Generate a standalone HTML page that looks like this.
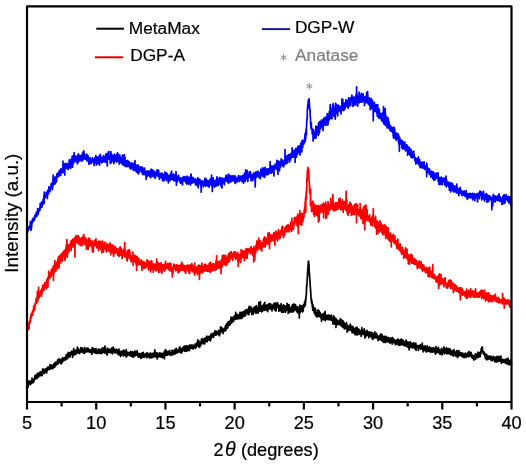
<!DOCTYPE html>
<html><head><meta charset="utf-8"><style>
html,body{margin:0;padding:0;background:#fff;font-family:"Liberation Sans",sans-serif;}
body{width:526px;height:465px;overflow:hidden;}
svg{display:block;filter:blur(0.35px);}
</style></head><body>
<svg width="526" height="465" viewBox="0 0 526 465">
<g fill="none" stroke-linejoin="round" stroke-linecap="butt">
<polyline stroke="#0000ff" stroke-width="1.7" points="27.0,232.6 27.1,233.1 27.3,231.8 27.4,228.7 27.6,232.3 27.7,231.2 27.8,229.3 28.0,230.8 28.1,230.1 28.2,229.7 28.4,228.8 28.5,229.6 28.7,227.1 28.8,227.8 28.9,227.2 29.1,229.0 29.2,227.9 29.4,227.3 29.5,226.2 29.6,226.5 29.8,226.8 29.9,226.1 30.0,228.7 30.2,228.0 30.3,221.6 30.5,222.9 30.6,225.8 30.7,225.1 30.9,226.0 31.0,230.4 31.2,228.4 31.3,222.8 31.4,223.7 31.6,227.6 31.7,224.9 31.8,224.7 32.0,222.3 32.1,220.0 32.3,222.9 32.4,222.4 32.5,220.0 32.7,220.4 32.8,221.1 33.0,218.3 33.1,220.9 33.2,221.0 33.4,220.7 33.5,219.1 33.6,220.8 33.8,221.0 33.9,219.9 34.1,217.8 34.2,220.2 34.3,217.8 34.5,219.9 34.6,216.2 34.8,219.3 34.9,217.6 35.0,215.1 35.2,216.2 35.3,216.9 35.4,216.7 35.6,214.6 35.7,214.0 35.9,215.9 36.0,214.5 36.1,215.6 36.3,216.4 36.4,212.0 36.6,215.2 36.7,216.7 36.8,213.9 37.0,212.6 37.1,215.0 37.2,214.3 37.4,215.0 37.5,212.7 37.7,208.5 37.8,212.9 37.9,212.3 38.1,214.1 38.2,214.4 38.4,209.1 38.5,209.5 38.6,212.3 38.8,211.7 38.9,209.2 39.0,210.3 39.2,210.5 39.3,210.0 39.5,210.5 39.6,209.1 39.7,208.0 39.9,207.3 40.0,210.2 40.2,203.4 40.3,204.9 40.4,206.6 40.6,204.0 40.7,204.3 40.9,205.0 41.0,207.1 41.1,205.3 41.3,206.9 41.4,207.5 41.5,205.6 41.7,201.8 41.8,202.0 42.0,207.2 42.1,203.7 42.2,202.8 42.4,204.1 42.5,203.4 42.7,204.7 42.8,202.8 42.9,200.0 43.1,201.2 43.2,202.7 43.3,199.2 43.5,201.7 43.6,202.8 43.8,197.3 43.9,195.3 44.0,200.5 44.2,203.5 44.3,192.0 44.5,196.1 44.6,198.5 44.7,195.9 44.9,196.5 45.0,196.4 45.1,197.6 45.3,195.7 45.4,196.8 45.6,195.9 45.7,194.5 45.8,195.2 46.0,193.8 46.1,195.0 46.3,192.8 46.4,192.4 46.5,196.6 46.7,194.0 46.8,193.8 46.9,194.4 47.1,192.5 47.2,192.8 47.4,198.6 47.5,193.4 47.6,190.6 47.8,194.0 47.9,191.1 48.1,190.0 48.2,190.0 48.3,190.7 48.5,194.0 48.6,189.1 48.7,191.3 48.9,186.9 49.0,190.4 49.2,191.5 49.3,189.3 49.4,188.1 49.6,189.3 49.7,189.9 49.9,189.4 50.0,191.8 50.1,188.3 50.3,186.9 50.4,187.6 50.5,187.4 50.7,187.4 50.8,187.1 51.0,187.4 51.1,183.8 51.2,188.1 51.4,185.3 51.5,184.0 51.7,187.1 51.8,188.3 51.9,186.5 52.1,185.4 52.2,183.2 52.3,189.8 52.5,185.7 52.6,181.6 52.8,187.2 52.9,183.7 53.0,180.4 53.2,175.1 53.3,181.8 53.5,184.7 53.6,183.8 53.7,176.7 53.9,181.4 54.0,178.6 54.1,180.7 54.3,181.8 54.4,182.1 54.6,179.1 54.7,184.2 54.8,184.2 55.0,177.8 55.1,180.3 55.3,178.2 55.4,179.3 55.5,177.2 55.7,182.9 55.8,177.2 55.9,178.3 56.1,179.3 56.2,176.8 56.4,177.3 56.5,182.0 56.6,176.8 56.8,174.8 56.9,174.2 57.1,176.3 57.2,176.0 57.3,176.2 57.5,173.3 57.6,177.3 57.7,175.1 57.9,175.3 58.0,174.0 58.2,174.1 58.3,172.8 58.4,176.4 58.6,173.2 58.7,173.9 58.9,175.8 59.0,175.7 59.1,174.1 59.3,170.5 59.4,175.3 59.5,175.0 59.7,171.5 59.8,175.6 60.0,172.2 60.1,171.3 60.2,172.6 60.4,172.5 60.5,174.2 60.7,169.1 60.8,175.4 60.9,170.7 61.1,168.6 61.2,172.8 61.3,170.9 61.5,172.1 61.6,170.7 61.8,171.2 61.9,171.8 62.0,169.8 62.2,172.7 62.3,170.2 62.5,169.5 62.6,171.6 62.7,172.4 62.9,171.1 63.0,161.2 63.1,172.6 63.3,167.4 63.4,168.7 63.6,170.9 63.7,167.8 63.8,170.6 64.0,170.0 64.1,171.9 64.3,167.8 64.4,168.3 64.5,170.0 64.7,163.9 64.8,175.1 64.9,167.0 65.1,166.3 65.2,169.5 65.4,167.6 65.5,163.7 65.6,168.3 65.8,168.3 65.9,165.2 66.1,165.5 66.2,167.1 66.3,164.1 66.5,167.1 66.6,166.3 66.7,164.9 66.9,163.4 67.0,166.0 67.2,164.9 67.3,168.8 67.4,166.9 67.6,168.1 67.7,166.4 67.9,166.5 68.0,164.3 68.1,167.3 68.3,169.5 68.4,165.0 68.6,164.2 68.7,165.3 68.8,164.0 69.0,163.4 69.1,165.3 69.2,159.8 69.4,167.7 69.5,164.5 69.7,164.7 69.8,166.3 69.9,163.7 70.1,167.6 70.2,163.0 70.4,162.6 70.5,163.1 70.6,163.4 70.8,168.4 70.9,163.3 71.0,159.4 71.2,165.6 71.3,162.4 71.5,160.6 71.6,159.6 71.7,160.9 71.9,161.3 72.0,159.3 72.2,156.0 72.3,160.7 72.4,159.9 72.6,167.2 72.7,163.1 72.8,160.4 73.0,161.4 73.1,157.6 73.3,161.9 73.4,160.2 73.5,161.2 73.7,163.4 73.8,154.7 74.0,160.3 74.1,152.7 74.2,160.9 74.4,156.6 74.5,158.4 74.6,159.6 74.8,161.0 74.9,159.5 75.1,157.5 75.2,157.9 75.3,160.7 75.5,159.4 75.6,155.8 75.8,161.6 75.9,160.7 76.0,161.3 76.2,158.4 76.3,161.1 76.4,156.6 76.6,159.9 76.7,157.7 76.9,160.2 77.0,161.1 77.1,157.1 77.3,164.0 77.4,158.5 77.6,161.1 77.7,159.5 77.8,155.0 78.0,158.6 78.1,159.5 78.2,162.6 78.4,153.9 78.5,156.4 78.7,160.7 78.8,155.1 78.9,155.1 79.1,158.3 79.2,159.4 79.4,155.8 79.5,158.6 79.6,157.5 79.8,160.9 79.9,157.7 80.0,160.0 80.2,155.5 80.3,157.3 80.5,157.4 80.6,160.3 80.7,158.9 80.9,155.7 81.0,159.4 81.2,159.5 81.3,157.4 81.4,160.1 81.6,157.2 81.7,161.2 81.8,157.9 82.0,157.9 82.1,155.0 82.3,158.5 82.4,153.4 82.5,154.9 82.7,155.0 82.8,160.3 83.0,152.0 83.1,156.8 83.2,158.1 83.4,157.0 83.5,159.0 83.6,153.7 83.8,150.9 83.9,157.8 84.1,153.2 84.2,155.3 84.3,153.7 84.5,158.7 84.6,158.6 84.8,155.3 84.9,159.2 85.0,157.9 85.2,157.3 85.3,157.1 85.4,156.7 85.6,158.5 85.7,157.8 85.9,156.2 86.0,159.2 86.1,155.7 86.3,158.3 86.4,158.3 86.6,154.0 86.7,156.2 86.8,160.9 87.0,157.5 87.1,156.6 87.2,155.8 87.4,159.1 87.5,157.5 87.7,155.1 87.8,155.4 87.9,156.5 88.1,156.3 88.2,160.6 88.4,161.1 88.5,160.3 88.6,159.2 88.8,164.2 88.9,159.0 89.0,161.0 89.2,163.5 89.3,160.7 89.5,158.1 89.6,159.0 89.7,158.1 89.9,157.5 90.0,159.4 90.2,160.3 90.3,163.6 90.4,159.4 90.6,162.6 90.7,163.5 90.8,160.1 91.0,163.7 91.1,161.6 91.3,159.4 91.4,161.1 91.5,160.6 91.7,160.2 91.8,160.3 92.0,161.1 92.1,161.7 92.2,158.8 92.4,160.9 92.5,157.7 92.6,161.3 92.8,162.1 92.9,160.7 93.1,161.0 93.2,161.7 93.3,159.2 93.5,160.1 93.6,161.6 93.8,162.8 93.9,161.4 94.0,165.6 94.2,159.6 94.3,162.0 94.4,162.5 94.6,159.8 94.7,158.3 94.9,157.8 95.0,160.8 95.1,162.8 95.3,160.9 95.4,160.7 95.6,159.3 95.7,161.3 95.8,155.7 96.0,160.5 96.1,160.5 96.3,157.4 96.4,165.1 96.5,157.5 96.7,157.5 96.8,157.4 96.9,162.3 97.1,158.2 97.2,161.5 97.4,161.6 97.5,160.7 97.6,157.2 97.8,159.0 97.9,163.8 98.1,157.5 98.2,158.3 98.3,159.6 98.5,161.6 98.6,160.2 98.7,161.5 98.9,157.2 99.0,161.5 99.2,160.3 99.3,155.8 99.4,162.3 99.6,165.1 99.7,157.0 99.9,158.9 100.0,161.7 100.1,155.6 100.3,154.4 100.4,156.0 100.5,157.5 100.7,157.8 100.8,160.9 101.0,160.3 101.1,157.7 101.2,161.2 101.4,162.0 101.5,162.6 101.7,162.2 101.8,160.1 101.9,161.9 102.1,157.5 102.2,161.3 102.3,159.6 102.5,162.3 102.6,161.0 102.8,157.4 102.9,159.5 103.0,161.8 103.2,156.6 103.3,157.7 103.5,161.5 103.6,155.5 103.7,160.8 103.9,161.7 104.0,160.9 104.1,159.5 104.3,158.7 104.4,159.1 104.6,157.1 104.7,160.4 104.8,160.4 105.0,160.2 105.1,157.1 105.3,158.6 105.4,158.2 105.5,162.5 105.7,158.7 105.8,154.0 105.9,159.2 106.1,162.1 106.2,159.4 106.4,159.7 106.5,158.2 106.6,153.6 106.8,154.2 106.9,155.3 107.1,157.8 107.2,158.9 107.3,166.0 107.5,156.6 107.6,159.8 107.7,157.3 107.9,156.1 108.0,159.5 108.2,155.7 108.3,151.9 108.4,155.9 108.6,158.5 108.7,151.7 108.9,151.9 109.0,158.1 109.1,155.6 109.3,157.6 109.4,158.3 109.5,158.5 109.7,157.5 109.8,159.8 110.0,155.9 110.1,157.8 110.2,161.5 110.4,163.7 110.5,160.2 110.7,159.6 110.8,162.5 110.9,151.5 111.1,157.5 111.2,155.0 111.3,156.9 111.5,162.5 111.6,154.7 111.8,157.8 111.9,154.7 112.0,156.3 112.2,159.2 112.3,161.1 112.5,158.7 112.6,158.4 112.7,157.9 112.9,160.9 113.0,158.1 113.1,156.5 113.3,155.7 113.4,155.5 113.6,158.6 113.7,156.8 113.8,163.6 114.0,161.9 114.1,157.4 114.3,158.9 114.4,162.1 114.5,154.0 114.7,157.5 114.8,161.0 114.9,156.8 115.1,157.8 115.2,158.2 115.4,160.6 115.5,159.3 115.6,159.8 115.8,160.3 115.9,155.6 116.1,161.4 116.2,157.9 116.3,155.8 116.5,155.0 116.6,155.4 116.7,162.0 116.9,161.0 117.0,159.4 117.2,157.7 117.3,156.7 117.4,152.9 117.6,158.3 117.7,157.8 117.9,155.9 118.0,157.7 118.1,161.1 118.3,154.1 118.4,158.8 118.5,154.7 118.7,160.1 118.8,158.2 119.0,155.2 119.1,160.9 119.2,164.1 119.4,160.2 119.5,162.7 119.7,159.9 119.8,155.2 119.9,160.8 120.1,158.9 120.2,156.9 120.3,161.7 120.5,160.9 120.6,159.2 120.8,162.4 120.9,158.2 121.0,161.4 121.2,158.3 121.3,161.3 121.5,158.0 121.6,163.6 121.7,160.6 121.9,163.8 122.0,158.8 122.1,160.0 122.3,162.9 122.4,155.1 122.6,159.0 122.7,163.9 122.8,162.6 123.0,163.9 123.1,161.5 123.3,163.0 123.4,165.5 123.5,158.7 123.7,158.2 123.8,160.9 124.0,160.9 124.1,160.7 124.2,154.6 124.4,158.1 124.5,161.2 124.6,162.7 124.8,160.8 124.9,160.2 125.1,157.3 125.2,166.6 125.3,160.4 125.5,166.2 125.6,165.8 125.8,163.5 125.9,162.0 126.0,163.4 126.2,160.8 126.3,163.5 126.4,162.8 126.6,164.2 126.7,165.1 126.9,166.7 127.0,162.0 127.1,165.3 127.3,161.5 127.4,161.4 127.6,160.4 127.7,161.8 127.8,165.5 128.0,165.6 128.1,166.3 128.2,163.8 128.4,164.7 128.5,163.1 128.7,161.7 128.8,165.3 128.9,165.4 129.1,162.9 129.2,166.6 129.4,162.0 129.5,165.2 129.6,164.6 129.8,164.7 129.9,163.8 130.0,168.1 130.2,167.5 130.3,168.8 130.5,166.6 130.6,163.6 130.7,165.4 130.9,163.7 131.0,167.2 131.2,168.7 131.3,166.8 131.4,164.4 131.6,165.0 131.7,166.1 131.8,162.8 132.0,166.1 132.1,166.4 132.3,164.3 132.4,165.8 132.5,166.9 132.7,165.0 132.8,165.5 133.0,168.6 133.1,167.2 133.2,170.3 133.4,165.0 133.5,163.6 133.6,169.1 133.8,169.3 133.9,165.5 134.1,164.2 134.2,167.0 134.3,163.7 134.5,169.8 134.6,162.3 134.8,166.4 134.9,162.8 135.0,160.7 135.2,170.8 135.3,167.1 135.4,167.0 135.6,165.8 135.7,165.7 135.9,164.8 136.0,170.3 136.1,168.0 136.3,171.5 136.4,165.5 136.6,167.7 136.7,168.8 136.8,171.8 137.0,172.4 137.1,167.5 137.2,166.9 137.4,166.1 137.5,172.5 137.7,169.8 137.8,168.6 137.9,169.7 138.1,164.9 138.2,166.6 138.4,173.9 138.5,171.2 138.6,170.4 138.8,167.8 138.9,170.7 139.0,173.0 139.2,167.1 139.3,169.3 139.5,168.0 139.6,169.5 139.7,168.6 139.9,168.3 140.0,166.8 140.2,168.4 140.3,167.1 140.4,168.0 140.6,168.3 140.7,170.1 140.8,167.7 141.0,168.7 141.1,171.6 141.3,168.9 141.4,169.5 141.5,171.5 141.7,170.5 141.8,167.0 142.0,170.8 142.1,170.7 142.2,171.2 142.4,173.1 142.5,174.5 142.6,167.4 142.8,171.2 142.9,169.0 143.1,170.4 143.2,171.3 143.3,168.7 143.5,173.8 143.6,171.3 143.8,173.2 143.9,172.8 144.0,174.6 144.2,174.5 144.3,169.2 144.4,172.4 144.6,168.0 144.7,171.5 144.9,173.6 145.0,173.7 145.1,174.6 145.3,171.2 145.4,172.6 145.6,172.0 145.7,174.4 145.8,175.0 146.0,171.4 146.1,179.5 146.2,172.1 146.4,171.6 146.5,173.7 146.7,174.3 146.8,173.9 146.9,174.3 147.1,176.4 147.2,173.3 147.4,176.3 147.5,176.0 147.6,170.9 147.8,171.3 147.9,171.5 148.0,173.7 148.2,173.2 148.3,172.2 148.5,171.4 148.6,173.7 148.7,175.4 148.9,172.8 149.0,172.1 149.2,173.0 149.3,172.4 149.4,172.2 149.6,176.0 149.7,174.8 149.8,174.2 150.0,170.9 150.1,177.0 150.3,173.5 150.4,171.9 150.5,172.0 150.7,172.0 150.8,177.6 151.0,173.8 151.1,174.7 151.2,169.1 151.4,174.8 151.5,171.4 151.7,171.3 151.8,174.8 151.9,171.9 152.1,175.2 152.2,175.7 152.3,170.0 152.5,173.0 152.6,170.2 152.8,173.1 152.9,175.6 153.0,170.2 153.2,176.8 153.3,172.7 153.5,171.1 153.6,173.3 153.7,175.5 153.9,171.2 154.0,174.0 154.1,171.4 154.3,176.6 154.4,174.6 154.6,173.7 154.7,176.9 154.8,172.3 155.0,174.3 155.1,178.5 155.3,174.5 155.4,177.4 155.5,174.9 155.7,172.8 155.8,176.8 155.9,174.3 156.1,173.0 156.2,172.2 156.4,172.6 156.5,171.1 156.6,174.0 156.8,174.4 156.9,174.9 157.1,169.8 157.2,175.1 157.3,173.6 157.5,170.7 157.6,174.0 157.7,175.6 157.9,175.4 158.0,173.1 158.2,176.6 158.3,176.4 158.4,174.3 158.6,170.2 158.7,173.0 158.9,175.4 159.0,174.2 159.1,176.6 159.3,177.0 159.4,175.5 159.5,179.3 159.7,173.9 159.8,177.4 160.0,174.4 160.1,174.0 160.2,176.7 160.4,174.5 160.5,177.7 160.7,173.6 160.8,175.9 160.9,174.1 161.1,175.2 161.2,174.9 161.3,173.2 161.5,176.4 161.6,172.9 161.8,173.5 161.9,177.5 162.0,178.0 162.2,177.4 162.3,176.9 162.5,180.6 162.6,174.1 162.7,178.9 162.9,174.4 163.0,177.8 163.1,177.0 163.3,178.5 163.4,178.6 163.6,176.5 163.7,176.3 163.8,174.7 164.0,180.9 164.1,178.3 164.3,177.6 164.4,175.9 164.5,176.3 164.7,175.8 164.8,176.3 164.9,172.2 165.1,177.0 165.2,176.5 165.4,177.6 165.5,177.4 165.6,178.8 165.8,177.1 165.9,179.0 166.1,172.6 166.2,175.5 166.3,180.4 166.5,175.2 166.6,176.8 166.7,178.7 166.9,175.6 167.0,179.0 167.2,175.0 167.3,173.8 167.4,175.3 167.6,174.6 167.7,177.9 167.9,177.5 168.0,178.6 168.1,176.0 168.3,183.0 168.4,178.0 168.5,177.8 168.7,179.1 168.8,177.5 169.0,177.0 169.1,175.7 169.2,179.3 169.4,179.0 169.5,179.4 169.7,176.6 169.8,175.8 169.9,181.0 170.1,176.7 170.2,174.5 170.3,178.5 170.5,179.8 170.6,174.5 170.8,176.1 170.9,176.1 171.0,176.1 171.2,172.2 171.3,176.6 171.5,171.2 171.6,177.5 171.7,177.8 171.9,178.4 172.0,175.2 172.1,179.4 172.3,175.7 172.4,175.0 172.6,175.6 172.7,175.8 172.8,178.1 173.0,179.7 173.1,174.1 173.3,177.2 173.4,180.3 173.5,178.7 173.7,179.2 173.8,175.3 173.9,179.8 174.1,174.7 174.2,177.8 174.4,180.1 174.5,181.0 174.6,178.5 174.8,179.3 174.9,176.3 175.1,176.4 175.2,179.8 175.3,177.8 175.5,177.5 175.6,175.2 175.7,178.3 175.9,179.3 176.0,171.7 176.2,177.0 176.3,181.1 176.4,185.2 176.6,178.2 176.7,176.3 176.9,177.5 177.0,178.4 177.1,181.7 177.3,177.7 177.4,181.8 177.5,176.7 177.7,177.9 177.8,180.2 178.0,178.1 178.1,176.9 178.2,178.4 178.4,179.6 178.5,175.3 178.7,178.6 178.8,178.8 178.9,178.1 179.1,180.2 179.2,177.7 179.4,178.2 179.5,179.4 179.6,180.6 179.8,178.7 179.9,182.2 180.0,177.6 180.2,181.8 180.3,177.9 180.5,179.2 180.6,180.4 180.7,183.4 180.9,181.3 181.0,178.9 181.2,182.2 181.3,179.4 181.4,178.0 181.6,180.3 181.7,179.9 181.8,181.6 182.0,178.6 182.1,180.1 182.3,181.0 182.4,179.9 182.5,184.9 182.7,177.6 182.8,180.7 183.0,179.0 183.1,179.4 183.2,177.8 183.4,178.3 183.5,176.6 183.6,178.7 183.8,179.7 183.9,178.7 184.1,180.3 184.2,179.4 184.3,181.2 184.5,178.7 184.6,176.5 184.8,180.2 184.9,179.1 185.0,177.7 185.2,180.9 185.3,180.1 185.4,180.6 185.6,179.1 185.7,180.2 185.9,180.4 186.0,183.1 186.1,178.3 186.3,179.6 186.4,180.3 186.6,176.3 186.7,176.4 186.8,183.9 187.0,176.3 187.1,180.9 187.2,178.4 187.4,178.8 187.5,176.4 187.7,178.4 187.8,181.3 187.9,177.3 188.1,181.2 188.2,180.6 188.4,184.1 188.5,179.6 188.6,182.8 188.8,182.0 188.9,179.8 189.0,177.3 189.2,183.3 189.3,177.8 189.5,179.1 189.6,181.9 189.7,182.4 189.9,178.9 190.0,180.1 190.2,179.8 190.3,182.4 190.4,185.1 190.6,176.4 190.7,181.6 190.8,174.3 191.0,179.7 191.1,174.2 191.3,183.4 191.4,179.7 191.5,178.3 191.7,178.8 191.8,178.8 192.0,180.1 192.1,179.8 192.2,181.1 192.4,183.0 192.5,182.3 192.6,177.9 192.8,177.4 192.9,179.3 193.1,182.6 193.2,180.1 193.3,179.5 193.5,181.2 193.6,178.2 193.8,178.8 193.9,181.8 194.0,180.4 194.2,180.2 194.3,181.8 194.4,180.2 194.6,179.8 194.7,180.6 194.9,182.4 195.0,181.3 195.1,179.2 195.3,180.5 195.4,182.6 195.6,184.9 195.7,179.2 195.8,181.7 196.0,180.7 196.1,181.1 196.2,184.7 196.4,184.0 196.5,182.2 196.7,180.2 196.8,180.1 196.9,180.6 197.1,182.0 197.2,185.7 197.4,184.3 197.5,179.0 197.6,181.8 197.8,178.9 197.9,177.7 198.0,183.0 198.2,187.8 198.3,179.8 198.5,185.0 198.6,180.0 198.7,179.8 198.9,183.4 199.0,182.6 199.2,181.8 199.3,182.2 199.4,182.9 199.6,182.1 199.7,182.3 199.8,179.0 200.0,180.3 200.1,183.7 200.3,181.3 200.4,183.9 200.5,185.0 200.7,182.3 200.8,183.7 201.0,186.6 201.1,184.3 201.2,192.2 201.4,185.8 201.5,184.0 201.6,182.5 201.8,184.8 201.9,180.6 202.1,183.4 202.2,183.6 202.3,182.2 202.5,184.1 202.6,181.5 202.8,184.4 202.9,182.1 203.0,182.2 203.2,182.2 203.3,182.0 203.4,186.8 203.6,186.0 203.7,181.6 203.9,185.0 204.0,183.9 204.1,182.0 204.3,185.8 204.4,180.6 204.6,179.9 204.7,183.3 204.8,179.7 205.0,178.2 205.1,184.2 205.2,183.7 205.4,183.7 205.5,181.7 205.7,182.9 205.8,180.8 205.9,186.1 206.1,184.4 206.2,184.3 206.4,179.0 206.5,184.2 206.6,185.7 206.8,185.0 206.9,184.2 207.1,182.6 207.2,182.3 207.3,184.4 207.5,184.2 207.6,183.5 207.7,182.3 207.9,186.0 208.0,180.6 208.2,182.8 208.3,182.0 208.4,185.2 208.6,186.0 208.7,185.7 208.9,184.8 209.0,180.7 209.1,187.3 209.3,184.4 209.4,182.8 209.5,182.5 209.7,182.5 209.8,184.1 210.0,183.6 210.1,182.0 210.2,178.9 210.4,182.7 210.5,183.7 210.7,183.6 210.8,182.4 210.9,183.8 211.1,185.0 211.2,181.8 211.3,185.3 211.5,179.2 211.6,175.2 211.8,181.1 211.9,178.3 212.0,181.0 212.2,185.4 212.3,191.4 212.5,183.4 212.6,186.2 212.7,183.6 212.9,181.9 213.0,183.1 213.1,177.9 213.3,184.4 213.4,183.2 213.6,184.9 213.7,182.7 213.8,185.2 214.0,180.7 214.1,182.7 214.3,183.6 214.4,187.1 214.5,180.5 214.7,186.2 214.8,184.0 214.9,182.2 215.1,185.1 215.2,182.7 215.4,184.6 215.5,186.3 215.6,183.4 215.8,180.4 215.9,180.6 216.1,182.3 216.2,181.9 216.3,179.8 216.5,180.6 216.6,183.3 216.7,185.9 216.9,176.8 217.0,181.8 217.2,181.8 217.3,183.8 217.4,184.2 217.6,182.8 217.7,180.9 217.9,180.0 218.0,178.7 218.1,184.6 218.3,181.9 218.4,181.2 218.5,185.3 218.7,179.4 218.8,182.6 219.0,184.1 219.1,183.8 219.2,178.4 219.4,183.7 219.5,179.5 219.7,177.3 219.8,178.4 219.9,179.2 220.1,181.4 220.2,179.4 220.3,178.6 220.5,181.0 220.6,184.9 220.8,180.2 220.9,182.5 221.0,181.9 221.2,186.7 221.3,178.2 221.5,184.0 221.6,179.6 221.7,180.8 221.9,181.8 222.0,188.0 222.1,180.3 222.3,178.0 222.4,183.8 222.6,179.7 222.7,180.9 222.8,180.9 223.0,181.0 223.1,180.3 223.3,181.1 223.4,181.4 223.5,182.4 223.7,179.7 223.8,179.1 223.9,178.5 224.1,181.1 224.2,180.0 224.4,184.6 224.5,181.5 224.6,183.6 224.8,180.7 224.9,181.8 225.1,178.1 225.2,178.5 225.3,179.7 225.5,177.5 225.6,180.6 225.7,177.0 225.9,179.8 226.0,175.1 226.2,178.0 226.3,179.0 226.4,179.0 226.6,175.8 226.7,179.4 226.9,181.1 227.0,180.2 227.1,177.8 227.3,177.9 227.4,177.0 227.5,180.8 227.7,182.5 227.8,178.7 228.0,178.9 228.1,179.8 228.2,180.7 228.4,174.1 228.5,179.5 228.7,183.3 228.8,180.5 228.9,179.9 229.1,179.7 229.2,181.2 229.3,177.1 229.5,177.0 229.6,179.5 229.8,177.7 229.9,179.4 230.0,175.3 230.2,180.2 230.3,180.3 230.5,178.8 230.6,179.2 230.7,182.1 230.9,177.1 231.0,177.4 231.1,177.4 231.3,178.5 231.4,177.5 231.6,179.5 231.7,178.1 231.8,176.0 232.0,175.8 232.1,181.0 232.3,178.7 232.4,178.4 232.5,179.0 232.7,178.6 232.8,180.2 232.9,180.0 233.1,177.8 233.2,177.0 233.4,176.2 233.5,175.8 233.6,181.0 233.8,176.5 233.9,175.6 234.1,176.6 234.2,176.7 234.3,178.6 234.5,176.2 234.6,178.9 234.8,179.0 234.9,180.7 235.0,182.2 235.2,183.4 235.3,180.7 235.4,176.1 235.6,177.9 235.7,179.0 235.9,182.4 236.0,179.9 236.1,182.5 236.3,178.3 236.4,180.0 236.6,180.4 236.7,178.3 236.8,180.3 237.0,180.6 237.1,178.4 237.2,180.6 237.4,181.7 237.5,178.7 237.7,178.4 237.8,177.8 237.9,177.2 238.1,178.8 238.2,177.7 238.4,177.9 238.5,177.5 238.6,175.5 238.8,176.3 238.9,178.6 239.0,176.0 239.2,176.8 239.3,181.6 239.5,180.6 239.6,176.5 239.7,178.7 239.9,176.4 240.0,180.4 240.2,176.3 240.3,178.0 240.4,180.3 240.6,176.1 240.7,180.4 240.8,176.3 241.0,178.6 241.1,177.6 241.3,177.9 241.4,178.1 241.5,177.9 241.7,176.3 241.8,180.2 242.0,180.2 242.1,181.8 242.2,181.8 242.4,175.8 242.5,180.9 242.6,180.8 242.8,177.0 242.9,180.1 243.1,180.7 243.2,176.7 243.3,175.1 243.5,177.3 243.6,183.2 243.8,178.1 243.9,175.7 244.0,177.1 244.2,175.5 244.3,177.0 244.4,178.1 244.6,173.0 244.7,178.7 244.9,180.8 245.0,177.6 245.1,177.2 245.3,179.8 245.4,181.5 245.6,175.2 245.7,169.9 245.8,177.3 246.0,178.4 246.1,177.3 246.2,178.2 246.4,178.3 246.5,177.8 246.7,175.3 246.8,176.1 246.9,179.0 247.1,170.3 247.2,176.1 247.4,175.9 247.5,172.7 247.6,174.4 247.8,174.0 247.9,181.5 248.0,177.9 248.2,174.9 248.3,176.6 248.5,178.0 248.6,175.9 248.7,177.7 248.9,175.3 249.0,175.8 249.2,176.5 249.3,175.8 249.4,171.7 249.6,176.7 249.7,177.1 249.8,177.2 250.0,174.0 250.1,176.9 250.3,176.6 250.4,172.6 250.5,171.8 250.7,177.2 250.8,174.6 251.0,178.6 251.1,180.9 251.2,175.7 251.4,175.4 251.5,177.1 251.6,178.2 251.8,174.6 251.9,179.6 252.1,179.6 252.2,178.9 252.3,176.4 252.5,178.9 252.6,178.8 252.8,174.6 252.9,180.6 253.0,175.7 253.2,176.8 253.3,174.7 253.4,176.2 253.6,177.8 253.7,174.1 253.9,172.5 254.0,175.0 254.1,173.1 254.3,174.0 254.4,175.3 254.6,175.7 254.7,178.4 254.8,173.5 255.0,176.3 255.1,178.1 255.2,186.9 255.4,180.4 255.5,175.9 255.7,178.5 255.8,174.3 255.9,172.1 256.1,172.4 256.2,171.9 256.4,172.9 256.5,174.1 256.6,176.9 256.8,175.9 256.9,175.9 257.0,174.3 257.2,173.7 257.3,175.3 257.5,175.6 257.6,176.0 257.7,176.1 257.9,174.6 258.0,171.0 258.2,172.3 258.3,172.8 258.4,172.3 258.6,173.9 258.7,175.7 258.8,177.5 259.0,175.1 259.1,173.4 259.3,173.8 259.4,172.5 259.5,177.7 259.7,176.5 259.8,175.2 260.0,176.0 260.1,175.9 260.2,178.8 260.4,173.4 260.5,175.0 260.6,175.8 260.8,176.9 260.9,169.0 261.1,172.6 261.2,173.3 261.3,171.4 261.5,174.9 261.6,173.7 261.8,172.2 261.9,169.6 262.0,169.9 262.2,170.4 262.3,173.0 262.5,169.6 262.6,167.8 262.7,168.8 262.9,170.5 263.0,175.1 263.1,176.8 263.3,170.7 263.4,173.5 263.6,174.4 263.7,174.4 263.8,171.5 264.0,169.1 264.1,170.8 264.3,168.0 264.4,172.1 264.5,173.0 264.7,177.5 264.8,171.6 264.9,172.1 265.1,167.4 265.2,174.0 265.4,173.0 265.5,170.1 265.6,170.9 265.8,173.6 265.9,170.0 266.1,171.4 266.2,174.7 266.3,172.0 266.5,169.0 266.6,171.2 266.7,173.2 266.9,171.3 267.0,174.4 267.2,174.7 267.3,171.1 267.4,171.1 267.6,171.6 267.7,168.8 267.9,172.2 268.0,171.1 268.1,172.7 268.3,169.8 268.4,169.1 268.5,174.5 268.7,169.2 268.8,169.8 269.0,169.5 269.1,170.2 269.2,169.1 269.4,170.8 269.5,169.5 269.7,170.1 269.8,171.9 269.9,172.7 270.1,161.5 270.2,169.4 270.3,169.0 270.5,170.9 270.6,170.8 270.8,167.2 270.9,171.7 271.0,170.1 271.2,173.5 271.3,171.0 271.5,167.0 271.6,166.2 271.7,171.3 271.9,166.7 272.0,169.7 272.1,167.7 272.3,172.5 272.4,168.1 272.6,170.8 272.7,170.4 272.8,167.2 273.0,167.1 273.1,170.6 273.3,167.7 273.4,165.6 273.5,169.8 273.7,172.8 273.8,167.3 273.9,175.9 274.1,167.2 274.2,169.9 274.4,166.8 274.5,169.9 274.6,168.3 274.8,166.5 274.9,167.1 275.1,165.4 275.2,164.2 275.3,164.3 275.5,166.7 275.6,164.7 275.7,167.7 275.9,168.0 276.0,168.0 276.2,165.9 276.3,166.9 276.4,166.3 276.6,169.4 276.7,164.8 276.9,160.3 277.0,165.4 277.1,165.9 277.3,164.5 277.4,164.4 277.5,167.8 277.7,164.3 277.8,167.4 278.0,174.4 278.1,168.0 278.2,161.0 278.4,166.9 278.5,166.2 278.7,166.1 278.8,161.5 278.9,166.5 279.1,162.9 279.2,167.7 279.3,167.4 279.5,170.8 279.6,164.2 279.8,161.5 279.9,167.1 280.0,166.6 280.2,163.7 280.3,167.7 280.5,166.0 280.6,162.0 280.7,164.0 280.9,163.7 281.0,164.2 281.1,158.8 281.3,162.7 281.4,163.7 281.6,165.3 281.7,163.7 281.8,163.2 282.0,163.0 282.1,163.9 282.3,160.1 282.4,164.3 282.5,161.9 282.7,164.3 282.8,160.8 282.9,166.2 283.1,164.8 283.2,161.5 283.4,164.2 283.5,162.1 283.6,167.0 283.8,161.8 283.9,161.3 284.1,163.2 284.2,162.5 284.3,164.8 284.5,162.9 284.6,163.1 284.7,159.0 284.9,163.1 285.0,149.7 285.2,162.4 285.3,160.7 285.4,161.3 285.6,158.4 285.7,161.3 285.9,164.0 286.0,160.7 286.1,159.7 286.3,158.0 286.4,160.8 286.5,156.1 286.7,159.0 286.8,156.2 287.0,163.1 287.1,163.1 287.2,160.5 287.4,162.7 287.5,159.7 287.7,159.4 287.8,156.7 287.9,155.3 288.1,157.9 288.2,156.3 288.3,156.5 288.5,159.4 288.6,157.7 288.8,154.5 288.9,155.8 289.0,155.8 289.2,156.9 289.3,154.7 289.5,162.2 289.6,161.6 289.7,155.0 289.9,159.0 290.0,158.9 290.2,154.6 290.3,157.2 290.4,160.0 290.6,158.4 290.7,159.9 290.8,153.5 291.0,154.4 291.1,156.1 291.3,157.0 291.4,155.4 291.5,154.4 291.7,153.6 291.8,153.2 292.0,155.2 292.1,147.8 292.2,157.5 292.4,152.3 292.5,150.0 292.6,154.5 292.8,150.1 292.9,154.6 293.1,152.4 293.2,155.2 293.3,155.6 293.5,156.9 293.6,152.9 293.8,153.3 293.9,153.8 294.0,150.8 294.2,155.1 294.3,154.2 294.4,150.9 294.6,157.1 294.7,157.5 294.9,150.5 295.0,157.2 295.1,162.4 295.3,154.5 295.4,149.9 295.6,148.5 295.7,151.2 295.8,150.3 296.0,151.2 296.1,150.7 296.2,152.1 296.4,149.5 296.5,150.3 296.7,157.1 296.8,149.6 296.9,151.5 297.1,150.3 297.2,149.8 297.4,147.4 297.5,150.5 297.6,149.2 297.8,150.9 297.9,153.8 298.0,149.1 298.2,150.2 298.3,146.0 298.5,148.4 298.6,151.7 298.7,148.2 298.9,146.9 299.0,148.7 299.2,147.6 299.3,147.7 299.4,147.2 299.6,152.9 299.7,145.9 299.8,146.9 300.0,146.4 300.1,155.1 300.3,147.0 300.4,150.8 300.5,148.0 300.7,147.0 300.8,143.1 301.0,149.0 301.1,147.5 301.2,146.9 301.4,145.3 301.5,144.1 301.6,142.0 301.8,152.0 301.9,145.3 302.1,143.6 302.2,140.3 302.3,144.4 302.5,144.1 302.6,147.9 302.8,145.7 302.9,142.2 303.0,140.9 303.2,142.8 303.3,141.1 303.4,143.2 303.6,144.0 303.7,144.1 303.9,143.9 304.0,141.8 304.1,143.3 304.3,139.4 304.4,140.7 304.6,142.2 304.7,140.4 304.8,136.0 305.0,136.0 305.1,134.1 305.2,141.8 305.4,132.8 305.5,139.7 305.7,138.8 305.8,135.7 305.9,134.5 306.1,129.2 306.2,130.9 306.4,135.0 306.5,125.9 306.6,125.3 306.8,121.5 306.9,120.4 307.0,118.6 307.2,119.0 307.3,111.1 307.5,107.3 307.6,108.8 307.7,104.9 307.9,108.6 308.0,105.2 308.2,100.5 308.3,102.4 308.4,103.3 308.6,100.7 308.7,99.5 308.8,103.0 309.0,101.3 309.1,98.8 309.3,108.3 309.4,102.7 309.5,106.4 309.7,108.0 309.8,109.7 310.0,111.3 310.1,110.1 310.2,116.9 310.4,117.2 310.5,118.8 310.6,123.3 310.8,124.9 310.9,127.0 311.1,128.9 311.2,126.8 311.3,122.6 311.5,128.1 311.6,128.6 311.8,129.4 311.9,128.5 312.0,128.5 312.2,133.5 312.3,134.0 312.4,129.3 312.6,134.1 312.7,132.5 312.9,131.8 313.0,135.1 313.1,141.1 313.3,132.7 313.4,134.5 313.6,129.6 313.7,133.6 313.8,134.4 314.0,131.8 314.1,135.8 314.2,136.3 314.4,134.2 314.5,135.3 314.7,137.4 314.8,138.4 314.9,133.7 315.1,135.8 315.2,137.3 315.4,134.7 315.5,132.5 315.6,131.8 315.8,132.3 315.9,126.2 316.0,138.0 316.2,130.8 316.3,132.6 316.5,131.6 316.6,132.7 316.7,129.7 316.9,126.7 317.0,134.2 317.2,129.4 317.3,129.6 317.4,129.5 317.6,132.5 317.7,131.1 317.9,126.5 318.0,130.9 318.1,128.6 318.3,135.5 318.4,126.1 318.5,123.0 318.7,126.7 318.8,124.1 319.0,133.9 319.1,131.5 319.2,130.5 319.4,125.5 319.5,132.4 319.7,121.6 319.8,123.1 319.9,124.0 320.1,123.5 320.2,126.3 320.3,126.1 320.5,123.8 320.6,128.0 320.8,128.6 320.9,126.2 321.0,124.7 321.2,122.8 321.3,120.2 321.5,122.2 321.6,123.6 321.7,126.7 321.9,120.0 322.0,120.6 322.1,124.9 322.3,121.4 322.4,125.1 322.6,122.7 322.7,121.5 322.8,120.0 323.0,123.6 323.1,130.5 323.3,121.8 323.4,121.8 323.5,123.9 323.7,123.5 323.8,118.1 323.9,122.0 324.1,123.8 324.2,125.2 324.4,124.0 324.5,122.3 324.6,118.7 324.8,119.2 324.9,123.8 325.1,119.1 325.2,123.5 325.3,124.1 325.5,117.2 325.6,121.1 325.7,119.5 325.9,125.6 326.0,121.9 326.2,118.1 326.3,120.4 326.4,117.0 326.6,122.0 326.7,120.0 326.9,117.9 327.0,120.4 327.1,114.7 327.3,113.7 327.4,117.8 327.5,116.4 327.7,116.9 327.8,124.9 328.0,124.4 328.1,118.6 328.2,114.7 328.4,114.9 328.5,119.2 328.7,121.1 328.8,117.0 328.9,117.7 329.1,118.0 329.2,119.7 329.3,111.6 329.5,117.0 329.6,117.6 329.8,118.7 329.9,116.8 330.0,111.8 330.2,104.5 330.3,109.7 330.5,114.6 330.6,114.6 330.7,115.4 330.9,111.3 331.0,111.2 331.1,118.4 331.3,114.5 331.4,118.6 331.6,115.6 331.7,109.4 331.8,115.8 332.0,118.7 332.1,112.5 332.3,107.8 332.4,114.9 332.5,112.4 332.7,113.8 332.8,104.8 332.9,113.5 333.1,103.7 333.2,109.1 333.4,114.4 333.5,106.9 333.6,106.2 333.8,110.1 333.9,116.2 334.1,115.8 334.2,109.1 334.3,114.1 334.5,113.3 334.6,112.7 334.7,112.4 334.9,109.2 335.0,113.6 335.2,114.4 335.3,119.2 335.4,113.8 335.6,103.2 335.7,106.7 335.9,110.7 336.0,106.4 336.1,104.2 336.3,109.3 336.4,108.6 336.5,109.0 336.7,110.9 336.8,111.8 337.0,113.4 337.1,111.1 337.2,105.5 337.4,105.6 337.5,106.3 337.7,116.1 337.8,107.1 337.9,107.3 338.1,105.2 338.2,111.1 338.3,110.8 338.5,111.5 338.6,108.5 338.8,109.7 338.9,105.5 339.0,105.6 339.2,107.0 339.3,110.7 339.5,109.2 339.6,106.3 339.7,110.0 339.9,110.7 340.0,109.9 340.1,107.7 340.3,109.6 340.4,107.9 340.6,107.5 340.7,108.1 340.8,110.6 341.0,114.0 341.1,113.1 341.3,109.9 341.4,106.2 341.5,105.9 341.7,105.9 341.8,110.2 341.9,99.0 342.1,107.8 342.2,100.8 342.4,106.2 342.5,110.0 342.6,104.8 342.8,99.4 342.9,109.6 343.1,109.9 343.2,108.7 343.3,108.5 343.5,103.0 343.6,109.2 343.7,110.7 343.9,107.4 344.0,105.8 344.2,108.5 344.3,108.4 344.4,103.0 344.6,109.4 344.7,107.7 344.9,105.6 345.0,108.8 345.1,107.8 345.3,107.4 345.4,104.1 345.6,107.6 345.7,101.6 345.8,104.3 346.0,99.7 346.1,100.0 346.2,106.4 346.4,104.6 346.5,105.0 346.7,106.0 346.8,104.8 346.9,101.7 347.1,104.0 347.2,103.7 347.4,101.7 347.5,102.5 347.6,101.9 347.8,100.9 347.9,101.5 348.0,103.1 348.2,108.4 348.3,99.8 348.5,104.0 348.6,97.9 348.7,106.8 348.9,101.3 349.0,102.4 349.2,106.1 349.3,105.8 349.4,98.7 349.6,104.5 349.7,102.2 349.8,104.7 350.0,103.4 350.1,105.1 350.3,103.9 350.4,102.3 350.5,105.4 350.7,97.9 350.8,101.2 351.0,99.6 351.1,102.0 351.2,100.9 351.4,101.1 351.5,99.7 351.6,99.8 351.8,96.0 351.9,95.2 352.1,101.7 352.2,98.8 352.3,98.1 352.5,98.5 352.6,106.1 352.8,101.5 352.9,102.2 353.0,100.5 353.2,100.2 353.3,98.9 353.4,106.0 353.6,97.1 353.7,103.1 353.9,101.7 354.0,101.5 354.1,97.1 354.3,98.2 354.4,105.0 354.6,100.0 354.7,104.3 354.8,103.9 355.0,103.8 355.1,103.6 355.2,97.8 355.4,99.7 355.5,102.8 355.7,97.1 355.8,105.0 355.9,94.8 356.1,100.2 356.2,97.6 356.4,101.2 356.5,97.6 356.6,86.8 356.8,96.1 356.9,102.5 357.0,94.0 357.2,100.6 357.3,99.7 357.5,100.7 357.6,96.4 357.7,106.2 357.9,102.0 358.0,99.8 358.2,100.2 358.3,98.3 358.4,101.1 358.6,96.6 358.7,101.0 358.8,101.1 359.0,95.8 359.1,92.2 359.3,99.3 359.4,99.2 359.5,102.8 359.7,99.3 359.8,97.7 360.0,95.1 360.1,98.6 360.2,97.0 360.4,96.1 360.5,98.7 360.6,102.1 360.8,99.0 360.9,95.6 361.1,99.2 361.2,94.7 361.3,93.3 361.5,99.2 361.6,96.3 361.8,101.8 361.9,99.6 362.0,96.2 362.2,99.2 362.3,102.1 362.4,97.6 362.6,94.7 362.7,96.0 362.9,95.3 363.0,94.2 363.1,93.8 363.3,99.0 363.4,100.8 363.6,97.3 363.7,100.8 363.8,100.7 364.0,96.7 364.1,97.7 364.2,97.6 364.4,100.5 364.5,105.7 364.7,98.1 364.8,103.7 364.9,99.2 365.1,100.8 365.2,97.2 365.4,99.7 365.5,98.1 365.6,97.3 365.8,98.6 365.9,98.4 366.0,101.3 366.2,102.3 366.3,95.3 366.5,102.2 366.6,92.5 366.7,100.0 366.9,101.3 367.0,97.4 367.2,98.6 367.3,97.6 367.4,103.0 367.6,91.6 367.7,98.1 367.8,95.3 368.0,101.1 368.1,104.0 368.3,103.9 368.4,102.4 368.5,101.7 368.7,98.9 368.8,104.6 369.0,103.1 369.1,98.6 369.2,97.8 369.4,99.3 369.5,103.6 369.6,104.2 369.8,105.5 369.9,98.9 370.1,100.1 370.2,109.7 370.3,102.4 370.5,101.3 370.6,98.6 370.8,101.5 370.9,103.0 371.0,102.1 371.2,102.2 371.3,98.7 371.4,108.7 371.6,105.0 371.7,100.2 371.9,107.6 372.0,105.0 372.1,107.3 372.3,104.8 372.4,103.2 372.6,102.9 372.7,100.6 372.8,107.6 373.0,106.5 373.1,107.3 373.3,120.7 373.4,106.8 373.5,109.3 373.7,109.7 373.8,107.8 373.9,108.0 374.1,105.6 374.2,103.7 374.4,102.7 374.5,111.0 374.6,107.1 374.8,105.4 374.9,111.4 375.1,109.5 375.2,106.7 375.3,109.1 375.5,106.0 375.6,107.4 375.7,111.4 375.9,106.4 376.0,105.4 376.2,104.7 376.3,106.0 376.4,106.2 376.6,105.6 376.7,112.7 376.9,107.5 377.0,104.8 377.1,109.7 377.3,116.5 377.4,112.0 377.5,113.6 377.7,104.7 377.8,109.7 378.0,115.0 378.1,111.2 378.2,116.2 378.4,114.0 378.5,113.9 378.7,118.0 378.8,112.0 378.9,112.0 379.1,114.1 379.2,114.8 379.3,109.2 379.5,117.8 379.6,114.7 379.8,114.3 379.9,116.6 380.0,114.0 380.2,118.5 380.3,115.5 380.5,117.8 380.6,113.4 380.7,115.7 380.9,117.8 381.0,113.6 381.1,114.4 381.3,116.0 381.4,120.1 381.6,119.1 381.7,119.7 381.8,117.6 382.0,119.7 382.1,121.5 382.3,117.9 382.4,118.6 382.5,119.4 382.7,112.4 382.8,117.5 382.9,119.2 383.1,121.0 383.2,118.2 383.4,122.3 383.5,106.5 383.6,118.8 383.8,123.9 383.9,115.6 384.1,119.2 384.2,119.5 384.3,120.0 384.5,119.0 384.6,122.3 384.7,117.5 384.9,122.6 385.0,124.8 385.2,108.7 385.3,122.2 385.4,120.9 385.6,114.1 385.7,125.5 385.9,121.4 386.0,123.1 386.1,120.7 386.3,122.1 386.4,118.4 386.5,121.9 386.7,117.1 386.8,122.1 387.0,120.8 387.1,127.9 387.2,125.8 387.4,121.9 387.5,125.8 387.7,124.0 387.8,120.6 387.9,117.6 388.1,127.5 388.2,125.4 388.3,119.1 388.5,126.6 388.6,127.9 388.8,124.0 388.9,128.5 389.0,121.9 389.2,126.3 389.3,127.2 389.5,129.0 389.6,127.5 389.7,127.4 389.9,128.5 390.0,125.2 390.1,130.7 390.3,126.0 390.4,129.2 390.6,126.7 390.7,126.0 390.8,128.5 391.0,128.7 391.1,131.1 391.3,130.9 391.4,127.2 391.5,130.4 391.7,130.1 391.8,128.1 391.9,127.5 392.1,130.9 392.2,129.6 392.4,127.6 392.5,131.1 392.6,132.5 392.8,132.2 392.9,128.7 393.1,130.3 393.2,136.0 393.3,130.2 393.5,131.0 393.6,138.2 393.7,133.5 393.9,131.1 394.0,127.1 394.2,133.3 394.3,128.9 394.4,132.7 394.6,130.6 394.7,128.9 394.9,137.8 395.0,133.8 395.1,136.4 395.3,136.2 395.4,132.6 395.5,135.3 395.7,134.3 395.8,139.8 396.0,136.2 396.1,134.6 396.2,140.1 396.4,137.2 396.5,137.4 396.7,134.2 396.8,134.0 396.9,133.1 397.1,137.8 397.2,134.6 397.3,137.1 397.5,136.6 397.6,138.1 397.8,138.7 397.9,138.1 398.0,138.6 398.2,135.4 398.3,134.2 398.5,142.2 398.6,140.2 398.7,135.3 398.9,144.3 399.0,137.5 399.1,140.9 399.3,140.9 399.4,151.3 399.6,142.0 399.7,137.4 399.8,140.9 400.0,140.3 400.1,140.8 400.3,139.8 400.4,139.4 400.5,139.4 400.7,143.7 400.8,139.9 401.0,142.9 401.1,143.4 401.2,142.5 401.4,144.2 401.5,144.3 401.6,141.4 401.8,143.2 401.9,147.5 402.1,140.7 402.2,143.1 402.3,142.2 402.5,149.0 402.6,141.3 402.8,145.1 402.9,147.4 403.0,143.2 403.2,144.8 403.3,143.6 403.4,142.1 403.6,148.6 403.7,147.5 403.9,147.1 404.0,146.6 404.1,147.8 404.3,149.0 404.4,143.2 404.6,148.3 404.7,145.1 404.8,142.1 405.0,145.0 405.1,148.5 405.2,147.6 405.4,144.5 405.5,151.0 405.7,148.0 405.8,146.9 405.9,145.6 406.1,148.2 406.2,146.9 406.4,150.7 406.5,148.8 406.6,149.4 406.8,147.7 406.9,144.9 407.0,149.5 407.2,146.3 407.3,148.5 407.5,149.2 407.6,155.2 407.7,146.8 407.9,146.4 408.0,153.5 408.2,149.0 408.3,152.3 408.4,153.7 408.6,149.0 408.7,149.3 408.8,153.0 409.0,151.5 409.1,151.6 409.3,147.4 409.4,148.2 409.5,152.9 409.7,154.9 409.8,150.3 410.0,150.8 410.1,153.7 410.2,154.5 410.4,151.9 410.5,152.3 410.6,149.1 410.8,157.0 410.9,152.7 411.1,157.1 411.2,149.7 411.3,154.9 411.5,152.6 411.6,151.9 411.8,157.1 411.9,157.8 412.0,153.1 412.2,155.7 412.3,151.8 412.4,153.1 412.6,154.1 412.7,153.8 412.9,156.2 413.0,152.3 413.1,157.1 413.3,157.5 413.4,155.1 413.6,153.5 413.7,151.0 413.8,155.2 414.0,154.8 414.1,157.0 414.2,154.7 414.4,157.6 414.5,157.5 414.7,158.2 414.8,159.2 414.9,159.4 415.1,161.4 415.2,157.9 415.4,161.6 415.5,160.7 415.6,159.9 415.8,158.5 415.9,164.1 416.0,162.0 416.2,160.4 416.3,161.8 416.5,161.3 416.6,160.4 416.7,158.6 416.9,162.1 417.0,161.6 417.2,161.2 417.3,163.1 417.4,158.9 417.6,159.5 417.7,161.8 417.8,163.4 418.0,163.0 418.1,163.1 418.3,156.9 418.4,162.8 418.5,162.6 418.7,163.6 418.8,160.4 419.0,163.0 419.1,164.1 419.2,165.5 419.4,162.6 419.5,159.4 419.6,162.9 419.8,164.2 419.9,164.4 420.1,167.7 420.2,163.1 420.3,161.7 420.5,162.8 420.6,165.7 420.8,162.7 420.9,162.4 421.0,162.9 421.2,167.3 421.3,165.7 421.4,164.7 421.6,167.6 421.7,167.2 421.9,163.7 422.0,167.4 422.1,166.5 422.3,162.2 422.4,163.7 422.6,167.0 422.7,167.8 422.8,165.7 423.0,164.6 423.1,167.1 423.2,162.5 423.4,167.6 423.5,162.1 423.7,166.3 423.8,165.1 423.9,168.4 424.1,161.9 424.2,164.7 424.4,167.4 424.5,165.1 424.6,169.3 424.8,167.2 424.9,165.4 425.0,169.0 425.2,168.3 425.3,168.8 425.5,166.2 425.6,166.1 425.7,168.8 425.9,167.7 426.0,166.0 426.2,166.1 426.3,169.2 426.4,171.7 426.6,166.5 426.7,176.6 426.8,163.0 427.0,166.0 427.1,170.4 427.3,172.3 427.4,169.5 427.5,170.8 427.7,170.6 427.8,172.3 428.0,168.2 428.1,171.7 428.2,169.2 428.4,169.5 428.5,170.4 428.7,170.2 428.8,169.1 428.9,170.3 429.1,169.2 429.2,174.0 429.3,172.7 429.5,169.1 429.6,174.4 429.8,173.7 429.9,172.3 430.0,171.8 430.2,172.3 430.3,173.4 430.5,175.1 430.6,171.9 430.7,171.3 430.9,177.3 431.0,175.3 431.1,173.4 431.3,171.2 431.4,174.0 431.6,175.3 431.7,175.3 431.8,175.6 432.0,174.1 432.1,176.1 432.3,173.1 432.4,173.8 432.5,173.8 432.7,173.8 432.8,178.8 432.9,171.6 433.1,175.5 433.2,173.4 433.4,172.9 433.5,175.8 433.6,172.9 433.8,175.3 433.9,180.3 434.1,175.7 434.2,176.9 434.3,174.2 434.5,176.6 434.6,173.1 434.7,175.5 434.9,175.8 435.0,180.1 435.2,175.5 435.3,175.0 435.4,174.6 435.6,176.2 435.7,176.8 435.9,178.2 436.0,174.5 436.1,176.6 436.3,174.6 436.4,176.4 436.5,176.7 436.7,173.1 436.8,174.9 437.0,178.1 437.1,172.9 437.2,177.2 437.4,176.4 437.5,175.8 437.7,178.1 437.8,178.4 437.9,179.0 438.1,173.1 438.2,181.6 438.3,177.6 438.5,180.5 438.6,178.1 438.8,177.2 438.9,178.1 439.0,184.6 439.2,181.8 439.3,177.9 439.5,179.4 439.6,181.1 439.7,180.2 439.9,179.5 440.0,179.1 440.1,177.7 440.3,181.4 440.4,182.4 440.6,184.3 440.7,179.2 440.8,181.2 441.0,179.9 441.1,184.0 441.3,179.8 441.4,179.0 441.5,177.0 441.7,181.3 441.8,180.2 441.9,182.2 442.1,178.7 442.2,184.7 442.4,178.3 442.5,180.1 442.6,180.2 442.8,181.8 442.9,179.8 443.1,178.5 443.2,178.4 443.3,181.8 443.5,180.5 443.6,180.6 443.7,178.6 443.9,180.3 444.0,180.7 444.2,182.2 444.3,178.1 444.4,179.8 444.6,184.8 444.7,180.8 444.9,181.4 445.0,180.8 445.1,178.8 445.3,179.5 445.4,182.3 445.5,180.3 445.7,185.8 445.8,179.6 446.0,176.2 446.1,182.5 446.2,180.4 446.4,186.9 446.5,181.6 446.7,183.6 446.8,180.1 446.9,184.1 447.1,184.0 447.2,185.3 447.3,183.5 447.5,184.6 447.6,184.1 447.8,185.5 447.9,183.4 448.0,185.1 448.2,182.7 448.3,185.5 448.5,184.0 448.6,183.6 448.7,183.3 448.9,187.3 449.0,182.1 449.1,182.4 449.3,186.2 449.4,190.5 449.6,184.0 449.7,184.2 449.8,189.2 450.0,183.7 450.1,183.9 450.3,184.5 450.4,185.8 450.5,186.8 450.7,183.2 450.8,183.9 450.9,191.9 451.1,183.2 451.2,187.6 451.4,188.1 451.5,187.3 451.6,186.8 451.8,183.1 451.9,189.5 452.1,186.8 452.2,187.0 452.3,189.9 452.5,183.6 452.6,187.2 452.7,188.5 452.9,188.5 453.0,188.3 453.2,191.0 453.3,188.2 453.4,190.0 453.6,189.5 453.7,185.5 453.9,189.3 454.0,192.2 454.1,188.2 454.3,188.6 454.4,186.4 454.5,188.0 454.7,186.5 454.8,187.8 455.0,190.3 455.1,187.6 455.2,188.1 455.4,191.4 455.5,189.9 455.7,190.1 455.8,191.2 455.9,188.4 456.1,188.5 456.2,185.6 456.4,193.1 456.5,188.9 456.6,189.2 456.8,184.1 456.9,190.6 457.0,190.6 457.2,190.3 457.3,187.1 457.5,188.5 457.6,189.8 457.7,188.6 457.9,190.7 458.0,193.2 458.2,188.8 458.3,189.7 458.4,189.0 458.6,192.1 458.7,192.2 458.8,195.6 459.0,190.6 459.1,188.8 459.3,191.1 459.4,190.0 459.5,191.0 459.7,192.8 459.8,190.2 460.0,191.9 460.1,187.4 460.2,192.9 460.4,191.4 460.5,190.6 460.6,190.1 460.8,193.3 460.9,189.8 461.1,193.1 461.2,190.5 461.3,191.9 461.5,192.3 461.6,195.0 461.8,192.2 461.9,191.1 462.0,192.1 462.2,191.7 462.3,191.5 462.4,195.7 462.6,195.5 462.7,191.9 462.9,193.4 463.0,191.5 463.1,195.1 463.3,194.5 463.4,193.3 463.6,192.0 463.7,194.8 463.8,194.7 464.0,193.1 464.1,194.4 464.2,190.9 464.4,192.0 464.5,191.3 464.7,193.1 464.8,196.0 464.9,193.8 465.1,195.3 465.2,193.7 465.4,193.2 465.5,195.9 465.6,195.3 465.8,197.0 465.9,196.2 466.0,193.5 466.2,190.7 466.3,195.4 466.5,193.3 466.6,193.2 466.7,193.3 466.9,194.5 467.0,194.1 467.2,194.6 467.3,199.5 467.4,194.0 467.6,195.8 467.7,193.8 467.8,194.2 468.0,196.0 468.1,196.5 468.3,193.9 468.4,198.0 468.5,194.2 468.7,197.5 468.8,195.5 469.0,197.4 469.1,196.7 469.2,195.0 469.4,196.1 469.5,194.5 469.6,193.4 469.8,194.6 469.9,197.4 470.1,194.1 470.2,194.1 470.3,197.9 470.5,195.5 470.6,195.6 470.8,193.7 470.9,195.7 471.0,196.4 471.2,195.1 471.3,196.7 471.4,195.9 471.6,197.1 471.7,196.5 471.9,195.3 472.0,197.2 472.1,198.5 472.3,196.2 472.4,193.4 472.6,195.5 472.7,195.0 472.8,199.9 473.0,196.8 473.1,193.9 473.2,195.7 473.4,198.4 473.5,194.2 473.7,195.4 473.8,196.2 473.9,194.8 474.1,195.0 474.2,196.2 474.4,193.6 474.5,195.1 474.6,195.1 474.8,195.7 474.9,200.8 475.0,196.2 475.2,194.8 475.3,195.3 475.5,196.6 475.6,197.4 475.7,197.9 475.9,194.4 476.0,196.6 476.2,197.8 476.3,196.2 476.4,197.6 476.6,196.3 476.7,197.3 476.8,193.9 477.0,197.3 477.1,195.6 477.3,195.4 477.4,196.1 477.5,201.9 477.7,198.5 477.8,194.3 478.0,198.2 478.1,195.7 478.2,194.3 478.4,193.1 478.5,196.1 478.6,196.0 478.8,196.2 478.9,196.1 479.1,197.6 479.2,194.1 479.3,194.2 479.5,198.8 479.6,196.3 479.8,194.3 479.9,191.1 480.0,193.1 480.2,193.6 480.3,194.1 480.4,194.3 480.6,193.3 480.7,195.5 480.9,191.5 481.0,192.9 481.1,192.1 481.3,194.8 481.4,193.4 481.6,194.4 481.7,193.6 481.8,200.0 482.0,194.9 482.1,192.5 482.2,194.1 482.4,193.5 482.5,196.0 482.7,196.5 482.8,195.4 482.9,194.9 483.1,194.3 483.2,198.3 483.4,197.6 483.5,191.2 483.6,196.6 483.8,195.0 483.9,198.7 484.1,199.6 484.2,194.9 484.3,195.0 484.5,201.1 484.6,195.9 484.7,196.5 484.9,198.9 485.0,195.7 485.2,196.7 485.3,197.4 485.4,199.2 485.6,194.1 485.7,195.2 485.9,196.4 486.0,198.4 486.1,195.6 486.3,197.4 486.4,193.7 486.5,196.3 486.7,199.2 486.8,196.9 487.0,202.4 487.1,198.2 487.2,199.5 487.4,198.9 487.5,195.0 487.7,194.9 487.8,198.4 487.9,195.7 488.1,196.5 488.2,196.7 488.3,195.9 488.5,199.3 488.6,201.6 488.8,197.5 488.9,197.6 489.0,195.8 489.2,198.8 489.3,195.9 489.5,199.7 489.6,195.9 489.7,196.0 489.9,199.2 490.0,196.3 490.1,196.3 490.3,199.1 490.4,197.9 490.6,197.9 490.7,199.2 490.8,199.4 491.0,200.1 491.1,199.3 491.3,199.2 491.4,198.3 491.5,201.1 491.7,197.4 491.8,209.7 491.9,202.3 492.1,202.2 492.2,197.8 492.4,201.8 492.5,200.4 492.6,205.9 492.8,204.0 492.9,198.7 493.1,199.3 493.2,196.1 493.3,194.3 493.5,198.6 493.6,199.1 493.7,199.5 493.9,199.0 494.0,195.5 494.2,199.5 494.3,200.9 494.4,201.6 494.6,197.5 494.7,197.6 494.9,197.7 495.0,197.9 495.1,196.2 495.3,197.9 495.4,201.9 495.5,197.5 495.7,196.1 495.8,198.8 496.0,198.5 496.1,200.2 496.2,197.7 496.4,199.8 496.5,197.5 496.7,197.2 496.8,199.5 496.9,199.2 497.1,198.9 497.2,199.7 497.3,197.3 497.5,198.8 497.6,199.1 497.8,200.7 497.9,195.6 498.0,198.0 498.2,199.2 498.3,197.4 498.5,198.7 498.6,199.7 498.7,199.1 498.9,195.5 499.0,196.5 499.1,193.9 499.3,200.1 499.4,199.6 499.6,201.4 499.7,199.1 499.8,197.0 500.0,200.6 500.1,196.7 500.3,199.2 500.4,199.0 500.5,200.6 500.7,200.8 500.8,198.8 500.9,198.1 501.1,199.3 501.2,199.7 501.4,201.3 501.5,200.2 501.6,202.1 501.8,204.4 501.9,198.5 502.1,199.1 502.2,200.7 502.3,200.3 502.5,199.1 502.6,196.8 502.7,204.1 502.9,200.0 503.0,197.8 503.2,195.8 503.3,202.2 503.4,200.0 503.6,199.4 503.7,197.4 503.9,198.8 504.0,198.3 504.1,194.5 504.3,203.5 504.4,199.7 504.5,198.2 504.7,197.1 504.8,197.7 505.0,203.0 505.1,199.4 505.2,196.5 505.4,200.2 505.5,199.6 505.7,199.5 505.8,198.3 505.9,198.4 506.1,194.6 506.2,198.5 506.3,196.6 506.5,197.2 506.6,199.2 506.8,196.4 506.9,199.0 507.0,198.5 507.2,200.2 507.3,199.1 507.5,198.6 507.6,198.7 507.7,200.3 507.9,201.4 508.0,197.8 508.1,197.3 508.3,198.4 508.4,196.3 508.6,199.0 508.7,201.8 508.8,202.2 509.0,203.0 509.1,200.7 509.3,201.1 509.4,199.6 509.5,199.4 509.7,200.8 509.8,201.6 509.9,200.9 510.1,196.8 510.2,200.9 510.4,200.1 510.5,199.0 510.6,204.6 510.8,201.7 510.9,200.3 511.1,199.0 511.2,205.9 511.3,205.4 511.5,201.2"/>
<polyline stroke="#ff0000" stroke-width="1.7" points="27.0,330.0 27.1,328.2 27.3,327.8 27.4,324.3 27.6,330.5 27.7,329.0 27.8,326.3 28.0,327.5 28.1,329.7 28.2,324.7 28.4,326.9 28.5,324.6 28.7,324.4 28.8,323.2 28.9,324.5 29.1,328.9 29.2,324.3 29.4,322.3 29.5,322.8 29.6,320.9 29.8,323.3 29.9,321.6 30.0,321.3 30.2,320.9 30.3,318.2 30.5,320.5 30.6,321.8 30.7,315.2 30.9,314.4 31.0,314.5 31.2,317.7 31.3,316.1 31.4,317.0 31.6,316.3 31.7,315.1 31.8,314.7 32.0,313.1 32.1,315.5 32.3,311.7 32.4,312.4 32.5,312.7 32.7,315.1 32.8,310.7 33.0,310.1 33.1,310.5 33.2,312.4 33.4,309.8 33.5,312.0 33.6,306.4 33.8,310.8 33.9,310.3 34.1,305.5 34.2,307.5 34.3,309.2 34.5,307.0 34.6,308.2 34.8,310.0 34.9,306.1 35.0,304.5 35.2,303.2 35.3,305.4 35.4,303.9 35.6,303.3 35.7,303.0 35.9,303.9 36.0,300.8 36.1,299.8 36.3,298.0 36.4,303.2 36.6,302.8 36.7,300.5 36.8,300.4 37.0,298.9 37.1,300.8 37.2,299.9 37.4,291.4 37.5,297.8 37.7,301.9 37.8,299.4 37.9,299.0 38.1,297.2 38.2,296.3 38.4,298.8 38.5,297.0 38.6,287.4 38.8,296.5 38.9,294.9 39.0,296.4 39.2,297.6 39.3,293.8 39.5,297.3 39.6,293.1 39.7,294.5 39.9,292.7 40.0,293.7 40.2,294.4 40.3,293.6 40.4,292.8 40.6,292.6 40.7,292.1 40.9,290.4 41.0,292.6 41.1,293.4 41.3,294.1 41.4,293.3 41.5,296.3 41.7,292.5 41.8,290.5 42.0,294.0 42.1,288.2 42.2,291.6 42.4,287.6 42.5,289.7 42.7,285.0 42.8,289.6 42.9,287.7 43.1,285.9 43.2,290.6 43.3,288.7 43.5,287.3 43.6,285.6 43.8,286.9 43.9,286.5 44.0,290.1 44.2,288.3 44.3,284.9 44.5,284.8 44.6,284.5 44.7,282.9 44.9,284.0 45.0,284.6 45.1,285.7 45.3,286.8 45.4,282.5 45.6,285.0 45.7,282.8 45.8,287.1 46.0,283.0 46.1,283.9 46.3,288.9 46.4,285.4 46.5,283.1 46.7,279.8 46.8,283.2 46.9,279.3 47.1,282.9 47.2,279.5 47.4,284.3 47.5,280.3 47.6,282.6 47.8,277.5 47.9,287.2 48.1,278.3 48.2,278.7 48.3,279.4 48.5,278.1 48.6,278.9 48.7,271.2 48.9,278.7 49.0,277.3 49.2,275.0 49.3,276.2 49.4,277.1 49.6,273.1 49.7,278.3 49.9,276.1 50.0,275.7 50.1,277.4 50.3,276.6 50.4,275.5 50.5,272.9 50.7,275.5 50.8,274.2 51.0,272.9 51.1,276.6 51.2,274.9 51.4,269.2 51.5,273.2 51.7,270.1 51.8,275.0 51.9,273.9 52.1,269.9 52.2,270.3 52.3,271.9 52.5,271.0 52.6,274.6 52.8,272.6 52.9,270.4 53.0,274.2 53.2,266.0 53.3,271.5 53.5,280.5 53.6,269.3 53.7,268.0 53.9,270.4 54.0,273.4 54.1,269.3 54.3,266.6 54.4,272.0 54.6,264.8 54.7,269.8 54.8,260.6 55.0,270.1 55.1,265.9 55.3,270.4 55.4,268.0 55.5,263.5 55.7,263.1 55.8,266.2 55.9,271.2 56.1,266.4 56.2,266.3 56.4,265.1 56.5,267.1 56.6,265.8 56.8,264.9 56.9,262.1 57.1,266.7 57.2,267.5 57.3,261.4 57.5,268.8 57.6,265.3 57.7,262.3 57.9,258.9 58.0,264.6 58.2,264.4 58.3,261.4 58.4,256.8 58.6,264.4 58.7,260.5 58.9,260.6 59.0,267.9 59.1,266.1 59.3,263.1 59.4,259.9 59.5,262.6 59.7,255.5 59.8,260.5 60.0,258.2 60.1,256.5 60.2,257.5 60.4,259.7 60.5,258.3 60.7,262.9 60.8,260.0 60.9,256.4 61.1,259.7 61.2,253.9 61.3,256.5 61.5,258.7 61.6,256.2 61.8,258.0 61.9,253.8 62.0,259.2 62.2,255.0 62.3,253.9 62.5,261.1 62.6,258.8 62.7,252.7 62.9,254.7 63.0,256.2 63.1,252.8 63.3,257.0 63.4,251.8 63.6,254.6 63.7,253.0 63.8,253.9 64.0,251.4 64.1,250.7 64.3,251.8 64.4,250.4 64.5,252.8 64.7,253.6 64.8,256.7 64.9,260.4 65.1,251.7 65.2,253.5 65.4,258.5 65.5,255.0 65.6,253.3 65.8,248.5 65.9,253.3 66.1,253.8 66.2,245.4 66.3,249.7 66.5,250.0 66.6,246.3 66.7,248.0 66.9,239.5 67.0,252.0 67.2,251.5 67.3,257.1 67.4,250.0 67.6,253.5 67.7,250.2 67.9,250.5 68.0,247.0 68.1,244.9 68.3,247.2 68.4,250.8 68.6,252.6 68.7,250.0 68.8,249.4 69.0,245.8 69.1,251.2 69.2,250.4 69.4,245.8 69.5,246.6 69.7,244.3 69.8,247.1 69.9,247.3 70.1,245.6 70.2,246.9 70.4,246.9 70.5,244.6 70.6,242.3 70.8,242.1 70.9,241.3 71.0,246.4 71.2,250.7 71.3,240.7 71.5,244.8 71.6,245.2 71.7,241.4 71.9,244.7 72.0,241.0 72.2,247.1 72.3,242.4 72.4,244.1 72.6,245.5 72.7,242.7 72.8,239.1 73.0,242.0 73.1,245.2 73.3,242.9 73.4,243.8 73.5,240.5 73.7,243.2 73.8,244.9 74.0,242.5 74.1,247.5 74.2,241.9 74.4,239.2 74.5,237.8 74.6,244.6 74.8,241.4 74.9,256.9 75.1,241.9 75.2,244.7 75.3,243.9 75.5,239.3 75.6,240.9 75.8,242.6 75.9,235.5 76.0,242.8 76.2,242.1 76.3,241.5 76.4,238.9 76.6,240.0 76.7,236.3 76.9,239.5 77.0,238.1 77.1,240.3 77.3,239.0 77.4,240.5 77.6,242.7 77.7,236.5 77.8,243.0 78.0,235.5 78.1,235.5 78.2,240.2 78.4,240.7 78.5,241.5 78.7,236.4 78.8,241.0 78.9,241.4 79.1,244.4 79.2,240.7 79.4,242.5 79.5,238.3 79.6,240.7 79.8,240.0 79.9,242.9 80.0,238.4 80.2,238.6 80.3,242.8 80.5,245.6 80.6,241.9 80.7,241.6 80.9,239.9 81.0,243.4 81.2,242.1 81.3,245.1 81.4,241.3 81.6,238.3 81.7,239.7 81.8,238.4 82.0,237.3 82.1,243.8 82.3,242.7 82.4,237.7 82.5,245.5 82.7,241.8 82.8,239.1 83.0,242.4 83.1,241.3 83.2,239.6 83.4,236.3 83.5,235.2 83.6,242.1 83.8,234.6 83.9,242.5 84.1,242.8 84.2,240.4 84.3,242.2 84.5,240.7 84.6,239.5 84.8,240.7 84.9,244.6 85.0,237.5 85.2,241.5 85.3,241.5 85.4,243.5 85.6,240.1 85.7,238.0 85.9,239.3 86.0,241.8 86.1,242.7 86.3,239.6 86.4,249.2 86.6,240.3 86.7,242.0 86.8,240.0 87.0,241.0 87.1,245.2 87.2,241.2 87.4,245.9 87.5,245.4 87.7,240.3 87.8,245.4 87.9,241.0 88.1,249.4 88.2,241.6 88.4,240.0 88.5,238.0 88.6,239.7 88.8,241.5 88.9,240.5 89.0,239.9 89.2,241.3 89.3,242.3 89.5,246.4 89.6,238.5 89.7,241.8 89.9,241.0 90.0,239.9 90.2,240.7 90.3,241.5 90.4,245.7 90.6,242.9 90.7,241.8 90.8,244.9 91.0,244.0 91.1,242.7 91.3,244.4 91.4,241.7 91.5,245.6 91.7,245.3 91.8,242.7 92.0,240.9 92.1,248.1 92.2,244.4 92.4,252.0 92.5,242.8 92.6,247.1 92.8,243.7 92.9,245.2 93.1,247.0 93.2,242.7 93.3,252.1 93.5,244.5 93.6,244.2 93.8,245.4 93.9,246.3 94.0,245.9 94.2,244.0 94.3,242.6 94.4,240.7 94.6,240.5 94.7,241.9 94.9,245.1 95.0,242.7 95.1,240.2 95.3,245.4 95.4,242.4 95.6,242.4 95.7,243.9 95.8,245.8 96.0,238.8 96.1,242.0 96.3,245.3 96.4,243.4 96.5,241.9 96.7,243.3 96.8,248.0 96.9,243.4 97.1,246.3 97.2,247.9 97.4,243.0 97.5,245.3 97.6,243.0 97.8,243.0 97.9,241.8 98.1,246.9 98.2,243.6 98.3,243.1 98.5,242.0 98.6,250.7 98.7,246.3 98.9,244.5 99.0,243.3 99.2,241.2 99.3,245.8 99.4,246.2 99.6,241.6 99.7,248.2 99.9,246.8 100.0,242.4 100.1,243.5 100.3,243.7 100.4,245.6 100.5,245.1 100.7,241.3 100.8,249.4 101.0,246.2 101.1,248.4 101.2,248.2 101.4,244.7 101.5,246.1 101.7,247.1 101.8,252.8 101.9,245.3 102.1,244.1 102.2,245.8 102.3,243.8 102.5,244.5 102.6,241.2 102.8,244.1 102.9,243.8 103.0,245.6 103.2,247.4 103.3,248.2 103.5,252.1 103.6,247.9 103.7,244.1 103.9,247.9 104.0,246.0 104.1,248.6 104.3,245.7 104.4,245.7 104.6,245.9 104.7,245.3 104.8,242.1 105.0,244.9 105.1,246.2 105.3,249.2 105.4,245.8 105.5,248.2 105.7,248.4 105.8,248.1 105.9,250.6 106.1,248.5 106.2,250.1 106.4,251.1 106.5,251.9 106.6,247.0 106.8,247.8 106.9,243.4 107.1,247.2 107.2,246.0 107.3,247.6 107.5,246.8 107.6,247.4 107.7,247.6 107.9,249.8 108.0,249.2 108.2,247.3 108.3,245.5 108.4,250.9 108.6,250.8 108.7,246.5 108.9,249.9 109.0,244.9 109.1,244.0 109.3,247.2 109.4,251.2 109.5,245.2 109.7,245.9 109.8,251.5 110.0,242.8 110.1,249.0 110.2,248.4 110.4,246.8 110.5,248.4 110.7,254.8 110.8,245.8 110.9,247.7 111.1,247.9 111.2,247.1 111.3,245.6 111.5,252.7 111.6,249.6 111.8,244.9 111.9,247.8 112.0,250.5 112.2,250.3 112.3,245.7 112.5,249.4 112.6,250.2 112.7,250.4 112.9,250.6 113.0,245.0 113.1,253.8 113.3,249.7 113.4,253.6 113.6,256.4 113.7,254.4 113.8,246.8 114.0,251.5 114.1,249.0 114.3,248.6 114.4,247.2 114.5,253.4 114.7,248.1 114.8,246.3 114.9,248.6 115.1,247.0 115.2,250.2 115.4,249.1 115.5,247.4 115.6,251.4 115.8,248.4 115.9,251.4 116.1,252.8 116.2,249.2 116.3,248.4 116.5,250.5 116.6,252.0 116.7,249.9 116.9,249.7 117.0,249.4 117.2,250.4 117.3,251.4 117.4,248.6 117.6,255.2 117.7,250.7 117.9,248.9 118.0,251.2 118.1,252.1 118.3,250.4 118.4,249.5 118.5,249.7 118.7,255.7 118.8,253.7 119.0,249.3 119.1,250.0 119.2,256.4 119.4,255.2 119.5,251.6 119.7,254.0 119.8,247.5 119.9,251.1 120.1,252.8 120.2,246.8 120.3,249.7 120.5,253.5 120.6,253.7 120.8,249.8 120.9,252.2 121.0,255.5 121.2,250.4 121.3,248.4 121.5,251.8 121.6,251.3 121.7,255.7 121.9,253.4 122.0,250.9 122.1,258.5 122.3,251.5 122.4,253.9 122.6,254.5 122.7,254.9 122.8,253.7 123.0,254.7 123.1,253.0 123.3,249.9 123.4,252.4 123.5,252.5 123.7,252.5 123.8,253.1 124.0,251.1 124.1,255.9 124.2,256.4 124.4,247.8 124.5,252.8 124.6,251.0 124.8,242.5 124.9,254.0 125.1,249.9 125.2,252.7 125.3,252.1 125.5,256.4 125.6,257.2 125.8,255.0 125.9,255.8 126.0,253.9 126.2,254.6 126.3,253.0 126.4,255.1 126.6,253.8 126.7,256.2 126.9,259.9 127.0,255.8 127.1,257.9 127.3,261.1 127.4,250.7 127.6,255.8 127.7,254.1 127.8,254.7 128.0,252.8 128.1,256.3 128.2,255.2 128.4,257.0 128.5,255.1 128.7,253.9 128.8,249.9 128.9,257.8 129.1,254.7 129.2,253.6 129.4,256.5 129.5,253.7 129.6,250.1 129.8,257.5 129.9,251.5 130.0,254.9 130.2,255.9 130.3,259.4 130.5,259.6 130.6,257.2 130.7,255.9 130.9,256.8 131.0,260.2 131.2,262.0 131.3,259.0 131.4,256.4 131.6,260.4 131.7,257.2 131.8,258.1 132.0,257.7 132.1,259.8 132.3,259.0 132.4,260.2 132.5,260.8 132.7,259.2 132.8,252.1 133.0,253.5 133.1,265.5 133.2,257.5 133.4,262.4 133.5,257.4 133.6,260.0 133.8,259.5 133.9,259.4 134.1,256.8 134.2,258.7 134.3,260.2 134.5,256.3 134.6,261.2 134.8,255.4 134.9,261.2 135.0,261.3 135.2,261.5 135.3,262.0 135.4,261.8 135.6,256.0 135.7,259.1 135.9,260.5 136.0,264.3 136.1,259.6 136.3,260.7 136.4,261.6 136.6,270.4 136.7,258.4 136.8,258.9 137.0,262.7 137.1,256.3 137.2,261.8 137.4,260.2 137.5,257.9 137.7,260.3 137.8,258.9 137.9,261.3 138.1,262.0 138.2,265.0 138.4,261.8 138.5,261.8 138.6,260.2 138.8,262.0 138.9,264.2 139.0,258.3 139.2,263.7 139.3,261.1 139.5,262.4 139.6,262.7 139.7,264.1 139.9,262.7 140.0,261.5 140.2,263.2 140.3,262.1 140.4,261.5 140.6,262.6 140.7,264.6 140.8,262.7 141.0,263.2 141.1,260.0 141.3,263.1 141.4,259.8 141.5,265.4 141.7,262.1 141.8,266.9 142.0,270.5 142.1,263.4 142.2,266.9 142.4,264.8 142.5,262.7 142.6,262.1 142.8,265.3 142.9,267.3 143.1,265.1 143.2,261.3 143.3,262.6 143.5,264.3 143.6,268.0 143.8,265.6 143.9,265.8 144.0,268.1 144.2,265.0 144.3,265.4 144.4,265.4 144.6,262.2 144.7,267.1 144.9,266.9 145.0,268.0 145.1,262.9 145.3,263.5 145.4,267.1 145.6,266.0 145.7,268.0 145.8,263.3 146.0,265.4 146.1,263.6 146.2,265.5 146.4,263.4 146.5,265.5 146.7,266.7 146.8,265.6 146.9,259.9 147.1,266.0 147.2,264.8 147.4,261.6 147.5,261.9 147.6,263.8 147.8,265.3 147.9,262.8 148.0,260.7 148.2,264.5 148.3,264.4 148.5,269.7 148.6,266.5 148.7,270.1 148.9,268.7 149.0,265.9 149.2,268.9 149.3,266.0 149.4,267.6 149.6,263.8 149.7,265.2 149.8,262.6 150.0,261.5 150.1,264.1 150.3,263.5 150.4,266.3 150.5,267.6 150.7,271.9 150.8,264.9 151.0,265.1 151.1,260.8 151.2,265.2 151.4,264.6 151.5,264.7 151.7,262.4 151.8,261.2 151.9,265.5 152.1,266.6 152.2,269.3 152.3,268.6 152.5,269.4 152.6,267.2 152.8,268.9 152.9,265.7 153.0,267.8 153.2,268.5 153.3,272.2 153.5,267.0 153.6,263.9 153.7,269.7 153.9,265.0 154.0,266.2 154.1,265.9 154.3,264.3 154.4,269.6 154.6,267.9 154.7,265.3 154.8,266.8 155.0,265.7 155.1,267.9 155.3,265.8 155.4,264.8 155.5,265.0 155.7,265.4 155.8,266.7 155.9,263.8 156.1,271.1 156.2,266.7 156.4,270.7 156.5,267.3 156.6,259.1 156.8,266.1 156.9,264.9 157.1,266.7 157.2,269.4 157.3,267.8 157.5,261.7 157.6,267.4 157.7,267.2 157.9,267.9 158.0,270.1 158.2,265.0 158.3,269.6 158.4,263.7 158.6,267.5 158.7,268.5 158.9,272.4 159.0,265.9 159.1,263.6 159.3,268.8 159.4,265.6 159.5,270.0 159.7,265.3 159.8,264.8 160.0,272.1 160.1,266.9 160.2,268.8 160.4,263.4 160.5,268.3 160.7,265.0 160.8,267.8 160.9,264.1 161.1,262.9 161.2,265.7 161.3,266.8 161.5,270.0 161.6,267.5 161.8,268.1 161.9,268.1 162.0,273.3 162.2,265.0 162.3,269.5 162.5,267.0 162.6,267.9 162.7,266.1 162.9,269.9 163.0,264.8 163.1,264.7 163.3,267.2 163.4,264.9 163.6,268.9 163.7,269.4 163.8,265.6 164.0,268.7 164.1,265.6 164.3,267.1 164.4,267.5 164.5,271.1 164.7,266.9 164.8,264.8 164.9,264.7 165.1,269.2 165.2,263.1 165.4,265.5 165.5,265.5 165.6,261.4 165.8,265.5 165.9,269.1 166.1,267.4 166.2,264.9 166.3,266.8 166.5,267.8 166.6,267.9 166.7,265.2 166.9,266.4 167.0,267.1 167.2,266.8 167.3,267.3 167.4,266.8 167.6,265.9 167.7,263.6 167.9,266.4 168.0,264.3 168.1,265.1 168.3,266.4 168.4,268.5 168.5,269.7 168.7,265.5 168.8,268.3 169.0,269.2 169.1,267.5 169.2,264.5 169.4,263.3 169.5,269.9 169.7,270.1 169.8,268.7 169.9,265.7 170.1,270.9 170.2,270.2 170.3,267.4 170.5,266.8 170.6,263.1 170.8,269.0 170.9,264.2 171.0,269.4 171.2,269.7 171.3,268.0 171.5,271.1 171.6,267.1 171.7,269.2 171.9,269.7 172.0,268.4 172.1,267.5 172.3,277.1 172.4,269.6 172.6,268.1 172.7,268.1 172.8,268.9 173.0,273.4 173.1,268.5 173.3,267.5 173.4,265.7 173.5,265.5 173.7,264.0 173.8,268.1 173.9,268.0 174.1,265.8 174.2,264.6 174.4,267.2 174.5,266.9 174.6,265.3 174.8,268.4 174.9,267.9 175.1,267.6 175.2,269.4 175.3,266.6 175.5,270.8 175.6,265.7 175.7,268.9 175.9,269.5 176.0,267.4 176.2,268.7 176.3,265.2 176.4,264.9 176.6,267.7 176.7,266.6 176.9,270.4 177.0,268.6 177.1,270.0 177.3,269.3 177.4,269.0 177.5,269.0 177.7,268.1 177.8,268.0 178.0,273.0 178.1,265.1 178.2,268.6 178.4,271.7 178.5,270.2 178.7,271.9 178.8,270.2 178.9,266.1 179.1,268.0 179.2,265.8 179.4,270.7 179.5,271.6 179.6,267.5 179.8,269.5 179.9,267.4 180.0,265.4 180.2,267.5 180.3,265.0 180.5,266.8 180.6,268.1 180.7,269.3 180.9,270.4 181.0,267.0 181.2,268.4 181.3,268.7 181.4,269.3 181.6,262.2 181.7,266.4 181.8,270.0 182.0,266.1 182.1,269.1 182.3,270.0 182.4,263.9 182.5,267.4 182.7,268.5 182.8,268.3 183.0,265.3 183.1,269.4 183.2,267.5 183.4,270.4 183.5,269.6 183.6,265.0 183.8,269.1 183.9,266.0 184.1,267.3 184.2,265.6 184.3,268.7 184.5,271.2 184.6,269.7 184.8,269.8 184.9,268.1 185.0,268.0 185.2,270.6 185.3,265.9 185.4,273.2 185.6,268.7 185.7,273.2 185.9,271.0 186.0,267.5 186.1,269.7 186.3,268.5 186.4,268.7 186.6,269.3 186.7,266.6 186.8,266.3 187.0,267.0 187.1,265.2 187.2,267.6 187.4,268.4 187.5,268.9 187.7,269.0 187.8,268.3 187.9,270.6 188.1,265.2 188.2,268.9 188.4,269.1 188.5,271.9 188.6,271.4 188.8,271.4 188.9,270.0 189.0,272.0 189.2,267.6 189.3,269.8 189.5,265.5 189.6,273.5 189.7,273.3 189.9,268.3 190.0,268.1 190.2,264.8 190.3,265.5 190.4,268.9 190.6,268.2 190.7,265.3 190.8,267.4 191.0,267.0 191.1,269.1 191.3,269.8 191.4,270.7 191.5,268.4 191.7,268.2 191.8,263.6 192.0,268.3 192.1,268.1 192.2,270.2 192.4,265.0 192.5,270.7 192.6,267.8 192.8,269.7 192.9,272.0 193.1,266.4 193.2,267.2 193.3,271.9 193.5,267.5 193.6,268.2 193.8,271.3 193.9,269.6 194.0,271.9 194.2,270.8 194.3,270.1 194.4,272.3 194.6,275.2 194.7,263.2 194.9,273.8 195.0,273.0 195.1,270.4 195.3,270.9 195.4,268.2 195.6,268.8 195.7,270.3 195.8,270.1 196.0,272.7 196.1,267.2 196.2,269.3 196.4,268.5 196.5,269.7 196.7,272.4 196.8,267.3 196.9,271.6 197.1,268.6 197.2,269.4 197.4,272.1 197.5,269.2 197.6,274.6 197.8,269.9 197.9,269.0 198.0,268.6 198.2,265.4 198.3,267.4 198.5,271.9 198.6,269.1 198.7,265.4 198.9,270.9 199.0,270.5 199.2,266.3 199.3,266.8 199.4,279.3 199.6,265.4 199.7,267.5 199.8,269.2 200.0,269.1 200.1,269.1 200.3,269.4 200.4,267.4 200.5,268.0 200.7,273.4 200.8,266.0 201.0,268.0 201.1,268.6 201.2,266.9 201.4,271.2 201.5,270.7 201.6,270.3 201.8,263.1 201.9,271.2 202.1,271.2 202.2,266.8 202.3,271.7 202.5,269.6 202.6,271.1 202.8,272.9 202.9,269.5 203.0,267.2 203.2,268.9 203.3,266.5 203.4,267.2 203.6,267.1 203.7,267.2 203.9,271.2 204.0,270.1 204.1,266.2 204.3,270.3 204.4,264.3 204.6,266.8 204.7,267.8 204.8,270.4 205.0,269.1 205.1,268.3 205.2,270.8 205.4,269.3 205.5,270.3 205.7,265.9 205.8,264.3 205.9,267.2 206.1,270.4 206.2,269.3 206.4,270.8 206.5,270.8 206.6,270.0 206.8,270.7 206.9,267.3 207.1,271.2 207.2,266.9 207.3,268.4 207.5,265.5 207.6,270.1 207.7,265.6 207.9,271.5 208.0,265.6 208.2,268.4 208.3,267.4 208.4,265.8 208.6,270.1 208.7,266.6 208.9,270.6 209.0,265.2 209.1,265.7 209.3,263.0 209.4,271.2 209.5,269.7 209.7,268.1 209.8,267.2 210.0,265.8 210.1,272.5 210.2,269.3 210.4,263.9 210.5,267.1 210.7,262.2 210.8,271.1 210.9,271.9 211.1,270.8 211.2,267.7 211.3,266.4 211.5,264.6 211.6,268.8 211.8,265.7 211.9,266.3 212.0,265.8 212.2,266.8 212.3,269.4 212.5,270.7 212.6,267.4 212.7,267.1 212.9,264.2 213.0,263.6 213.1,264.3 213.3,268.0 213.4,266.6 213.6,269.6 213.7,266.9 213.8,265.4 214.0,263.9 214.1,265.4 214.3,265.0 214.4,270.4 214.5,266.8 214.7,265.5 214.8,270.5 214.9,265.5 215.1,268.0 215.2,266.1 215.4,267.4 215.5,265.9 215.6,267.9 215.8,269.4 215.9,263.3 216.1,260.7 216.2,268.3 216.3,265.5 216.5,267.5 216.6,255.8 216.7,268.8 216.9,269.3 217.0,262.8 217.2,266.8 217.3,263.8 217.4,261.5 217.6,264.3 217.7,266.0 217.9,261.8 218.0,262.1 218.1,267.7 218.3,265.3 218.4,266.0 218.5,262.4 218.7,261.5 218.8,265.0 219.0,265.2 219.1,265.1 219.2,268.1 219.4,265.1 219.5,261.2 219.7,262.4 219.8,264.1 219.9,266.8 220.1,262.6 220.2,263.2 220.3,263.7 220.5,262.2 220.6,262.0 220.8,262.8 220.9,263.1 221.0,273.7 221.2,262.4 221.3,263.7 221.5,259.7 221.6,264.9 221.7,264.5 221.9,263.4 222.0,259.3 222.1,266.8 222.3,255.5 222.4,260.0 222.6,259.8 222.7,263.2 222.8,258.5 223.0,262.3 223.1,261.4 223.3,257.5 223.4,263.2 223.5,264.5 223.7,261.6 223.8,259.6 223.9,255.2 224.1,263.6 224.2,259.5 224.4,255.9 224.5,260.0 224.6,262.8 224.8,259.2 224.9,257.3 225.1,265.2 225.2,261.3 225.3,261.0 225.5,262.4 225.6,255.3 225.7,260.4 225.9,260.5 226.0,265.6 226.2,259.2 226.3,259.3 226.4,257.4 226.6,258.6 226.7,260.2 226.9,261.2 227.0,259.5 227.1,264.2 227.3,260.8 227.4,260.8 227.5,262.7 227.7,260.7 227.8,257.0 228.0,255.6 228.1,260.3 228.2,257.2 228.4,262.2 228.5,257.1 228.7,253.6 228.8,258.7 228.9,261.0 229.1,257.8 229.2,258.4 229.3,258.3 229.5,261.6 229.6,258.0 229.8,257.1 229.9,255.3 230.0,252.7 230.2,259.5 230.3,258.8 230.5,253.8 230.6,257.2 230.7,257.1 230.9,255.3 231.0,255.1 231.1,251.7 231.3,253.5 231.4,255.2 231.6,256.2 231.7,256.5 231.8,256.2 232.0,257.4 232.1,258.2 232.3,255.9 232.4,257.0 232.5,255.7 232.7,260.4 232.8,253.4 232.9,256.2 233.1,258.1 233.2,255.6 233.4,255.1 233.5,254.5 233.6,256.5 233.8,253.1 233.9,255.2 234.1,254.6 234.2,251.8 234.3,256.2 234.5,254.2 234.6,255.6 234.8,257.5 234.9,256.6 235.0,252.9 235.2,256.5 235.3,251.9 235.4,254.0 235.6,259.5 235.7,255.8 235.9,259.1 236.0,255.4 236.1,256.2 236.3,253.4 236.4,258.0 236.6,256.1 236.7,257.9 236.8,257.1 237.0,257.4 237.1,257.4 237.2,256.6 237.4,256.8 237.5,255.6 237.7,252.3 237.8,258.1 237.9,261.8 238.1,260.0 238.2,266.5 238.4,258.2 238.5,254.9 238.6,254.5 238.8,258.7 238.9,258.0 239.0,256.7 239.2,261.4 239.3,254.7 239.5,258.1 239.6,256.0 239.7,256.9 239.9,259.5 240.0,256.7 240.2,260.0 240.3,259.7 240.4,255.2 240.6,262.5 240.7,254.0 240.8,256.5 241.0,258.2 241.1,249.5 241.3,258.8 241.4,258.6 241.5,255.7 241.7,256.6 241.8,256.7 242.0,255.4 242.1,257.9 242.2,254.0 242.4,254.7 242.5,255.3 242.6,256.2 242.8,256.8 242.9,250.6 243.1,257.2 243.2,254.2 243.3,254.3 243.5,251.9 243.6,254.8 243.8,255.5 243.9,255.1 244.0,257.8 244.2,251.8 244.3,254.8 244.4,260.7 244.6,252.8 244.7,251.1 244.9,254.0 245.0,252.3 245.1,258.0 245.3,254.7 245.4,255.8 245.6,250.2 245.7,252.4 245.8,255.8 246.0,250.6 246.1,257.9 246.2,248.6 246.4,256.1 246.5,252.6 246.7,254.7 246.8,250.2 246.9,250.9 247.1,258.5 247.2,253.3 247.4,252.7 247.5,254.9 247.6,254.8 247.8,248.5 247.9,250.3 248.0,252.5 248.2,252.1 248.3,253.0 248.5,251.2 248.6,251.4 248.7,252.4 248.9,249.9 249.0,249.0 249.2,249.4 249.3,250.7 249.4,250.1 249.6,249.4 249.7,249.9 249.8,251.0 250.0,252.1 250.1,252.1 250.3,248.3 250.4,253.3 250.5,247.2 250.7,252.7 250.8,249.4 251.0,252.4 251.1,254.0 251.2,246.9 251.4,252.8 251.5,252.0 251.6,250.4 251.8,252.2 251.9,249.4 252.1,251.2 252.2,248.5 252.3,252.6 252.5,252.3 252.6,252.4 252.8,248.9 252.9,255.1 253.0,255.3 253.2,250.4 253.3,249.5 253.4,249.7 253.6,252.3 253.7,262.1 253.9,249.4 254.0,246.4 254.1,252.3 254.3,251.1 254.4,251.6 254.6,252.6 254.7,255.2 254.8,260.0 255.0,250.2 255.1,252.1 255.2,253.9 255.4,253.7 255.5,248.1 255.7,253.3 255.8,251.7 255.9,249.0 256.1,244.9 256.2,246.7 256.4,248.9 256.5,249.9 256.6,247.1 256.8,249.2 256.9,240.9 257.0,247.0 257.2,248.9 257.3,246.9 257.5,247.8 257.6,250.1 257.7,250.2 257.9,246.0 258.0,246.9 258.2,244.4 258.3,244.6 258.4,248.3 258.6,245.8 258.7,238.2 258.8,248.1 259.0,244.8 259.1,245.8 259.3,244.9 259.4,247.0 259.5,245.7 259.7,241.0 259.8,247.5 260.0,244.5 260.1,242.9 260.2,240.7 260.4,249.3 260.5,246.6 260.6,247.0 260.8,248.0 260.9,246.3 261.1,242.7 261.2,247.8 261.3,248.9 261.5,247.6 261.6,250.0 261.8,250.9 261.9,244.1 262.0,244.8 262.2,247.4 262.3,245.5 262.5,245.6 262.6,247.0 262.7,245.9 262.9,242.9 263.0,243.8 263.1,241.6 263.3,243.2 263.4,240.9 263.6,238.7 263.7,242.4 263.8,241.8 264.0,245.0 264.1,246.9 264.3,243.3 264.4,244.1 264.5,236.8 264.7,240.4 264.8,242.4 264.9,241.9 265.1,243.6 265.2,243.0 265.4,246.7 265.5,241.8 265.6,238.2 265.8,242.4 265.9,240.3 266.1,242.6 266.2,244.4 266.3,240.0 266.5,241.3 266.6,242.6 266.7,239.1 266.9,241.6 267.0,242.7 267.2,242.9 267.3,243.4 267.4,241.7 267.6,241.3 267.7,236.8 267.9,233.4 268.0,238.1 268.1,243.9 268.3,240.5 268.4,234.3 268.5,239.0 268.7,241.0 268.8,235.4 269.0,241.3 269.1,236.9 269.2,232.6 269.4,240.6 269.5,248.7 269.7,236.9 269.8,240.5 269.9,236.1 270.1,242.2 270.2,239.3 270.3,241.5 270.5,239.4 270.6,235.9 270.8,236.9 270.9,234.7 271.0,235.5 271.2,238.8 271.3,240.9 271.5,240.5 271.6,239.2 271.7,237.0 271.9,239.7 272.0,235.9 272.1,239.2 272.3,240.3 272.4,237.4 272.6,236.5 272.7,236.7 272.8,239.7 273.0,237.5 273.1,234.2 273.3,236.3 273.4,234.1 273.5,240.7 273.7,237.0 273.8,232.6 273.9,237.1 274.1,238.5 274.2,238.1 274.4,236.1 274.5,237.1 274.6,237.3 274.8,238.9 274.9,245.2 275.1,235.3 275.2,235.0 275.3,239.7 275.5,236.4 275.6,231.4 275.7,232.6 275.9,231.0 276.0,231.1 276.2,239.0 276.3,233.6 276.4,236.8 276.6,233.3 276.7,235.5 276.9,232.8 277.0,238.2 277.1,234.8 277.3,235.1 277.4,235.6 277.5,241.0 277.7,236.4 277.8,237.6 278.0,232.2 278.1,233.7 278.2,235.6 278.4,229.7 278.5,238.5 278.7,235.5 278.8,234.6 278.9,234.5 279.1,234.2 279.2,234.2 279.3,238.8 279.5,236.9 279.6,238.0 279.8,234.1 279.9,232.3 280.0,238.2 280.2,231.3 280.3,233.3 280.5,237.2 280.6,233.9 280.7,230.6 280.9,233.4 281.0,233.3 281.1,232.8 281.3,230.7 281.4,234.3 281.6,231.3 281.7,232.5 281.8,227.2 282.0,232.8 282.1,227.8 282.3,235.0 282.4,234.0 282.5,226.1 282.7,233.1 282.8,233.6 282.9,232.6 283.1,234.6 283.2,233.2 283.4,232.0 283.5,231.4 283.6,237.6 283.8,233.7 283.9,232.9 284.1,235.0 284.2,231.6 284.3,231.6 284.5,234.6 284.6,235.4 284.7,234.0 284.9,227.7 285.0,231.9 285.2,231.4 285.3,232.2 285.4,228.3 285.6,227.2 285.7,229.8 285.9,227.3 286.0,226.5 286.1,229.2 286.3,231.9 286.4,229.3 286.5,231.3 286.7,225.7 286.8,230.2 287.0,228.5 287.1,226.4 287.2,227.5 287.4,226.2 287.5,227.8 287.7,226.5 287.8,231.6 287.9,227.4 288.1,224.6 288.2,227.3 288.3,228.4 288.5,228.6 288.6,230.5 288.8,225.5 288.9,227.3 289.0,232.0 289.2,227.1 289.3,228.2 289.5,228.0 289.6,228.3 289.7,227.2 289.9,226.4 290.0,229.7 290.2,225.5 290.3,227.2 290.4,228.9 290.6,225.7 290.7,222.3 290.8,227.6 291.0,229.3 291.1,227.1 291.3,221.7 291.4,228.0 291.5,231.5 291.7,221.8 291.8,218.4 292.0,225.3 292.1,226.1 292.2,229.6 292.4,227.7 292.5,225.5 292.6,226.4 292.8,225.5 292.9,224.6 293.1,223.8 293.2,223.5 293.3,225.9 293.5,229.4 293.6,222.8 293.8,226.9 293.9,221.5 294.0,222.3 294.2,223.1 294.3,217.6 294.4,221.6 294.6,224.6 294.7,224.5 294.9,219.0 295.0,219.7 295.1,219.1 295.3,221.6 295.4,220.6 295.6,217.4 295.7,222.1 295.8,221.5 296.0,221.6 296.1,220.3 296.2,221.9 296.4,217.3 296.5,222.7 296.7,222.9 296.8,221.8 296.9,219.0 297.1,225.9 297.2,225.1 297.4,216.1 297.5,222.5 297.6,222.0 297.8,214.1 297.9,222.8 298.0,223.3 298.2,223.3 298.3,233.6 298.5,219.3 298.6,219.9 298.7,221.5 298.9,224.2 299.0,219.7 299.2,220.3 299.3,223.4 299.4,215.5 299.6,222.7 299.7,220.7 299.8,210.7 300.0,223.2 300.1,218.0 300.3,222.6 300.4,224.3 300.5,216.3 300.7,216.3 300.8,219.8 301.0,214.6 301.1,221.0 301.2,219.5 301.4,221.3 301.5,213.7 301.6,219.1 301.8,225.3 301.9,213.4 302.1,220.4 302.2,214.0 302.3,218.2 302.5,213.8 302.6,219.6 302.8,221.9 302.9,217.0 303.0,216.4 303.2,220.0 303.3,214.1 303.4,215.1 303.6,216.5 303.7,214.8 303.9,217.3 304.0,215.4 304.1,210.5 304.3,211.3 304.4,213.5 304.6,207.4 304.7,211.2 304.8,212.5 305.0,213.1 305.1,202.1 305.2,203.8 305.4,205.5 305.5,199.7 305.7,196.9 305.8,212.0 305.9,196.7 306.1,194.7 306.2,191.9 306.4,192.8 306.5,199.0 306.6,187.8 306.8,192.5 306.9,177.6 307.0,178.2 307.2,181.4 307.3,170.8 307.5,172.8 307.6,172.2 307.7,169.3 307.9,167.4 308.0,170.6 308.2,169.8 308.3,170.7 308.4,171.1 308.6,168.8 308.7,169.5 308.8,173.5 309.0,176.8 309.1,180.5 309.3,183.1 309.4,183.4 309.5,187.8 309.7,192.8 309.8,186.9 310.0,193.1 310.1,193.8 310.2,191.5 310.4,194.7 310.5,205.5 310.6,189.4 310.8,203.3 310.9,201.3 311.1,202.1 311.2,202.6 311.3,202.5 311.5,211.4 311.6,203.8 311.8,204.8 311.9,207.9 312.0,207.5 312.2,206.3 312.3,206.6 312.4,205.4 312.6,211.3 312.7,205.0 312.9,201.2 313.0,210.9 313.1,210.7 313.3,209.8 313.4,207.8 313.6,214.3 313.7,206.1 313.8,203.4 314.0,210.9 314.1,212.4 314.2,212.1 314.4,216.4 314.5,212.4 314.7,209.4 314.8,209.8 314.9,212.9 315.1,210.1 315.2,209.9 315.4,205.0 315.5,208.9 315.6,206.1 315.8,210.4 315.9,210.5 316.0,211.5 316.2,214.7 316.3,208.9 316.5,213.4 316.6,206.2 316.7,209.9 316.9,212.7 317.0,215.7 317.2,207.0 317.3,208.9 317.4,210.4 317.6,209.7 317.7,207.6 317.9,205.6 318.0,206.0 318.1,211.4 318.3,206.4 318.4,222.0 318.5,214.1 318.7,205.4 318.8,208.9 319.0,213.9 319.1,213.9 319.2,220.7 319.4,206.3 319.5,209.4 319.7,213.9 319.8,210.1 319.9,208.2 320.1,210.8 320.2,211.9 320.3,209.5 320.5,209.6 320.6,212.0 320.8,206.7 320.9,205.9 321.0,207.4 321.2,204.9 321.3,209.8 321.5,206.2 321.6,210.5 321.7,204.7 321.9,211.9 322.0,209.6 322.1,208.3 322.3,206.6 322.4,208.4 322.6,206.3 322.7,205.6 322.8,212.3 323.0,210.8 323.1,212.3 323.3,204.9 323.4,203.0 323.5,204.4 323.7,217.8 323.8,211.8 323.9,203.8 324.1,212.3 324.2,207.8 324.4,205.8 324.5,209.0 324.6,210.7 324.8,207.8 324.9,208.1 325.1,206.2 325.2,204.3 325.3,207.0 325.5,203.6 325.6,210.1 325.7,202.1 325.9,218.5 326.0,203.7 326.2,212.5 326.3,207.0 326.4,218.1 326.6,209.3 326.7,211.3 326.9,208.4 327.0,207.7 327.1,214.6 327.3,210.7 327.4,206.3 327.5,208.5 327.7,214.0 327.8,210.0 328.0,201.5 328.1,214.3 328.2,206.6 328.4,209.5 328.5,206.5 328.7,208.3 328.8,209.7 328.9,204.7 329.1,208.6 329.2,208.3 329.3,210.8 329.5,205.9 329.6,206.0 329.8,209.2 329.9,205.1 330.0,208.4 330.2,209.6 330.3,205.2 330.5,207.1 330.6,203.9 330.7,198.3 330.9,202.7 331.0,200.7 331.1,207.0 331.3,203.7 331.4,206.5 331.6,205.9 331.7,208.4 331.8,203.8 332.0,203.5 332.1,206.3 332.3,209.5 332.4,204.4 332.5,205.4 332.7,204.0 332.8,203.1 332.9,194.4 333.1,204.4 333.2,204.0 333.4,204.1 333.5,210.7 333.6,204.3 333.8,206.4 333.9,204.8 334.1,208.8 334.2,204.5 334.3,210.7 334.5,204.7 334.6,207.8 334.7,208.5 334.9,204.1 335.0,207.5 335.2,205.0 335.3,202.5 335.4,202.9 335.6,206.0 335.7,210.4 335.9,204.1 336.0,207.1 336.1,204.0 336.3,207.0 336.4,202.6 336.5,203.8 336.7,206.1 336.8,204.3 337.0,206.3 337.1,209.5 337.2,206.2 337.4,204.5 337.5,202.9 337.7,204.9 337.8,209.5 337.9,205.9 338.1,205.7 338.2,207.4 338.3,207.9 338.5,202.8 338.6,204.5 338.8,199.0 338.9,200.9 339.0,203.0 339.2,204.6 339.3,207.7 339.5,206.6 339.6,204.2 339.7,207.9 339.9,199.2 340.0,201.9 340.1,198.2 340.3,202.7 340.4,204.8 340.6,203.3 340.7,203.7 340.8,209.7 341.0,201.5 341.1,202.8 341.3,205.0 341.4,207.1 341.5,207.6 341.7,204.2 341.8,205.4 341.9,205.9 342.1,209.3 342.2,204.2 342.4,199.9 342.5,207.3 342.6,203.3 342.8,206.5 342.9,210.8 343.1,207.1 343.2,212.3 343.3,202.1 343.5,207.6 343.6,207.9 343.7,209.0 343.9,204.2 344.0,206.5 344.2,206.2 344.3,206.5 344.4,202.4 344.6,201.5 344.7,208.1 344.9,207.1 345.0,206.0 345.1,208.0 345.3,209.2 345.4,203.4 345.6,208.4 345.7,210.2 345.8,209.2 346.0,208.3 346.1,191.2 346.2,203.1 346.4,205.5 346.5,209.7 346.7,211.0 346.8,199.4 346.9,206.6 347.1,207.8 347.2,210.7 347.4,213.8 347.5,209.9 347.6,206.8 347.8,210.4 347.9,209.6 348.0,215.4 348.2,210.3 348.3,208.6 348.5,208.5 348.6,204.9 348.7,205.6 348.9,207.3 349.0,205.7 349.2,208.5 349.3,208.3 349.4,210.8 349.6,212.3 349.7,208.3 349.8,207.2 350.0,202.2 350.1,208.6 350.3,209.5 350.4,205.2 350.5,206.3 350.7,205.5 350.8,210.4 351.0,209.0 351.1,210.9 351.2,203.9 351.4,215.4 351.5,205.8 351.6,205.8 351.8,209.4 351.9,207.2 352.1,214.5 352.2,208.0 352.3,206.8 352.5,211.8 352.6,212.5 352.8,206.7 352.9,208.1 353.0,206.1 353.2,209.1 353.3,214.7 353.4,212.9 353.6,212.3 353.7,212.9 353.9,209.3 354.0,212.1 354.1,209.2 354.3,207.4 354.4,214.4 354.6,204.6 354.7,209.7 354.8,208.0 355.0,204.7 355.1,208.5 355.2,210.0 355.4,210.7 355.5,207.3 355.7,211.9 355.8,210.9 355.9,212.0 356.1,203.6 356.2,207.8 356.4,207.6 356.5,222.7 356.6,207.9 356.8,208.6 356.9,207.4 357.0,207.8 357.2,208.8 357.3,214.4 357.5,208.9 357.6,204.9 357.7,212.7 357.9,210.2 358.0,213.5 358.2,214.0 358.3,211.9 358.4,211.5 358.6,211.2 358.7,212.5 358.8,210.2 359.0,212.1 359.1,215.8 359.3,209.6 359.4,209.4 359.5,209.9 359.7,213.5 359.8,213.7 360.0,216.1 360.1,203.7 360.2,212.4 360.4,213.3 360.5,208.1 360.6,213.6 360.8,212.8 360.9,218.6 361.1,217.6 361.2,210.9 361.3,212.0 361.5,216.6 361.6,209.8 361.8,211.6 361.9,218.6 362.0,216.4 362.2,214.7 362.3,218.0 362.4,213.8 362.6,214.9 362.7,214.2 362.9,211.5 363.0,223.4 363.1,212.8 363.3,214.8 363.4,207.2 363.6,215.3 363.7,209.7 363.8,211.5 364.0,214.9 364.1,213.4 364.2,217.2 364.4,218.0 364.5,216.8 364.7,229.8 364.8,226.9 364.9,205.6 365.1,210.5 365.2,213.4 365.4,217.6 365.5,221.4 365.6,212.3 365.8,214.3 365.9,216.9 366.0,205.1 366.2,219.4 366.3,213.1 366.5,217.7 366.6,218.1 366.7,216.6 366.9,217.4 367.0,218.3 367.2,210.2 367.3,218.3 367.4,220.4 367.6,218.4 367.7,220.4 367.8,219.2 368.0,217.0 368.1,218.4 368.3,216.4 368.4,220.7 368.5,218.6 368.7,216.0 368.8,219.9 369.0,219.9 369.1,216.4 369.2,219.5 369.4,218.9 369.5,218.9 369.6,214.8 369.8,222.3 369.9,221.1 370.1,219.8 370.2,220.9 370.3,221.0 370.5,219.0 370.6,218.8 370.8,225.1 370.9,218.8 371.0,219.6 371.2,218.1 371.3,220.6 371.4,224.2 371.6,222.4 371.7,221.9 371.9,220.8 372.0,220.2 372.1,216.6 372.3,225.9 372.4,219.2 372.6,217.1 372.7,222.3 372.8,221.7 373.0,219.8 373.1,217.1 373.3,208.7 373.4,220.9 373.5,220.8 373.7,219.4 373.8,218.6 373.9,219.9 374.1,219.2 374.2,223.7 374.4,223.1 374.5,226.7 374.6,218.4 374.8,223.5 374.9,218.2 375.1,224.3 375.2,220.9 375.3,222.2 375.5,221.7 375.6,216.3 375.7,227.9 375.9,222.9 376.0,223.2 376.2,222.1 376.3,225.1 376.4,220.9 376.6,234.1 376.7,223.7 376.9,229.5 377.0,225.3 377.1,221.2 377.3,221.3 377.4,224.6 377.5,223.9 377.7,225.2 377.8,223.2 378.0,233.4 378.1,232.5 378.2,222.0 378.4,227.9 378.5,230.2 378.7,225.7 378.8,226.0 378.9,229.3 379.1,227.6 379.2,223.0 379.3,230.1 379.5,225.3 379.6,231.8 379.8,225.4 379.9,220.7 380.0,227.3 380.2,230.5 380.3,228.5 380.5,228.3 380.6,225.4 380.7,230.4 380.9,223.0 381.0,230.4 381.1,225.2 381.3,226.9 381.4,224.4 381.6,225.8 381.7,232.4 381.8,225.6 382.0,229.4 382.1,226.8 382.3,231.5 382.4,225.4 382.5,229.0 382.7,231.1 382.8,234.9 382.9,225.5 383.1,227.0 383.2,228.3 383.4,233.6 383.5,227.2 383.6,232.3 383.8,228.2 383.9,226.7 384.1,225.3 384.2,230.1 384.3,232.7 384.5,230.0 384.6,224.5 384.7,229.4 384.9,233.8 385.0,233.7 385.2,232.1 385.3,235.8 385.4,228.6 385.6,228.4 385.7,238.4 385.9,234.3 386.0,232.2 386.1,231.6 386.3,226.3 386.4,235.5 386.5,227.6 386.7,227.7 386.8,232.5 387.0,236.9 387.1,231.3 387.2,233.5 387.4,229.3 387.5,233.3 387.7,228.3 387.8,238.7 387.9,230.5 388.1,234.9 388.2,227.8 388.3,238.6 388.5,235.4 388.6,240.0 388.8,233.4 388.9,238.3 389.0,234.9 389.2,237.6 389.3,239.4 389.5,234.0 389.6,238.4 389.7,241.3 389.9,240.8 390.0,232.9 390.1,237.1 390.3,233.7 390.4,239.6 390.6,233.9 390.7,238.8 390.8,234.5 391.0,235.4 391.1,235.6 391.3,246.8 391.4,235.0 391.5,236.3 391.7,235.0 391.8,238.4 391.9,237.9 392.1,238.6 392.2,235.8 392.4,239.1 392.5,238.4 392.6,240.0 392.8,238.9 392.9,240.2 393.1,241.4 393.2,238.1 393.3,240.7 393.5,234.4 393.6,241.7 393.7,242.0 393.9,237.9 394.0,241.8 394.2,239.3 394.3,243.6 394.4,241.7 394.6,237.1 394.7,239.8 394.9,236.0 395.0,239.8 395.1,242.2 395.3,243.1 395.4,240.4 395.5,240.4 395.7,241.8 395.8,240.4 396.0,242.9 396.1,245.2 396.2,242.8 396.4,245.0 396.5,241.2 396.7,241.9 396.8,244.4 396.9,248.6 397.1,246.3 397.2,247.7 397.3,243.9 397.5,244.5 397.6,240.3 397.8,245.9 397.9,239.2 398.0,247.4 398.2,245.6 398.3,248.0 398.5,245.9 398.6,243.8 398.7,243.8 398.9,246.6 399.0,250.0 399.1,245.7 399.3,245.4 399.4,245.4 399.6,245.0 399.7,246.2 399.8,246.6 400.0,246.1 400.1,247.6 400.3,244.1 400.4,251.6 400.5,248.7 400.7,251.8 400.8,248.4 401.0,247.3 401.1,248.6 401.2,249.4 401.4,247.5 401.5,248.4 401.6,254.4 401.8,251.9 401.9,248.4 402.1,251.1 402.2,248.1 402.3,253.4 402.5,247.6 402.6,252.7 402.8,251.1 402.9,251.8 403.0,249.9 403.2,250.9 403.3,249.9 403.4,250.2 403.6,253.7 403.7,258.5 403.9,252.2 404.0,255.6 404.1,252.9 404.3,251.4 404.4,256.2 404.6,254.9 404.7,256.2 404.8,253.5 405.0,253.5 405.1,251.1 405.2,252.9 405.4,257.2 405.5,247.8 405.7,254.2 405.8,257.1 405.9,255.7 406.1,255.9 406.2,253.4 406.4,256.9 406.5,257.5 406.6,254.7 406.8,258.4 406.9,253.9 407.0,249.1 407.2,255.6 407.3,255.5 407.5,254.5 407.6,255.4 407.7,255.3 407.9,260.1 408.0,259.6 408.2,257.1 408.3,263.4 408.4,257.6 408.6,258.8 408.7,254.5 408.8,260.3 409.0,255.3 409.1,259.3 409.3,259.9 409.4,264.4 409.5,255.5 409.7,255.5 409.8,259.2 410.0,260.3 410.1,260.4 410.2,257.2 410.4,256.8 410.5,260.8 410.6,255.5 410.8,259.0 410.9,256.6 411.1,254.2 411.2,255.1 411.3,258.7 411.5,263.2 411.6,259.0 411.8,257.3 411.9,256.9 412.0,258.8 412.2,258.2 412.3,255.4 412.4,258.5 412.6,263.2 412.7,257.7 412.9,261.0 413.0,260.0 413.1,261.9 413.3,258.7 413.4,258.4 413.6,262.8 413.7,260.1 413.8,261.8 414.0,261.2 414.1,264.2 414.2,262.4 414.4,262.3 414.5,260.0 414.7,258.8 414.8,260.5 414.9,264.1 415.1,263.8 415.2,263.5 415.4,261.2 415.5,259.7 415.6,264.3 415.8,262.6 415.9,263.4 416.0,260.5 416.2,261.1 416.3,264.7 416.5,264.7 416.6,261.0 416.7,264.4 416.9,261.2 417.0,266.3 417.2,265.1 417.3,268.7 417.4,267.0 417.6,262.3 417.7,264.2 417.8,262.6 418.0,264.7 418.1,266.1 418.3,264.5 418.4,264.8 418.5,262.2 418.7,266.1 418.8,264.9 419.0,266.5 419.1,267.5 419.2,265.6 419.4,267.0 419.5,260.9 419.6,267.9 419.8,266.3 419.9,265.3 420.1,265.5 420.2,263.2 420.3,265.2 420.5,265.6 420.6,266.6 420.8,266.5 420.9,265.2 421.0,265.9 421.2,261.9 421.3,266.8 421.4,268.3 421.6,269.1 421.7,269.5 421.9,266.8 422.0,267.3 422.1,266.8 422.3,267.0 422.4,268.5 422.6,271.1 422.7,264.7 422.8,267.6 423.0,269.2 423.1,266.9 423.2,269.6 423.4,265.7 423.5,267.8 423.7,265.1 423.8,269.5 423.9,267.4 424.1,270.3 424.2,268.5 424.4,267.2 424.5,268.4 424.6,269.7 424.8,269.7 424.9,268.9 425.0,269.1 425.2,270.0 425.3,272.1 425.5,269.8 425.6,271.9 425.7,268.2 425.9,272.8 426.0,271.5 426.2,270.2 426.3,270.5 426.4,267.3 426.6,270.9 426.7,270.0 426.8,267.7 427.0,270.1 427.1,272.2 427.3,271.5 427.4,271.6 427.5,269.9 427.7,273.2 427.8,271.4 428.0,273.3 428.1,276.4 428.2,268.2 428.4,273.5 428.5,272.4 428.7,271.0 428.8,275.3 428.9,272.3 429.1,276.6 429.2,274.6 429.3,274.3 429.5,273.4 429.6,275.1 429.8,267.0 429.9,276.8 430.0,275.0 430.2,276.1 430.3,275.0 430.5,274.8 430.6,271.1 430.7,274.4 430.9,275.1 431.0,272.2 431.1,271.5 431.3,273.8 431.4,275.2 431.6,271.7 431.7,276.1 431.8,277.5 432.0,275.1 432.1,276.1 432.3,276.6 432.4,274.3 432.5,277.3 432.7,277.1 432.8,264.7 432.9,277.3 433.1,278.0 433.2,274.5 433.4,278.4 433.5,276.2 433.6,274.2 433.8,275.0 433.9,275.1 434.1,277.8 434.2,275.7 434.3,276.4 434.5,274.8 434.6,277.4 434.7,274.9 434.9,276.0 435.0,278.7 435.2,278.9 435.3,276.9 435.4,279.6 435.6,279.4 435.7,278.3 435.9,280.6 436.0,281.4 436.1,279.0 436.3,277.1 436.4,279.1 436.5,282.2 436.7,281.7 436.8,281.8 437.0,281.4 437.1,278.4 437.2,279.9 437.4,281.5 437.5,279.7 437.7,280.6 437.8,276.9 437.9,276.2 438.1,282.2 438.2,279.9 438.3,279.8 438.5,281.8 438.6,288.5 438.8,284.9 438.9,274.9 439.0,281.0 439.2,282.4 439.3,277.1 439.5,273.8 439.6,280.8 439.7,284.8 439.9,283.4 440.0,279.0 440.1,282.8 440.3,284.3 440.4,282.3 440.6,282.9 440.7,282.0 440.8,282.2 441.0,274.7 441.1,282.4 441.3,278.3 441.4,280.3 441.5,283.3 441.7,282.6 441.8,278.4 441.9,283.2 442.1,283.7 442.2,282.5 442.4,283.5 442.5,283.2 442.6,279.0 442.8,281.9 442.9,282.0 443.1,280.4 443.2,278.9 443.3,280.9 443.5,282.4 443.6,281.1 443.7,284.8 443.9,286.8 444.0,281.7 444.2,282.7 444.3,283.1 444.4,283.8 444.6,282.9 444.7,279.0 444.9,284.1 445.0,283.0 445.1,277.6 445.3,282.9 445.4,282.8 445.5,284.4 445.7,283.2 445.8,283.3 446.0,284.5 446.1,284.9 446.2,287.6 446.4,286.5 446.5,285.0 446.7,287.0 446.8,287.9 446.9,284.8 447.1,287.5 447.2,283.0 447.3,286.1 447.5,288.2 447.6,287.2 447.8,285.3 447.9,284.4 448.0,284.3 448.2,284.9 448.3,283.5 448.5,280.5 448.6,283.3 448.7,283.3 448.9,285.5 449.0,281.7 449.1,285.3 449.3,286.3 449.4,283.0 449.6,282.9 449.7,284.1 449.8,283.9 450.0,285.4 450.1,279.8 450.3,283.7 450.4,286.4 450.5,283.9 450.7,287.3 450.8,288.5 450.9,283.4 451.1,280.6 451.2,285.8 451.4,284.7 451.5,284.4 451.6,284.6 451.8,283.8 451.9,285.4 452.1,286.3 452.2,288.5 452.3,285.5 452.5,287.4 452.6,287.4 452.7,282.5 452.9,288.2 453.0,284.7 453.2,284.9 453.3,288.6 453.4,292.8 453.6,285.3 453.7,285.7 453.9,285.6 454.0,286.3 454.1,286.6 454.3,285.8 454.4,284.4 454.5,290.7 454.7,286.7 454.8,285.9 455.0,288.9 455.1,286.5 455.2,289.5 455.4,289.0 455.5,289.3 455.7,287.0 455.8,288.9 455.9,285.2 456.1,285.7 456.2,288.8 456.4,288.3 456.5,291.2 456.6,288.4 456.8,288.2 456.9,289.5 457.0,289.3 457.2,290.0 457.3,287.4 457.5,288.2 457.6,290.9 457.7,291.1 457.9,290.7 458.0,291.6 458.2,287.8 458.3,290.0 458.4,291.0 458.6,292.4 458.7,291.2 458.8,290.3 459.0,290.7 459.1,290.6 459.3,288.7 459.4,291.3 459.5,292.6 459.7,292.2 459.8,288.1 460.0,291.5 460.1,288.6 460.2,293.1 460.4,300.0 460.5,292.1 460.6,289.6 460.8,287.5 460.9,289.2 461.1,290.4 461.2,288.3 461.3,289.2 461.5,294.3 461.6,289.2 461.8,292.6 461.9,288.4 462.0,292.0 462.2,293.1 462.3,292.6 462.4,294.1 462.6,295.2 462.7,289.7 462.9,292.8 463.0,293.2 463.1,292.8 463.3,294.9 463.4,292.6 463.6,294.4 463.7,294.2 463.8,292.9 464.0,293.6 464.1,291.5 464.2,293.3 464.4,293.1 464.5,292.1 464.7,291.9 464.8,294.3 464.9,292.3 465.1,296.7 465.2,295.2 465.4,294.5 465.5,292.2 465.6,294.8 465.8,293.4 465.9,293.1 466.0,291.2 466.2,294.0 466.3,298.2 466.5,292.7 466.6,289.0 466.7,293.3 466.9,291.3 467.0,293.4 467.2,296.8 467.3,293.1 467.4,298.2 467.6,291.9 467.7,295.9 467.8,296.1 468.0,296.1 468.1,295.0 468.3,291.3 468.4,291.0 468.5,295.9 468.7,294.3 468.8,290.3 469.0,296.3 469.1,292.5 469.2,293.5 469.4,296.4 469.5,296.4 469.6,294.7 469.8,293.2 469.9,297.0 470.1,295.9 470.2,293.9 470.3,292.5 470.5,294.9 470.6,288.6 470.8,297.5 470.9,295.1 471.0,293.5 471.2,294.7 471.3,291.2 471.4,292.2 471.6,292.7 471.7,291.2 471.9,292.9 472.0,294.8 472.1,292.0 472.3,294.0 472.4,291.6 472.6,294.4 472.7,290.9 472.8,295.2 473.0,295.1 473.1,295.4 473.2,297.2 473.4,294.3 473.5,294.3 473.7,295.0 473.8,293.3 473.9,291.0 474.1,292.2 474.2,292.2 474.4,294.5 474.5,293.2 474.6,293.5 474.8,295.1 474.9,294.2 475.0,297.5 475.2,294.0 475.3,292.6 475.5,296.4 475.6,288.9 475.7,294.0 475.9,295.6 476.0,294.1 476.2,294.8 476.3,292.6 476.4,293.6 476.6,295.3 476.7,293.3 476.8,293.8 477.0,294.4 477.1,297.1 477.3,296.9 477.4,294.7 477.5,294.7 477.7,293.7 477.8,297.4 478.0,295.9 478.1,296.8 478.2,293.2 478.4,296.9 478.5,295.3 478.6,296.3 478.8,296.6 478.9,294.8 479.1,294.2 479.2,295.9 479.3,292.6 479.5,297.2 479.6,294.9 479.8,291.9 479.9,295.8 480.0,295.0 480.2,295.8 480.3,294.3 480.4,293.5 480.6,292.4 480.7,290.6 480.9,293.6 481.0,293.1 481.1,291.0 481.3,292.7 481.4,290.1 481.6,293.2 481.7,298.7 481.8,292.4 482.0,290.9 482.1,293.9 482.2,292.7 482.4,291.7 482.5,293.3 482.7,293.0 482.8,294.7 482.9,290.6 483.1,291.4 483.2,297.1 483.4,293.1 483.5,295.0 483.6,293.6 483.8,294.7 483.9,298.8 484.1,291.0 484.2,295.6 484.3,294.6 484.5,295.3 484.6,290.0 484.7,293.9 484.9,297.9 485.0,296.7 485.2,294.0 485.3,296.3 485.4,294.0 485.6,301.0 485.7,297.0 485.9,293.6 486.0,298.3 486.1,297.9 486.3,297.5 486.4,297.2 486.5,296.0 486.7,296.8 486.8,292.9 487.0,299.0 487.1,299.9 487.2,297.2 487.4,297.1 487.5,293.7 487.7,295.5 487.8,293.9 487.9,294.1 488.1,297.5 488.2,298.8 488.3,296.3 488.5,301.8 488.6,298.2 488.8,292.9 488.9,296.4 489.0,299.5 489.2,297.6 489.3,299.2 489.5,294.7 489.6,300.0 489.7,295.8 489.9,298.5 490.0,301.4 490.1,297.9 490.3,297.7 490.4,299.5 490.6,296.5 490.7,296.5 490.8,299.6 491.0,295.4 491.1,295.8 491.3,301.0 491.4,296.0 491.5,299.1 491.7,300.0 491.8,298.2 491.9,296.2 492.1,299.6 492.2,296.7 492.4,301.6 492.5,301.6 492.6,296.5 492.8,299.2 492.9,298.7 493.1,299.1 493.2,297.6 493.3,296.5 493.5,299.1 493.6,295.5 493.7,298.9 493.9,298.2 494.0,297.3 494.2,300.0 494.3,298.9 494.4,298.3 494.6,295.6 494.7,298.5 494.9,300.7 495.0,298.7 495.1,294.4 495.3,294.1 495.4,297.2 495.5,296.9 495.7,298.8 495.8,297.1 496.0,297.8 496.1,301.6 496.2,297.3 496.4,300.9 496.5,299.5 496.7,301.9 496.8,301.3 496.9,299.9 497.1,301.7 497.2,300.2 497.3,298.2 497.5,301.3 497.6,301.5 497.8,300.0 497.9,300.6 498.0,299.7 498.2,300.7 498.3,299.9 498.5,297.5 498.6,299.6 498.7,303.0 498.9,301.7 499.0,302.8 499.1,300.4 499.3,300.0 499.4,299.0 499.6,300.9 499.7,302.2 499.8,302.2 500.0,302.4 500.1,300.4 500.3,301.7 500.4,299.9 500.5,302.7 500.7,302.3 500.8,300.2 500.9,301.3 501.1,302.4 501.2,302.2 501.4,299.8 501.5,300.3 501.6,301.8 501.8,301.7 501.9,299.4 502.1,303.1 502.2,303.8 502.3,302.7 502.5,302.7 502.6,293.5 502.7,303.1 502.9,299.2 503.0,299.2 503.2,301.1 503.3,301.4 503.4,299.3 503.6,303.8 503.7,298.7 503.9,298.0 504.0,300.6 504.1,303.8 504.3,308.1 504.4,302.1 504.5,301.7 504.7,302.3 504.8,302.0 505.0,301.9 505.1,301.4 505.2,299.3 505.4,303.6 505.5,301.5 505.7,302.8 505.8,302.9 505.9,303.9 506.1,301.3 506.2,304.0 506.3,303.8 506.5,302.0 506.6,301.9 506.8,300.8 506.9,300.4 507.0,301.2 507.2,300.1 507.3,303.8 507.5,300.6 507.6,299.9 507.7,302.3 507.9,303.1 508.0,301.4 508.1,300.2 508.3,302.6 508.4,303.7 508.6,300.0 508.7,304.5 508.8,300.1 509.0,304.1 509.1,302.5 509.3,302.8 509.4,304.6 509.5,305.8 509.7,307.1 509.8,305.8 509.9,304.4 510.1,301.3 510.2,303.1 510.4,304.0 510.5,302.7 510.6,305.6 510.8,303.1 510.9,306.4 511.1,303.3 511.2,301.5 511.3,302.9 511.5,302.4"/>
<polyline stroke="#000000" stroke-width="1.7" points="27.0,387.4 27.1,381.4 27.3,385.0 27.4,383.6 27.6,383.5 27.7,383.6 27.8,381.2 28.0,383.2 28.1,382.3 28.2,387.3 28.4,383.3 28.5,382.3 28.7,382.4 28.8,381.6 28.9,381.0 29.1,381.9 29.2,383.2 29.4,382.1 29.5,383.5 29.6,382.0 29.8,382.2 29.9,384.1 30.0,382.8 30.2,381.2 30.3,381.7 30.5,382.8 30.6,384.6 30.7,382.0 30.9,382.1 31.0,383.5 31.2,381.1 31.3,381.3 31.4,383.0 31.6,382.7 31.7,382.0 31.8,382.8 32.0,378.2 32.1,383.0 32.3,380.6 32.4,379.5 32.5,381.8 32.7,382.3 32.8,380.6 33.0,379.8 33.1,381.1 33.2,380.7 33.4,382.7 33.5,381.7 33.6,380.6 33.8,381.4 33.9,379.5 34.1,378.5 34.2,380.2 34.3,380.1 34.5,378.9 34.6,377.9 34.8,379.0 34.9,375.5 35.0,379.2 35.2,378.7 35.3,376.0 35.4,377.8 35.6,376.3 35.7,378.5 35.9,375.1 36.0,376.4 36.1,378.3 36.3,378.6 36.4,374.3 36.6,376.3 36.7,377.2 36.8,375.9 37.0,378.4 37.1,374.9 37.2,376.6 37.4,374.5 37.5,377.5 37.7,375.7 37.8,374.9 37.9,373.2 38.1,377.4 38.2,376.0 38.4,375.8 38.5,376.3 38.6,375.4 38.8,374.1 38.9,373.8 39.0,373.7 39.2,376.3 39.3,372.8 39.5,373.8 39.6,374.1 39.7,374.6 39.9,375.1 40.0,372.7 40.2,371.9 40.3,374.0 40.4,375.6 40.6,375.1 40.7,374.1 40.9,373.3 41.0,373.8 41.1,372.9 41.3,374.2 41.4,372.0 41.5,373.1 41.7,372.5 41.8,373.1 42.0,372.6 42.1,375.6 42.2,374.1 42.4,374.0 42.5,369.4 42.7,371.3 42.8,371.0 42.9,372.3 43.1,368.9 43.2,373.0 43.3,372.8 43.5,369.9 43.6,370.1 43.8,370.4 43.9,371.6 44.0,372.2 44.2,373.6 44.3,370.6 44.5,371.8 44.6,371.0 44.7,372.9 44.9,371.6 45.0,372.4 45.1,369.0 45.3,370.2 45.4,369.2 45.6,372.1 45.7,371.1 45.8,370.0 46.0,369.7 46.1,370.8 46.3,369.4 46.4,369.1 46.5,370.6 46.7,373.0 46.8,369.4 46.9,368.9 47.1,368.0 47.2,367.7 47.4,370.0 47.5,370.4 47.6,369.2 47.8,369.6 47.9,369.0 48.1,368.7 48.2,366.8 48.3,368.0 48.5,368.7 48.6,367.6 48.7,367.9 48.9,367.3 49.0,367.9 49.2,369.3 49.3,367.6 49.4,367.8 49.6,368.9 49.7,368.3 49.9,369.5 50.0,364.5 50.1,368.2 50.3,366.2 50.4,366.7 50.5,367.4 50.7,367.6 50.8,367.6 51.0,366.5 51.1,368.2 51.2,365.6 51.4,365.8 51.5,366.7 51.7,365.0 51.8,368.7 51.9,367.3 52.1,369.0 52.2,366.2 52.3,365.8 52.5,366.4 52.6,367.2 52.8,365.6 52.9,366.7 53.0,366.1 53.2,368.1 53.3,365.1 53.5,367.2 53.6,365.0 53.7,364.5 53.9,364.6 54.0,363.7 54.1,365.2 54.3,366.4 54.4,365.1 54.6,365.8 54.7,367.1 54.8,365.2 55.0,365.1 55.1,364.3 55.3,362.4 55.4,365.6 55.5,362.2 55.7,365.4 55.8,364.3 55.9,365.7 56.1,364.0 56.2,363.0 56.4,364.5 56.5,363.0 56.6,363.4 56.8,363.5 56.9,363.1 57.1,362.8 57.2,362.0 57.3,362.7 57.5,360.1 57.6,362.6 57.7,360.9 57.9,364.0 58.0,364.1 58.2,359.7 58.3,362.2 58.4,361.6 58.6,360.4 58.7,362.2 58.9,360.8 59.0,358.9 59.1,360.8 59.3,360.8 59.4,361.3 59.5,359.1 59.7,361.9 59.8,362.1 60.0,359.5 60.1,360.3 60.2,360.9 60.4,360.3 60.5,363.4 60.7,361.2 60.8,359.6 60.9,359.6 61.1,360.5 61.2,363.8 61.3,360.2 61.5,360.4 61.6,360.7 61.8,359.6 61.9,362.8 62.0,359.0 62.2,360.6 62.3,359.8 62.5,360.3 62.6,357.7 62.7,361.8 62.9,359.0 63.0,359.3 63.1,358.0 63.3,358.3 63.4,359.8 63.6,360.2 63.7,359.9 63.8,360.4 64.0,359.4 64.1,358.1 64.3,359.1 64.4,358.8 64.5,357.7 64.7,359.0 64.8,359.6 64.9,358.2 65.1,357.4 65.2,358.6 65.4,360.2 65.5,357.2 65.6,357.3 65.8,357.3 65.9,359.3 66.1,355.0 66.2,358.0 66.3,359.2 66.5,355.9 66.6,358.9 66.7,357.6 66.9,355.9 67.0,356.7 67.2,354.0 67.3,355.3 67.4,358.5 67.6,354.7 67.7,358.6 67.9,355.6 68.0,357.1 68.1,355.8 68.3,352.3 68.4,354.7 68.6,356.1 68.7,354.2 68.8,353.8 69.0,356.1 69.1,354.5 69.2,352.9 69.4,354.3 69.5,356.3 69.7,354.3 69.8,356.1 69.9,357.1 70.1,354.7 70.2,352.7 70.4,352.4 70.5,354.2 70.6,355.2 70.8,354.1 70.9,354.3 71.0,352.7 71.2,353.8 71.3,352.9 71.5,353.1 71.6,351.8 71.7,351.1 71.9,352.7 72.0,351.6 72.2,351.7 72.3,354.3 72.4,353.2 72.6,357.5 72.7,354.7 72.8,352.4 73.0,354.6 73.1,354.0 73.3,352.3 73.4,355.0 73.5,351.9 73.7,348.6 73.8,354.3 74.0,352.0 74.1,355.0 74.2,351.8 74.4,350.9 74.5,354.8 74.6,350.8 74.8,352.3 74.9,354.1 75.1,352.0 75.2,351.7 75.3,351.9 75.5,352.6 75.6,350.3 75.8,352.1 75.9,351.9 76.0,354.5 76.2,350.6 76.3,349.9 76.4,352.3 76.6,350.6 76.7,351.5 76.9,351.3 77.0,352.8 77.1,350.0 77.3,350.7 77.4,347.0 77.6,349.2 77.7,353.0 77.8,350.1 78.0,350.1 78.1,349.2 78.2,351.9 78.4,351.0 78.5,348.6 78.7,351.4 78.8,351.1 78.9,352.0 79.1,349.8 79.2,353.6 79.4,351.4 79.5,350.8 79.6,350.2 79.8,350.5 79.9,351.9 80.0,350.1 80.2,352.1 80.3,351.3 80.5,352.7 80.6,351.9 80.7,350.5 80.9,347.5 81.0,350.6 81.2,351.2 81.3,350.1 81.4,350.7 81.6,349.2 81.7,349.4 81.8,348.4 82.0,351.7 82.1,350.0 82.3,349.3 82.4,348.0 82.5,349.6 82.7,352.2 82.8,350.7 83.0,349.0 83.1,352.5 83.2,353.0 83.4,352.2 83.5,351.8 83.6,352.2 83.8,351.4 83.9,352.0 84.1,349.6 84.2,353.0 84.3,350.9 84.5,353.5 84.6,347.5 84.8,351.7 84.9,352.1 85.0,349.9 85.2,350.9 85.3,351.1 85.4,351.0 85.6,349.3 85.7,350.2 85.9,351.9 86.0,352.0 86.1,350.4 86.3,350.5 86.4,350.7 86.6,351.9 86.7,348.7 86.8,348.0 87.0,350.2 87.1,348.5 87.2,349.5 87.4,350.6 87.5,351.0 87.7,348.9 87.8,351.5 87.9,348.0 88.1,351.5 88.2,348.3 88.4,348.6 88.5,351.6 88.6,350.1 88.8,349.5 88.9,350.0 89.0,351.4 89.2,350.7 89.3,350.7 89.5,352.2 89.6,349.7 89.7,349.9 89.9,349.8 90.0,352.0 90.2,351.8 90.3,352.4 90.4,350.5 90.6,350.5 90.7,352.1 90.8,350.2 91.0,352.3 91.1,352.2 91.3,349.7 91.4,350.5 91.5,350.6 91.7,353.4 91.8,354.5 92.0,350.6 92.1,351.0 92.2,347.6 92.4,351.2 92.5,350.8 92.6,348.7 92.8,351.6 92.9,348.2 93.1,350.2 93.2,350.8 93.3,349.0 93.5,352.4 93.6,352.4 93.8,348.9 93.9,348.9 94.0,351.9 94.2,350.7 94.3,348.8 94.4,350.3 94.6,350.7 94.7,350.8 94.9,352.1 95.0,351.1 95.1,353.2 95.3,352.4 95.4,351.4 95.6,351.9 95.7,352.6 95.8,351.5 96.0,348.6 96.1,351.9 96.3,350.8 96.4,353.0 96.5,350.7 96.7,351.7 96.8,351.5 96.9,353.5 97.1,351.3 97.2,350.5 97.4,351.4 97.5,350.3 97.6,350.9 97.8,350.4 97.9,351.0 98.1,353.4 98.2,349.8 98.3,350.5 98.5,350.4 98.6,351.8 98.7,348.8 98.9,349.2 99.0,350.4 99.2,351.5 99.3,350.7 99.4,350.2 99.6,349.7 99.7,351.8 99.9,353.5 100.0,352.0 100.1,351.5 100.3,352.0 100.4,349.9 100.5,351.0 100.7,350.7 100.8,351.6 101.0,351.2 101.1,349.3 101.2,352.7 101.4,353.7 101.5,350.5 101.7,351.4 101.8,351.3 101.9,351.7 102.1,348.1 102.2,352.9 102.3,349.6 102.5,352.1 102.6,349.9 102.8,349.3 102.9,349.8 103.0,351.5 103.2,349.0 103.3,349.8 103.5,349.6 103.6,347.9 103.7,352.3 103.9,351.2 104.0,350.3 104.1,352.2 104.3,349.3 104.4,350.5 104.6,353.3 104.7,352.5 104.8,347.8 105.0,346.0 105.1,349.4 105.3,352.4 105.4,350.3 105.5,350.7 105.7,351.8 105.8,349.6 105.9,351.6 106.1,352.6 106.2,351.8 106.4,351.5 106.5,350.1 106.6,352.1 106.8,350.6 106.9,353.2 107.1,355.2 107.2,350.2 107.3,348.0 107.5,350.3 107.6,351.4 107.7,352.4 107.9,352.5 108.0,349.7 108.2,349.5 108.3,352.6 108.4,349.3 108.6,352.4 108.7,350.2 108.9,351.6 109.0,351.6 109.1,351.6 109.3,351.8 109.4,349.2 109.5,351.1 109.7,350.8 109.8,351.4 110.0,352.7 110.1,350.4 110.2,349.8 110.4,350.0 110.5,350.5 110.7,352.2 110.8,349.7 110.9,352.6 111.1,351.2 111.2,350.3 111.3,348.8 111.5,350.9 111.6,351.6 111.8,347.8 111.9,352.3 112.0,353.1 112.2,350.9 112.3,351.2 112.5,354.0 112.6,352.2 112.7,349.2 112.9,350.6 113.0,350.4 113.1,350.5 113.3,347.1 113.4,351.5 113.6,349.4 113.7,350.5 113.8,350.1 114.0,351.5 114.1,349.8 114.3,349.0 114.4,351.1 114.5,352.7 114.7,350.1 114.8,352.4 114.9,350.9 115.1,349.8 115.2,352.9 115.4,349.7 115.5,352.5 115.6,350.3 115.8,351.9 115.9,349.4 116.1,350.1 116.2,352.8 116.3,351.8 116.5,351.3 116.6,350.5 116.7,352.0 116.9,349.3 117.0,349.7 117.2,351.3 117.3,350.3 117.4,350.5 117.6,351.5 117.7,351.5 117.9,351.6 118.0,354.5 118.1,353.3 118.3,353.6 118.4,352.1 118.5,351.7 118.7,350.3 118.8,351.9 119.0,349.2 119.1,351.5 119.2,353.4 119.4,354.8 119.5,354.2 119.7,351.2 119.8,353.2 119.9,351.4 120.1,353.7 120.2,352.6 120.3,354.1 120.5,356.4 120.6,353.8 120.8,356.0 120.9,352.9 121.0,352.3 121.2,354.9 121.3,355.3 121.5,352.3 121.6,353.1 121.7,351.0 121.9,352.8 122.0,354.5 122.1,353.3 122.3,352.4 122.4,351.2 122.6,353.8 122.7,354.7 122.8,354.1 123.0,353.5 123.1,351.4 123.3,356.0 123.4,353.3 123.5,352.8 123.7,354.3 123.8,350.1 124.0,353.5 124.1,353.4 124.2,354.1 124.4,355.5 124.5,354.4 124.6,351.0 124.8,353.2 124.9,354.0 125.1,354.2 125.2,352.4 125.3,351.6 125.5,354.9 125.6,354.6 125.8,353.7 125.9,351.3 126.0,356.4 126.2,349.5 126.3,353.4 126.4,357.1 126.6,353.8 126.7,354.4 126.9,352.2 127.0,356.0 127.1,352.2 127.3,354.2 127.4,354.0 127.6,352.5 127.7,355.3 127.8,352.1 128.0,353.3 128.1,354.0 128.2,353.3 128.4,354.4 128.5,355.2 128.7,353.6 128.8,353.1 128.9,353.1 129.1,353.3 129.2,355.0 129.4,353.4 129.5,354.2 129.6,353.5 129.8,352.4 129.9,355.0 130.0,352.3 130.2,353.9 130.3,356.0 130.5,352.5 130.6,353.7 130.7,351.3 130.9,352.9 131.0,351.7 131.2,353.4 131.3,353.1 131.4,354.2 131.6,356.3 131.7,354.5 131.8,355.0 132.0,353.9 132.1,353.5 132.3,352.7 132.4,351.8 132.5,354.4 132.7,356.9 132.8,355.3 133.0,353.9 133.1,357.0 133.2,353.8 133.4,353.3 133.5,352.3 133.6,352.8 133.8,353.9 133.9,357.0 134.1,353.7 134.2,352.5 134.3,353.2 134.5,353.4 134.6,351.2 134.8,353.7 134.9,354.4 135.0,353.9 135.2,354.1 135.3,351.8 135.4,351.3 135.6,355.7 135.7,355.3 135.9,351.5 136.0,354.3 136.1,354.1 136.3,354.9 136.4,354.4 136.6,353.6 136.7,354.7 136.8,354.5 137.0,354.6 137.1,352.0 137.2,350.7 137.4,353.7 137.5,352.5 137.7,355.4 137.8,356.2 137.9,355.5 138.1,354.4 138.2,355.2 138.4,356.9 138.5,354.3 138.6,356.5 138.8,356.2 138.9,355.5 139.0,357.2 139.2,354.0 139.3,356.1 139.5,353.6 139.6,354.0 139.7,353.6 139.9,356.1 140.0,354.2 140.2,355.7 140.3,354.0 140.4,357.1 140.6,358.0 140.7,355.6 140.8,357.7 141.0,356.3 141.1,358.5 141.3,355.7 141.4,353.4 141.5,357.5 141.7,355.2 141.8,353.6 142.0,354.1 142.1,352.8 142.2,354.9 142.4,353.4 142.5,357.1 142.6,356.0 142.8,352.8 142.9,353.0 143.1,354.2 143.2,352.3 143.3,355.0 143.5,355.1 143.6,354.2 143.8,354.4 143.9,356.1 144.0,357.2 144.2,357.4 144.3,355.4 144.4,356.5 144.6,354.1 144.7,355.9 144.9,354.1 145.0,356.5 145.1,353.8 145.3,354.3 145.4,355.5 145.6,356.3 145.7,353.6 145.8,355.0 146.0,355.9 146.1,356.1 146.2,354.3 146.4,355.5 146.5,355.5 146.7,357.8 146.8,356.4 146.9,353.5 147.1,352.5 147.2,355.6 147.4,357.1 147.5,355.6 147.6,356.7 147.8,354.8 147.9,353.5 148.0,356.5 148.2,355.7 148.3,356.6 148.5,353.9 148.6,355.9 148.7,354.8 148.9,356.7 149.0,355.1 149.2,354.9 149.3,355.2 149.4,357.9 149.6,356.3 149.7,355.2 149.8,354.5 150.0,354.3 150.1,357.8 150.3,352.9 150.4,354.4 150.5,356.5 150.7,357.0 150.8,355.1 151.0,356.5 151.1,356.5 151.2,356.7 151.4,355.5 151.5,357.9 151.7,355.7 151.8,357.6 151.9,354.0 152.1,356.8 152.2,353.6 152.3,353.4 152.5,355.9 152.6,353.7 152.8,355.8 152.9,353.6 153.0,357.3 153.2,354.8 153.3,353.3 153.5,355.0 153.6,355.8 153.7,353.2 153.9,354.9 154.0,356.9 154.1,355.5 154.3,354.1 154.4,353.3 154.6,355.0 154.7,352.0 154.8,349.9 155.0,353.2 155.1,352.8 155.3,356.8 155.4,354.4 155.5,352.6 155.7,352.4 155.8,355.1 155.9,353.1 156.1,353.5 156.2,354.4 156.4,354.8 156.5,355.0 156.6,355.0 156.8,356.8 156.9,357.5 157.1,352.8 157.2,359.1 157.3,355.5 157.5,357.2 157.6,354.5 157.7,356.2 157.9,356.0 158.0,356.1 158.2,357.0 158.3,356.4 158.4,353.8 158.6,355.0 158.7,356.3 158.9,356.1 159.0,354.4 159.1,354.5 159.3,354.6 159.4,353.2 159.5,352.8 159.7,356.7 159.8,353.8 160.0,354.7 160.1,353.2 160.2,356.2 160.4,357.0 160.5,354.1 160.7,355.1 160.8,353.3 160.9,357.1 161.1,355.8 161.2,353.1 161.3,355.9 161.5,354.9 161.6,355.1 161.8,355.3 161.9,353.9 162.0,354.0 162.2,355.8 162.3,354.7 162.5,353.5 162.6,358.0 162.7,354.7 162.9,354.1 163.0,354.0 163.1,356.1 163.3,356.7 163.4,355.7 163.6,356.3 163.7,352.8 163.8,354.2 164.0,353.8 164.1,354.4 164.3,355.1 164.4,351.3 164.5,358.8 164.7,352.9 164.8,354.8 164.9,355.3 165.1,355.2 165.2,354.1 165.4,349.5 165.5,352.1 165.6,354.8 165.8,352.3 165.9,352.2 166.1,350.3 166.2,355.5 166.3,354.6 166.5,352.6 166.6,353.5 166.7,353.4 166.9,351.9 167.0,353.3 167.2,353.9 167.3,354.4 167.4,355.2 167.6,353.5 167.7,352.6 167.9,353.8 168.0,352.3 168.1,351.4 168.3,354.7 168.4,352.4 168.5,353.4 168.7,354.4 168.8,351.8 169.0,354.4 169.1,354.1 169.2,353.3 169.4,354.1 169.5,352.5 169.7,350.3 169.8,353.1 169.9,352.3 170.1,354.9 170.2,353.9 170.3,352.6 170.5,353.5 170.6,355.5 170.8,355.1 170.9,353.9 171.0,353.7 171.2,352.6 171.3,352.9 171.5,353.9 171.6,352.7 171.7,353.1 171.9,351.1 172.0,350.3 172.1,350.3 172.3,352.3 172.4,354.9 172.6,354.4 172.7,351.1 172.8,350.3 173.0,353.7 173.1,353.3 173.3,350.6 173.4,353.9 173.5,352.6 173.7,354.3 173.8,352.9 173.9,353.7 174.1,352.7 174.2,350.7 174.4,351.5 174.5,351.0 174.6,353.3 174.8,350.4 174.9,349.6 175.1,353.0 175.2,353.5 175.3,353.9 175.5,353.4 175.6,349.4 175.7,350.7 175.9,350.9 176.0,351.5 176.2,348.3 176.3,351.6 176.4,351.9 176.6,350.0 176.7,351.5 176.9,352.9 177.0,351.2 177.1,352.4 177.3,352.5 177.4,351.4 177.5,351.2 177.7,350.1 177.8,352.6 178.0,350.0 178.1,349.8 178.2,351.8 178.4,349.3 178.5,350.8 178.7,351.6 178.8,350.1 178.9,350.4 179.1,351.3 179.2,350.9 179.4,347.4 179.5,348.0 179.6,352.1 179.8,350.6 179.9,346.8 180.0,347.7 180.2,349.9 180.3,348.4 180.5,350.6 180.6,350.2 180.7,351.2 180.9,348.7 181.0,351.2 181.2,353.2 181.3,349.3 181.4,352.3 181.6,351.8 181.7,351.2 181.8,350.4 182.0,348.5 182.1,348.9 182.3,351.0 182.4,351.3 182.5,351.6 182.7,351.0 182.8,350.5 183.0,348.5 183.1,347.3 183.2,349.7 183.4,350.1 183.5,349.5 183.6,346.8 183.8,348.4 183.9,346.7 184.1,349.2 184.2,347.7 184.3,348.9 184.5,349.8 184.6,349.5 184.8,351.5 184.9,347.7 185.0,345.9 185.2,350.5 185.3,351.1 185.4,351.1 185.6,349.1 185.7,349.7 185.9,349.0 186.0,346.9 186.1,348.0 186.3,349.2 186.4,347.7 186.6,351.1 186.7,345.9 186.8,347.6 187.0,350.0 187.1,347.2 187.2,346.4 187.4,346.1 187.5,347.1 187.7,350.6 187.8,348.7 187.9,348.9 188.1,347.2 188.2,349.3 188.4,348.1 188.5,346.2 188.6,347.1 188.8,348.1 188.9,349.5 189.0,347.5 189.2,348.5 189.3,350.6 189.5,345.9 189.6,345.0 189.7,348.5 189.9,347.7 190.0,346.9 190.2,347.4 190.3,346.5 190.4,347.8 190.6,346.7 190.7,348.3 190.8,345.2 191.0,345.8 191.1,347.2 191.3,346.3 191.4,348.3 191.5,347.5 191.7,346.7 191.8,347.8 192.0,346.4 192.1,344.8 192.2,345.2 192.4,345.8 192.5,346.3 192.6,347.1 192.8,348.3 192.9,347.6 193.1,349.1 193.2,348.2 193.3,345.9 193.5,348.7 193.6,347.8 193.8,345.3 193.9,346.2 194.0,347.6 194.2,346.2 194.3,347.4 194.4,346.4 194.6,347.0 194.7,345.5 194.9,346.4 195.0,345.4 195.1,347.4 195.3,343.9 195.4,347.0 195.6,348.4 195.7,347.3 195.8,346.2 196.0,347.1 196.1,344.9 196.2,344.6 196.4,345.3 196.5,345.3 196.7,346.7 196.8,343.6 196.9,346.3 197.1,342.0 197.2,343.0 197.4,343.9 197.5,345.6 197.6,342.4 197.8,339.8 197.9,343.7 198.0,342.8 198.2,341.1 198.3,341.4 198.5,341.9 198.6,343.3 198.7,344.3 198.9,340.8 199.0,347.1 199.2,343.6 199.3,343.0 199.4,344.7 199.6,343.8 199.7,347.4 199.8,345.5 200.0,343.1 200.1,343.0 200.3,342.8 200.4,342.8 200.5,344.4 200.7,342.2 200.8,345.5 201.0,342.6 201.1,342.1 201.2,343.7 201.4,339.0 201.5,340.7 201.6,343.1 201.8,342.4 201.9,342.1 202.1,342.8 202.2,341.3 202.3,341.7 202.5,339.6 202.6,338.5 202.8,343.4 202.9,340.0 203.0,340.5 203.2,343.9 203.3,343.4 203.4,340.8 203.6,340.5 203.7,341.0 203.9,339.3 204.0,341.8 204.1,341.0 204.3,340.8 204.4,341.9 204.6,342.1 204.7,343.9 204.8,343.2 205.0,338.2 205.1,342.1 205.2,338.6 205.4,337.8 205.5,341.1 205.7,338.8 205.8,339.5 205.9,341.6 206.1,338.6 206.2,338.3 206.4,340.0 206.5,341.2 206.6,339.6 206.8,336.2 206.9,337.7 207.1,338.1 207.2,341.8 207.3,340.1 207.5,339.9 207.6,340.6 207.7,338.2 207.9,339.5 208.0,339.6 208.2,337.1 208.3,338.6 208.4,339.2 208.6,336.5 208.7,339.7 208.9,339.6 209.0,340.0 209.1,336.8 209.3,338.0 209.4,340.0 209.5,338.8 209.7,336.2 209.8,337.6 210.0,339.0 210.1,336.6 210.2,337.3 210.4,341.0 210.5,336.9 210.7,336.7 210.8,335.0 210.9,335.6 211.1,338.9 211.2,336.0 211.3,333.9 211.5,334.2 211.6,335.8 211.8,336.9 211.9,334.5 212.0,337.2 212.2,335.0 212.3,336.6 212.5,336.7 212.6,336.7 212.7,334.7 212.9,335.0 213.0,336.1 213.1,333.0 213.3,335.7 213.4,336.5 213.6,337.5 213.7,335.6 213.8,335.2 214.0,335.4 214.1,333.7 214.3,334.3 214.4,334.9 214.5,334.8 214.7,332.3 214.8,333.8 214.9,330.8 215.1,335.3 215.2,332.9 215.4,333.9 215.5,331.7 215.6,333.2 215.8,334.2 215.9,335.2 216.1,331.2 216.2,334.9 216.3,333.2 216.5,332.2 216.6,333.9 216.7,332.5 216.9,332.7 217.0,331.8 217.2,333.4 217.3,333.3 217.4,333.1 217.6,331.6 217.7,332.5 217.9,333.7 218.0,334.7 218.1,332.4 218.3,334.7 218.4,332.1 218.5,330.4 218.7,333.3 218.8,330.7 219.0,332.4 219.1,333.4 219.2,331.2 219.4,331.4 219.5,335.8 219.7,331.7 219.8,331.6 219.9,332.5 220.1,331.2 220.2,331.1 220.3,331.9 220.5,326.9 220.6,333.2 220.8,329.2 220.9,328.7 221.0,331.7 221.2,330.9 221.3,328.7 221.5,330.9 221.6,328.5 221.7,329.1 221.9,327.7 222.0,329.0 222.1,331.2 222.3,330.4 222.4,330.5 222.6,331.7 222.7,330.2 222.8,329.1 223.0,330.1 223.1,333.6 223.3,330.6 223.4,331.0 223.5,330.2 223.7,330.9 223.8,331.3 223.9,330.3 224.1,329.8 224.2,328.4 224.4,328.4 224.5,330.4 224.6,330.9 224.8,330.9 224.9,329.2 225.1,327.3 225.2,329.6 225.3,329.5 225.5,325.6 225.6,329.7 225.7,328.9 225.9,330.6 226.0,325.6 226.2,325.5 226.3,328.9 226.4,324.1 226.6,326.0 226.7,325.0 226.9,325.2 227.0,323.3 227.1,326.4 227.3,328.1 227.4,326.9 227.5,326.7 227.7,324.9 227.8,328.0 228.0,326.1 228.1,326.8 228.2,321.6 228.4,325.1 228.5,322.2 228.7,325.0 228.8,324.6 228.9,322.0 229.1,324.3 229.2,325.5 229.3,324.3 229.5,324.2 229.6,321.4 229.8,321.9 229.9,321.0 230.0,323.1 230.2,324.8 230.3,323.2 230.5,322.0 230.6,319.8 230.7,322.6 230.9,320.8 231.0,317.3 231.1,317.2 231.3,320.2 231.4,318.9 231.6,323.2 231.7,320.1 231.8,317.6 232.0,318.4 232.1,322.1 232.3,317.3 232.4,320.6 232.5,319.8 232.7,321.6 232.8,319.3 232.9,317.8 233.1,319.4 233.2,318.4 233.4,319.6 233.5,317.4 233.6,321.4 233.8,317.0 233.9,318.1 234.1,316.0 234.2,317.7 234.3,317.6 234.5,317.5 234.6,319.0 234.8,316.1 234.9,315.6 235.0,319.1 235.2,316.6 235.3,315.9 235.4,319.5 235.6,318.9 235.7,312.4 235.9,316.4 236.0,318.3 236.1,318.4 236.3,315.4 236.4,319.0 236.6,314.6 236.7,315.4 236.8,316.2 237.0,315.9 237.1,317.3 237.2,317.5 237.4,315.6 237.5,318.3 237.7,314.4 237.8,314.8 237.9,319.1 238.1,316.1 238.2,317.7 238.4,315.2 238.5,315.6 238.6,316.0 238.8,316.5 238.9,315.3 239.0,316.1 239.2,317.4 239.3,318.4 239.5,316.1 239.6,316.9 239.7,317.4 239.9,313.6 240.0,312.3 240.2,318.7 240.3,317.9 240.4,315.3 240.6,315.7 240.7,313.1 240.8,312.5 241.0,315.9 241.1,312.3 241.3,316.8 241.4,313.6 241.5,315.4 241.7,318.5 241.8,318.3 242.0,314.5 242.1,317.1 242.2,312.5 242.4,313.4 242.5,315.1 242.6,317.2 242.8,313.4 242.9,315.3 243.1,314.7 243.2,311.5 243.3,313.3 243.5,316.3 243.6,313.4 243.8,314.4 243.9,314.8 244.0,311.5 244.2,315.2 244.3,315.9 244.4,316.2 244.6,315.6 244.7,312.0 244.9,311.2 245.0,311.0 245.1,310.4 245.3,310.7 245.4,314.4 245.6,315.6 245.7,311.3 245.8,314.3 246.0,310.2 246.1,311.9 246.2,310.8 246.4,309.6 246.5,312.5 246.7,312.6 246.8,311.4 246.9,311.2 247.1,310.2 247.2,312.0 247.4,311.4 247.5,313.2 247.6,310.1 247.8,312.7 247.9,313.1 248.0,314.4 248.2,314.3 248.3,312.4 248.5,310.5 248.6,307.9 248.7,311.4 248.9,314.2 249.0,314.7 249.2,306.3 249.3,309.8 249.4,310.2 249.6,308.4 249.7,310.9 249.8,310.6 250.0,309.8 250.1,310.6 250.3,307.0 250.4,308.1 250.5,308.1 250.7,312.0 250.8,306.9 251.0,310.0 251.1,312.1 251.2,310.3 251.4,311.6 251.5,308.4 251.6,310.9 251.8,311.8 251.9,314.6 252.1,311.2 252.2,312.7 252.3,310.2 252.5,310.3 252.6,313.2 252.8,311.3 252.9,312.8 253.0,311.0 253.2,313.6 253.3,314.1 253.4,307.9 253.6,313.3 253.7,310.2 253.9,310.4 254.0,309.3 254.1,311.0 254.3,307.3 254.4,308.0 254.6,308.0 254.7,310.3 254.8,311.5 255.0,311.3 255.1,310.8 255.2,308.9 255.4,306.7 255.5,311.3 255.7,310.8 255.8,311.1 255.9,313.3 256.1,309.9 256.2,309.7 256.4,305.7 256.5,311.3 256.6,310.2 256.8,308.6 256.9,310.5 257.0,307.5 257.2,308.4 257.3,313.1 257.5,310.5 257.6,310.6 257.7,310.4 257.9,310.1 258.0,309.2 258.2,313.0 258.3,308.2 258.4,309.4 258.6,307.4 258.7,306.8 258.8,302.4 259.0,303.8 259.1,310.7 259.3,310.5 259.4,306.4 259.5,307.4 259.7,308.7 259.8,305.4 260.0,311.1 260.1,305.2 260.2,305.7 260.4,301.5 260.5,310.4 260.6,307.2 260.8,310.6 260.9,305.3 261.1,308.1 261.2,307.7 261.3,307.8 261.5,311.6 261.6,311.8 261.8,310.0 261.9,306.4 262.0,309.1 262.2,310.2 262.3,308.8 262.5,308.9 262.6,308.5 262.7,305.8 262.9,308.1 263.0,310.9 263.1,305.3 263.3,307.4 263.4,309.1 263.6,304.9 263.7,307.2 263.8,304.1 264.0,306.3 264.1,304.4 264.3,305.2 264.4,305.9 264.5,306.5 264.7,306.9 264.8,302.4 264.9,310.5 265.1,306.8 265.2,305.6 265.4,306.7 265.5,308.3 265.6,305.5 265.8,306.9 265.9,306.6 266.1,308.7 266.2,306.4 266.3,308.9 266.5,308.9 266.6,307.8 266.7,310.2 266.9,307.5 267.0,304.8 267.2,307.9 267.3,307.3 267.4,306.6 267.6,307.4 267.7,311.7 267.9,307.3 268.0,307.9 268.1,306.4 268.3,309.5 268.4,306.5 268.5,304.8 268.7,303.9 268.8,307.7 269.0,308.4 269.1,303.6 269.2,305.3 269.4,308.0 269.5,309.0 269.7,304.4 269.8,306.2 269.9,308.8 270.1,305.9 270.2,305.9 270.3,305.4 270.5,304.0 270.6,306.9 270.8,307.4 270.9,304.0 271.0,306.9 271.2,309.5 271.3,307.6 271.5,309.4 271.6,306.2 271.7,309.9 271.9,305.6 272.0,311.0 272.1,306.0 272.3,305.4 272.4,305.3 272.6,306.0 272.7,305.5 272.8,305.0 273.0,305.9 273.1,308.0 273.3,308.4 273.4,305.6 273.5,308.3 273.7,303.8 273.8,303.9 273.9,303.8 274.1,307.4 274.2,303.1 274.4,303.6 274.5,309.0 274.6,310.0 274.8,309.9 274.9,304.0 275.1,306.8 275.2,308.9 275.3,307.0 275.5,303.3 275.6,306.1 275.7,303.3 275.9,304.4 276.0,311.1 276.2,307.8 276.3,303.7 276.4,303.4 276.6,307.5 276.7,305.3 276.9,307.3 277.0,305.0 277.1,305.9 277.3,306.6 277.4,304.0 277.5,302.5 277.7,303.9 277.8,305.1 278.0,305.9 278.1,306.2 278.2,306.5 278.4,307.7 278.5,304.9 278.7,309.9 278.8,311.3 278.9,308.2 279.1,308.0 279.2,310.1 279.3,308.8 279.5,308.5 279.6,307.6 279.8,306.6 279.9,305.6 280.0,309.5 280.2,310.6 280.3,306.2 280.5,307.7 280.6,308.5 280.7,307.1 280.9,306.2 281.0,307.0 281.1,303.6 281.3,307.6 281.4,307.3 281.6,312.1 281.7,309.9 281.8,307.7 282.0,308.5 282.1,312.2 282.3,312.2 282.4,309.2 282.5,308.6 282.7,305.8 282.8,307.9 282.9,308.5 283.1,307.1 283.2,312.3 283.4,304.9 283.5,308.2 283.6,309.2 283.8,309.3 283.9,311.7 284.1,305.4 284.2,306.5 284.3,308.1 284.5,308.1 284.6,307.3 284.7,306.5 284.9,310.6 285.0,306.4 285.2,307.4 285.3,311.8 285.4,312.2 285.6,310.5 285.7,307.1 285.9,306.8 286.0,306.5 286.1,305.9 286.3,307.2 286.4,310.5 286.5,308.5 286.7,306.5 286.8,306.6 287.0,305.5 287.1,309.7 287.2,303.3 287.4,307.6 287.5,304.5 287.7,305.2 287.8,304.5 287.9,309.3 288.1,307.2 288.2,313.4 288.3,306.1 288.5,306.2 288.6,309.7 288.8,309.9 288.9,307.9 289.0,304.5 289.2,312.1 289.3,310.5 289.5,310.3 289.6,308.3 289.7,311.1 289.9,308.2 290.0,309.9 290.2,309.7 290.3,312.1 290.4,308.4 290.6,308.5 290.7,311.1 290.8,309.0 291.0,308.4 291.1,308.0 291.3,310.3 291.4,306.7 291.5,308.8 291.7,312.0 291.8,308.5 292.0,306.6 292.1,305.5 292.2,307.9 292.4,305.4 292.5,304.6 292.6,306.3 292.8,306.0 292.9,310.4 293.1,306.0 293.2,312.0 293.3,307.1 293.5,309.1 293.6,310.3 293.8,309.1 293.9,310.1 294.0,306.2 294.2,303.9 294.3,308.2 294.4,305.0 294.6,307.6 294.7,310.7 294.9,308.3 295.0,307.0 295.1,306.0 295.3,307.7 295.4,307.9 295.6,304.8 295.7,308.9 295.8,306.2 296.0,309.0 296.1,307.7 296.2,310.3 296.4,310.2 296.5,308.6 296.7,308.4 296.8,309.6 296.9,311.8 297.1,311.4 297.2,309.6 297.4,309.8 297.5,312.6 297.6,306.7 297.8,310.7 297.9,308.3 298.0,312.8 298.2,309.2 298.3,310.0 298.5,308.0 298.6,310.5 298.7,311.9 298.9,313.6 299.0,307.6 299.2,309.3 299.3,317.9 299.4,312.1 299.6,310.2 299.7,311.0 299.8,305.0 300.0,313.2 300.1,310.1 300.3,306.7 300.4,311.8 300.5,307.8 300.7,306.8 300.8,309.7 301.0,309.6 301.1,307.8 301.2,308.6 301.4,306.1 301.5,305.8 301.6,310.1 301.8,310.8 301.9,308.8 302.1,308.5 302.2,307.2 302.3,308.0 302.5,306.5 302.6,311.9 302.8,307.5 302.9,309.3 303.0,308.1 303.2,305.0 303.3,311.1 303.4,306.2 303.6,305.1 303.7,307.2 303.9,305.0 304.0,306.3 304.1,304.4 304.3,306.9 304.4,305.4 304.6,302.2 304.7,306.4 304.8,304.0 305.0,301.1 305.1,303.4 305.2,302.9 305.4,305.2 305.5,299.1 305.7,301.8 305.8,298.4 305.9,298.7 306.1,296.1 306.2,294.7 306.4,294.1 306.5,289.0 306.6,285.2 306.8,287.3 306.9,284.4 307.0,282.8 307.2,281.3 307.3,276.9 307.5,276.9 307.6,271.9 307.7,269.6 307.9,269.2 308.0,266.5 308.2,263.6 308.3,263.1 308.4,261.0 308.6,261.2 308.7,263.2 308.8,265.8 309.0,264.4 309.1,268.8 309.3,273.0 309.4,275.6 309.5,273.6 309.7,277.5 309.8,278.9 310.0,281.1 310.1,283.8 310.2,285.2 310.4,288.1 310.5,288.6 310.6,290.2 310.8,293.2 310.9,295.5 311.1,298.6 311.2,298.3 311.3,300.2 311.5,302.9 311.6,299.2 311.8,301.7 311.9,304.0 312.0,303.8 312.2,302.2 312.3,306.9 312.4,305.1 312.6,304.4 312.7,310.3 312.9,304.5 313.0,307.4 313.1,306.4 313.3,308.4 313.4,309.7 313.6,307.2 313.7,308.9 313.8,309.2 314.0,308.0 314.1,312.7 314.2,311.1 314.4,310.8 314.5,310.5 314.7,311.2 314.8,312.4 314.9,311.5 315.1,314.8 315.2,308.0 315.4,309.1 315.5,312.9 315.6,310.1 315.8,313.8 315.9,312.8 316.0,315.1 316.2,314.7 316.3,316.6 316.5,315.9 316.6,316.8 316.7,315.7 316.9,316.8 317.0,315.6 317.2,313.7 317.3,312.6 317.4,312.3 317.6,315.7 317.7,310.2 317.9,315.1 318.0,313.2 318.1,316.5 318.3,315.4 318.4,313.6 318.5,314.8 318.7,310.2 318.8,314.9 319.0,315.5 319.1,311.1 319.2,316.4 319.4,314.3 319.5,315.0 319.7,312.0 319.8,315.8 319.9,315.8 320.1,314.8 320.2,312.7 320.3,316.4 320.5,317.4 320.6,316.1 320.8,317.4 320.9,314.4 321.0,315.9 321.2,316.6 321.3,316.1 321.5,321.3 321.6,317.1 321.7,315.4 321.9,318.2 322.0,314.4 322.1,317.3 322.3,318.0 322.4,315.7 322.6,316.1 322.7,314.5 322.8,316.4 323.0,315.0 323.1,319.6 323.3,317.5 323.4,315.7 323.5,313.4 323.7,319.7 323.8,318.4 323.9,316.7 324.1,316.2 324.2,316.2 324.4,315.4 324.5,319.9 324.6,316.5 324.8,313.3 324.9,315.0 325.1,311.4 325.2,317.5 325.3,317.5 325.5,319.6 325.6,320.7 325.7,315.0 325.9,317.2 326.0,318.4 326.2,318.0 326.3,315.4 326.4,317.9 326.6,317.3 326.7,319.0 326.9,316.7 327.0,316.2 327.1,315.8 327.3,316.0 327.4,315.4 327.5,316.2 327.7,317.5 327.8,317.9 328.0,319.7 328.1,319.3 328.2,318.6 328.4,315.2 328.5,318.6 328.7,319.7 328.8,315.3 328.9,315.5 329.1,316.0 329.2,315.7 329.3,317.1 329.5,315.7 329.6,318.4 329.8,315.5 329.9,317.5 330.0,316.6 330.2,316.0 330.3,319.9 330.5,318.0 330.6,319.0 330.7,317.4 330.9,319.5 331.0,319.6 331.1,318.1 331.3,315.1 331.4,320.2 331.6,320.4 331.7,319.7 331.8,319.9 332.0,319.9 332.1,320.4 332.3,318.0 332.4,320.1 332.5,321.0 332.7,319.4 332.8,318.9 332.9,324.0 333.1,321.6 333.2,320.0 333.4,319.6 333.5,315.7 333.6,318.2 333.8,320.2 333.9,322.9 334.1,316.6 334.2,319.3 334.3,324.2 334.5,321.9 334.6,321.5 334.7,323.1 334.9,320.7 335.0,320.9 335.2,322.8 335.3,323.1 335.4,319.7 335.6,324.5 335.7,318.2 335.9,320.2 336.0,327.4 336.1,320.7 336.3,322.8 336.4,319.7 336.5,321.0 336.7,320.1 336.8,320.5 337.0,322.5 337.1,324.5 337.2,322.7 337.4,324.0 337.5,320.2 337.7,324.1 337.8,322.4 337.9,324.2 338.1,321.0 338.2,321.6 338.3,324.6 338.5,323.5 338.6,322.4 338.8,321.1 338.9,322.0 339.0,323.3 339.2,323.6 339.3,321.6 339.5,322.2 339.6,323.9 339.7,321.0 339.9,325.0 340.0,323.1 340.1,322.9 340.3,318.6 340.4,320.2 340.6,321.2 340.7,322.2 340.8,321.3 341.0,324.1 341.1,323.7 341.3,323.1 341.4,319.9 341.5,326.1 341.7,322.9 341.8,324.5 341.9,322.2 342.1,323.4 342.2,324.9 342.4,324.1 342.5,325.3 342.6,323.2 342.8,327.3 342.9,320.5 343.1,323.1 343.2,325.9 343.3,324.0 343.5,323.9 343.6,321.9 343.7,327.4 343.9,322.4 344.0,326.7 344.2,326.6 344.3,327.7 344.4,328.9 344.6,325.0 344.7,324.9 344.9,326.1 345.0,323.5 345.1,328.4 345.3,326.5 345.4,327.5 345.6,324.9 345.7,326.8 345.8,325.8 346.0,326.5 346.1,324.9 346.2,328.7 346.4,325.9 346.5,322.7 346.7,328.7 346.8,327.0 346.9,326.0 347.1,332.1 347.2,327.7 347.4,325.3 347.5,326.8 347.6,328.9 347.8,328.0 347.9,330.9 348.0,330.5 348.2,326.9 348.3,328.2 348.5,329.5 348.6,327.6 348.7,327.2 348.9,329.6 349.0,328.7 349.2,325.6 349.3,327.1 349.4,327.6 349.6,327.8 349.7,326.7 349.8,330.3 350.0,326.1 350.1,325.7 350.3,328.1 350.4,324.1 350.5,326.1 350.7,329.2 350.8,325.9 351.0,326.9 351.1,330.4 351.2,328.8 351.4,328.2 351.5,328.3 351.6,326.7 351.8,328.7 351.9,328.0 352.1,332.8 352.2,330.0 352.3,328.5 352.5,328.8 352.6,329.0 352.8,326.3 352.9,327.7 353.0,331.9 353.2,327.1 353.3,329.1 353.4,332.0 353.6,332.9 353.7,328.6 353.9,332.7 354.0,329.4 354.1,333.1 354.3,331.0 354.4,329.8 354.6,331.8 354.7,331.8 354.8,329.7 355.0,334.8 355.1,330.3 355.2,333.0 355.4,330.1 355.5,327.9 355.7,329.3 355.8,331.1 355.9,332.5 356.1,334.3 356.2,331.4 356.4,330.9 356.5,329.3 356.6,331.1 356.8,331.7 356.9,327.1 357.0,333.2 357.2,333.2 357.3,335.2 357.5,329.7 357.6,331.4 357.7,331.3 357.9,328.9 358.0,329.6 358.2,329.8 358.3,332.4 358.4,332.1 358.6,333.8 358.7,330.9 358.8,329.2 359.0,332.7 359.1,332.7 359.3,333.6 359.4,334.3 359.5,331.3 359.7,333.4 359.8,330.5 360.0,332.7 360.1,334.1 360.2,332.4 360.4,333.0 360.5,330.5 360.6,331.5 360.8,332.8 360.9,330.5 361.1,330.8 361.2,336.5 361.3,332.4 361.5,330.9 361.6,330.5 361.8,334.9 361.9,327.7 362.0,331.8 362.2,333.3 362.3,331.1 362.4,333.1 362.6,330.3 362.7,332.4 362.9,332.6 363.0,332.4 363.1,332.9 363.3,332.6 363.4,334.5 363.6,331.8 363.7,331.3 363.8,331.6 364.0,331.4 364.1,329.4 364.2,328.9 364.4,330.2 364.5,333.1 364.7,331.6 364.8,332.3 364.9,338.0 365.1,335.2 365.2,333.0 365.4,332.4 365.5,336.1 365.6,332.4 365.8,336.0 365.9,335.2 366.0,336.7 366.2,332.9 366.3,335.7 366.5,330.8 366.6,333.5 366.7,335.4 366.9,334.8 367.0,330.3 367.2,334.7 367.3,334.6 367.4,333.5 367.6,332.3 367.7,333.4 367.8,332.8 368.0,335.0 368.1,334.3 368.3,335.5 368.4,334.9 368.5,331.9 368.7,334.1 368.8,337.8 369.0,332.2 369.1,334.7 369.2,333.0 369.4,332.7 369.5,334.8 369.6,335.7 369.8,335.6 369.9,335.1 370.1,336.3 370.2,332.0 370.3,336.3 370.5,335.5 370.6,334.5 370.8,335.1 370.9,333.4 371.0,336.7 371.2,333.6 371.3,332.3 371.4,334.7 371.6,333.7 371.7,335.0 371.9,337.6 372.0,335.1 372.1,335.5 372.3,339.2 372.4,332.8 372.6,336.0 372.7,337.4 372.8,338.1 373.0,339.3 373.1,334.8 373.3,336.9 373.4,335.9 373.5,335.4 373.7,335.1 373.8,333.6 373.9,336.8 374.1,337.3 374.2,334.3 374.4,337.4 374.5,335.1 374.6,334.3 374.8,331.9 374.9,338.1 375.1,337.5 375.2,335.7 375.3,335.5 375.5,333.9 375.6,337.0 375.7,336.0 375.9,337.2 376.0,336.5 376.2,333.9 376.3,333.4 376.4,336.7 376.6,333.5 376.7,337.0 376.9,338.1 377.0,334.5 377.1,338.2 377.3,337.4 377.4,338.4 377.5,336.5 377.7,337.6 377.8,338.3 378.0,340.6 378.1,338.9 378.2,338.7 378.4,336.1 378.5,338.9 378.7,337.1 378.8,338.0 378.9,338.3 379.1,339.6 379.2,338.7 379.3,338.0 379.5,337.4 379.6,339.4 379.8,335.4 379.9,337.2 380.0,339.4 380.2,336.8 380.3,338.1 380.5,338.1 380.6,339.9 380.7,338.6 380.9,333.9 381.0,336.8 381.1,337.3 381.3,338.4 381.4,337.6 381.6,340.2 381.7,339.4 381.8,336.0 382.0,337.0 382.1,334.8 382.3,341.1 382.4,338.3 382.5,338.1 382.7,336.0 382.8,338.2 382.9,339.8 383.1,338.1 383.2,338.4 383.4,338.0 383.5,342.5 383.6,338.3 383.8,336.7 383.9,338.3 384.1,338.4 384.2,339.0 384.3,338.8 384.5,337.6 384.6,339.3 384.7,340.1 384.9,336.7 385.0,342.5 385.2,342.1 385.3,336.1 385.4,338.5 385.6,341.0 385.7,341.5 385.9,342.5 386.0,336.5 386.1,337.7 386.3,338.6 386.4,340.4 386.5,337.7 386.7,340.1 386.8,340.1 387.0,340.9 387.1,337.4 387.2,339.9 387.4,339.8 387.5,339.1 387.7,341.6 387.8,338.9 387.9,341.7 388.1,338.2 388.2,342.1 388.3,341.8 388.5,337.7 388.6,339.6 388.8,339.7 388.9,337.5 389.0,340.6 389.2,340.5 389.3,338.5 389.5,340.1 389.6,341.5 389.7,340.1 389.9,339.4 390.0,343.3 390.1,339.1 390.3,341.4 390.4,342.8 390.6,342.3 390.7,338.0 390.8,340.6 391.0,340.9 391.1,340.7 391.3,342.0 391.4,341.8 391.5,341.2 391.7,341.5 391.8,342.4 391.9,342.4 392.1,337.6 392.2,344.1 392.4,339.3 392.5,341.7 392.6,337.7 392.8,339.6 392.9,338.5 393.1,342.5 393.2,342.5 393.3,341.0 393.5,340.7 393.6,341.2 393.7,339.1 393.9,339.9 394.0,340.0 394.2,342.5 394.3,341.3 394.4,339.5 394.6,342.0 394.7,342.2 394.9,343.4 395.0,340.2 395.1,342.1 395.3,344.7 395.4,340.9 395.5,341.0 395.7,342.6 395.8,341.0 396.0,342.0 396.1,341.0 396.2,340.4 396.4,343.3 396.5,341.1 396.7,340.2 396.8,341.6 396.9,341.8 397.1,342.7 397.2,343.3 397.3,344.6 397.5,339.9 397.6,341.6 397.8,339.0 397.9,342.2 398.0,342.6 398.2,340.7 398.3,340.5 398.5,340.1 398.6,339.4 398.7,342.8 398.9,345.1 399.0,340.5 399.1,345.2 399.3,342.5 399.4,340.4 399.6,343.3 399.7,343.4 399.8,342.8 400.0,342.0 400.1,345.1 400.3,342.1 400.4,343.5 400.5,343.7 400.7,341.0 400.8,339.5 401.0,339.4 401.1,341.4 401.2,342.5 401.4,339.1 401.5,340.9 401.6,344.7 401.8,339.6 401.9,343.2 402.1,343.1 402.2,343.6 402.3,340.1 402.5,343.1 402.6,340.3 402.8,344.9 402.9,341.2 403.0,343.7 403.2,341.7 403.3,343.0 403.4,340.3 403.6,343.3 403.7,343.5 403.9,342.7 404.0,345.3 404.1,343.3 404.3,344.1 404.4,343.6 404.6,346.0 404.7,342.2 404.8,343.1 405.0,343.0 405.1,344.2 405.2,343.9 405.4,344.8 405.5,344.3 405.7,343.0 405.8,343.9 405.9,344.4 406.1,340.1 406.2,345.9 406.4,342.7 406.5,343.2 406.6,344.3 406.8,343.4 406.9,341.5 407.0,344.1 407.2,346.9 407.3,346.3 407.5,346.7 407.6,343.9 407.7,344.1 407.9,346.2 408.0,346.9 408.2,344.7 408.3,343.6 408.4,342.2 408.6,347.4 408.7,342.5 408.8,345.3 409.0,346.1 409.1,350.0 409.3,345.0 409.4,344.7 409.5,345.7 409.7,345.6 409.8,347.3 410.0,346.3 410.1,343.9 410.2,341.9 410.4,345.5 410.5,343.8 410.6,347.3 410.8,343.0 410.9,345.7 411.1,344.1 411.2,343.4 411.3,347.2 411.5,344.8 411.6,344.3 411.8,345.9 411.9,343.4 412.0,344.1 412.2,343.8 412.3,347.9 412.4,345.4 412.6,346.1 412.7,347.0 412.9,344.9 413.0,345.4 413.1,343.0 413.3,346.6 413.4,346.3 413.6,345.2 413.7,347.8 413.8,342.9 414.0,346.5 414.1,343.6 414.2,343.9 414.4,345.5 414.5,347.9 414.7,344.0 414.8,344.3 414.9,344.1 415.1,348.9 415.2,346.9 415.4,346.7 415.5,349.7 415.6,346.7 415.8,343.0 415.9,345.8 416.0,344.8 416.2,350.3 416.3,345.2 416.5,348.0 416.6,346.8 416.7,346.8 416.9,347.5 417.0,347.2 417.2,346.7 417.3,345.5 417.4,346.3 417.6,345.7 417.7,345.8 417.8,347.7 418.0,347.1 418.1,348.2 418.3,347.1 418.4,350.5 418.5,346.3 418.7,345.7 418.8,349.0 419.0,346.2 419.1,347.6 419.2,348.5 419.4,346.9 419.5,346.5 419.6,348.7 419.8,347.9 419.9,346.5 420.1,345.5 420.2,346.9 420.3,344.7 420.5,346.1 420.6,345.8 420.8,348.4 420.9,349.1 421.0,346.8 421.2,347.2 421.3,346.3 421.4,345.8 421.6,347.3 421.7,349.0 421.9,348.8 422.0,348.8 422.1,347.3 422.3,343.2 422.4,348.9 422.6,349.6 422.7,348.9 422.8,348.8 423.0,349.2 423.1,352.0 423.2,348.3 423.4,350.4 423.5,349.2 423.7,349.1 423.8,347.7 423.9,347.4 424.1,346.2 424.2,349.0 424.4,347.6 424.5,346.3 424.6,347.0 424.8,346.2 424.9,350.7 425.0,347.7 425.2,348.2 425.3,346.0 425.5,346.4 425.6,349.8 425.7,347.9 425.9,348.7 426.0,351.2 426.2,351.8 426.3,349.6 426.4,349.5 426.6,349.2 426.7,348.2 426.8,351.9 427.0,346.7 427.1,348.7 427.3,345.9 427.4,346.9 427.5,349.5 427.7,349.8 427.8,349.8 428.0,348.5 428.1,347.8 428.2,347.9 428.4,348.4 428.5,350.8 428.7,351.2 428.8,349.8 428.9,348.5 429.1,347.9 429.2,349.9 429.3,349.2 429.5,346.8 429.6,351.6 429.8,349.1 429.9,348.6 430.0,348.0 430.2,348.1 430.3,351.1 430.5,348.1 430.6,349.7 430.7,350.7 430.9,352.3 431.0,350.2 431.1,349.3 431.3,348.7 431.4,350.7 431.6,350.9 431.7,348.9 431.8,350.7 432.0,349.8 432.1,347.6 432.3,348.6 432.4,351.3 432.5,352.2 432.7,351.1 432.8,349.5 432.9,349.0 433.1,351.3 433.2,351.2 433.4,348.1 433.5,351.5 433.6,349.5 433.8,351.7 433.9,351.4 434.1,351.5 434.2,351.9 434.3,351.4 434.5,348.6 434.6,349.0 434.7,352.3 434.9,351.6 435.0,348.4 435.2,347.7 435.3,352.0 435.4,354.2 435.6,352.0 435.7,350.5 435.9,351.1 436.0,346.7 436.1,349.6 436.3,352.5 436.4,352.4 436.5,347.9 436.7,353.0 436.8,351.9 437.0,352.6 437.1,350.7 437.2,350.9 437.4,349.0 437.5,351.0 437.7,352.0 437.8,349.0 437.9,351.2 438.1,349.9 438.2,352.3 438.3,352.4 438.5,347.3 438.6,351.7 438.8,352.5 438.9,350.2 439.0,350.6 439.2,350.8 439.3,349.5 439.5,351.2 439.6,353.9 439.7,352.1 439.9,353.7 440.0,352.8 440.1,353.0 440.3,351.2 440.4,352.4 440.6,354.1 440.7,353.2 440.8,351.4 441.0,349.8 441.1,349.7 441.3,351.2 441.4,351.6 441.5,348.3 441.7,351.5 441.8,351.5 441.9,351.7 442.1,350.4 442.2,355.0 442.4,352.9 442.5,349.3 442.6,350.3 442.8,352.7 442.9,352.3 443.1,351.8 443.2,351.3 443.3,351.1 443.5,350.6 443.6,349.6 443.7,352.0 443.9,346.9 444.0,350.0 444.2,353.1 444.3,349.8 444.4,349.1 444.6,354.0 444.7,352.8 444.9,351.1 445.0,350.1 445.1,350.5 445.3,350.3 445.4,350.8 445.5,350.0 445.7,352.1 445.8,350.2 446.0,348.5 446.1,349.4 446.2,351.2 446.4,349.8 446.5,347.5 446.7,353.6 446.8,351.8 446.9,350.4 447.1,350.6 447.2,352.4 447.3,353.8 447.5,350.5 447.6,352.2 447.8,350.5 447.9,352.3 448.0,350.0 448.2,348.7 448.3,352.0 448.5,351.6 448.6,352.8 448.7,350.7 448.9,353.7 449.0,351.8 449.1,353.8 449.3,350.7 449.4,353.4 449.6,351.3 449.7,351.7 449.8,352.9 450.0,348.7 450.1,349.9 450.3,354.7 450.4,349.6 450.5,351.2 450.7,352.9 450.8,354.3 450.9,351.5 451.1,352.5 451.2,350.9 451.4,352.2 451.5,354.7 451.6,353.4 451.8,352.8 451.9,353.5 452.1,352.8 452.2,352.7 452.3,351.9 452.5,350.8 452.6,353.4 452.7,350.5 452.9,354.1 453.0,356.0 453.2,354.9 453.3,356.2 453.4,351.0 453.6,352.6 453.7,351.1 453.9,351.2 454.0,349.7 454.1,350.9 454.3,354.1 454.4,353.9 454.5,355.0 454.7,354.9 454.8,354.6 455.0,352.2 455.1,353.2 455.2,354.6 455.4,355.4 455.5,352.9 455.7,352.9 455.8,353.1 455.9,356.2 456.1,354.8 456.2,353.3 456.4,352.4 456.5,354.1 456.6,350.6 456.8,352.9 456.9,352.5 457.0,352.2 457.2,353.4 457.3,353.6 457.5,357.7 457.6,353.6 457.7,354.4 457.9,352.2 458.0,350.9 458.2,355.1 458.3,356.5 458.4,352.4 458.6,353.8 458.7,355.8 458.8,354.2 459.0,350.5 459.1,355.7 459.3,353.8 459.4,355.0 459.5,352.3 459.7,354.9 459.8,355.2 460.0,352.8 460.1,354.7 460.2,353.2 460.4,353.3 460.5,352.5 460.6,353.2 460.8,353.0 460.9,355.7 461.1,353.8 461.2,352.6 461.3,356.3 461.5,355.6 461.6,356.3 461.8,354.9 461.9,356.3 462.0,354.9 462.2,353.5 462.3,355.2 462.4,355.3 462.6,355.6 462.7,356.9 462.9,353.0 463.0,356.2 463.1,354.7 463.3,355.4 463.4,356.5 463.6,355.8 463.7,355.0 463.8,356.9 464.0,355.8 464.1,357.3 464.2,357.7 464.4,355.2 464.5,354.3 464.7,356.0 464.8,357.1 464.9,356.4 465.1,354.1 465.2,353.2 465.4,354.3 465.5,354.4 465.6,356.5 465.8,355.5 465.9,356.7 466.0,354.9 466.2,357.5 466.3,355.2 466.5,355.9 466.6,354.4 466.7,355.6 466.9,356.1 467.0,355.5 467.2,356.2 467.3,353.2 467.4,354.9 467.6,356.4 467.7,354.2 467.8,353.4 468.0,353.3 468.1,352.9 468.3,353.6 468.4,355.3 468.5,354.1 468.7,353.0 468.8,351.7 469.0,351.4 469.1,356.8 469.2,352.5 469.4,353.6 469.5,352.3 469.6,353.7 469.8,352.8 469.9,353.8 470.1,356.1 470.2,353.0 470.3,355.1 470.5,354.4 470.6,355.6 470.8,353.8 470.9,355.5 471.0,353.5 471.2,352.4 471.3,353.4 471.4,354.0 471.6,354.2 471.7,355.4 471.9,357.8 472.0,354.6 472.1,356.9 472.3,356.7 472.4,355.8 472.6,355.8 472.7,357.9 472.8,358.3 473.0,357.2 473.1,357.6 473.2,357.8 473.4,355.7 473.5,358.0 473.7,358.2 473.8,360.1 473.9,356.0 474.1,356.6 474.2,357.9 474.4,356.8 474.5,357.0 474.6,357.2 474.8,356.8 474.9,356.7 475.0,357.5 475.2,354.4 475.3,357.5 475.5,353.9 475.6,359.4 475.7,358.1 475.9,356.1 476.0,358.1 476.2,356.3 476.3,357.4 476.4,357.6 476.6,356.7 476.7,356.1 476.8,356.8 477.0,355.6 477.1,355.2 477.3,354.4 477.4,353.0 477.5,357.6 477.7,356.1 477.8,353.3 478.0,355.8 478.1,355.4 478.2,352.0 478.4,353.7 478.5,354.6 478.6,357.4 478.8,356.4 478.9,356.5 479.1,355.3 479.2,356.2 479.3,353.1 479.5,355.6 479.6,355.5 479.8,352.7 479.9,354.6 480.0,356.2 480.2,356.7 480.3,355.6 480.4,352.4 480.6,353.1 480.7,351.9 480.9,354.0 481.0,350.6 481.1,349.7 481.3,348.4 481.4,350.4 481.6,350.3 481.7,348.5 481.8,347.9 482.0,348.6 482.1,350.6 482.2,346.8 482.4,349.0 482.5,349.6 482.7,350.3 482.8,352.1 482.9,351.9 483.1,351.8 483.2,353.8 483.4,353.8 483.5,353.2 483.6,353.6 483.8,351.9 483.9,354.3 484.1,353.4 484.2,353.2 484.3,354.8 484.5,352.9 484.6,354.1 484.7,354.9 484.9,356.4 485.0,355.8 485.2,356.9 485.3,358.7 485.4,357.7 485.6,355.3 485.7,354.3 485.9,355.9 486.0,355.9 486.1,354.2 486.3,354.7 486.4,354.9 486.5,356.4 486.7,359.6 486.8,360.0 487.0,356.1 487.1,356.8 487.2,355.5 487.4,355.3 487.5,357.6 487.7,357.5 487.8,356.5 487.9,358.1 488.1,356.9 488.2,359.3 488.3,357.2 488.5,359.1 488.6,357.8 488.8,358.1 488.9,359.0 489.0,356.2 489.2,357.1 489.3,358.0 489.5,357.8 489.6,358.4 489.7,356.7 489.9,356.2 490.0,357.8 490.1,358.3 490.3,356.6 490.4,359.3 490.6,358.6 490.7,358.7 490.8,358.7 491.0,356.3 491.1,360.5 491.3,356.7 491.4,358.4 491.5,359.1 491.7,358.8 491.8,358.6 491.9,357.3 492.1,358.3 492.2,358.9 492.4,360.7 492.5,358.0 492.6,359.9 492.8,359.7 492.9,359.1 493.1,358.1 493.2,358.6 493.3,356.3 493.5,358.7 493.6,358.9 493.7,357.7 493.9,359.3 494.0,358.9 494.2,357.4 494.3,359.7 494.4,357.7 494.6,361.7 494.7,357.0 494.9,357.3 495.0,357.8 495.1,359.3 495.3,360.7 495.4,359.3 495.5,358.7 495.7,362.0 495.8,360.7 496.0,358.8 496.1,359.0 496.2,357.0 496.4,359.4 496.5,362.0 496.7,358.2 496.8,357.9 496.9,360.1 497.1,356.4 497.2,361.6 497.3,357.5 497.5,358.6 497.6,359.4 497.8,361.4 497.9,360.4 498.0,357.4 498.2,357.9 498.3,360.4 498.5,357.1 498.6,359.4 498.7,358.7 498.9,360.7 499.0,361.3 499.1,356.3 499.3,360.2 499.4,360.4 499.6,358.4 499.7,358.4 499.8,357.4 500.0,358.4 500.1,359.5 500.3,360.7 500.4,361.1 500.5,358.6 500.7,358.2 500.8,360.9 500.9,356.0 501.1,358.1 501.2,361.0 501.4,363.5 501.5,359.4 501.6,360.7 501.8,359.2 501.9,360.6 502.1,360.7 502.2,360.0 502.3,361.5 502.5,360.8 502.6,362.0 502.7,361.0 502.9,359.6 503.0,361.3 503.2,362.0 503.3,359.9 503.4,362.5 503.6,361.5 503.7,360.3 503.9,360.7 504.0,360.2 504.1,359.7 504.3,362.2 504.4,362.4 504.5,360.4 504.7,360.7 504.8,360.4 505.0,361.7 505.1,362.7 505.2,360.1 505.4,361.3 505.5,361.1 505.7,361.9 505.8,363.3 505.9,360.3 506.1,358.8 506.2,361.2 506.3,359.3 506.5,363.6 506.6,360.4 506.8,360.8 506.9,361.5 507.0,361.4 507.2,360.9 507.3,361.3 507.5,362.9 507.6,361.2 507.7,364.0 507.9,361.9 508.0,358.2 508.1,362.5 508.3,359.2 508.4,362.1 508.6,364.8 508.7,363.5 508.8,360.4 509.0,360.9 509.1,361.9 509.3,363.9 509.4,361.0 509.5,363.5 509.7,362.4 509.8,361.9 509.9,361.9 510.1,364.7 510.2,360.3 510.4,360.7 510.5,363.6 510.6,363.7 510.8,360.5 510.9,361.2 511.1,361.0 511.2,363.4 511.3,361.7 511.5,364.5"/>
</g>
<g stroke="#000" stroke-width="2.2" fill="none">
<rect x="27.00" y="6.40" width="484.50" height="395.60" stroke-linejoin="round"/>
<line x1="27.00" y1="402.00" x2="27.00" y2="409.50"/><line x1="61.61" y1="402.00" x2="61.61" y2="406.50"/><line x1="96.21" y1="402.00" x2="96.21" y2="409.50"/><line x1="130.82" y1="402.00" x2="130.82" y2="406.50"/><line x1="165.43" y1="402.00" x2="165.43" y2="409.50"/><line x1="200.04" y1="402.00" x2="200.04" y2="406.50"/><line x1="234.64" y1="402.00" x2="234.64" y2="409.50"/><line x1="269.25" y1="402.00" x2="269.25" y2="406.50"/><line x1="303.86" y1="402.00" x2="303.86" y2="409.50"/><line x1="338.46" y1="402.00" x2="338.46" y2="406.50"/><line x1="373.07" y1="402.00" x2="373.07" y2="409.50"/><line x1="407.68" y1="402.00" x2="407.68" y2="406.50"/><line x1="442.29" y1="402.00" x2="442.29" y2="409.50"/><line x1="476.89" y1="402.00" x2="476.89" y2="406.50"/><line x1="511.50" y1="402.00" x2="511.50" y2="409.50"/>
</g>
<g font-family="'Liberation Sans', sans-serif" font-size="18.2" fill="#000" stroke="#000" stroke-width="0.22">
<text x="27.00" y="429.2" text-anchor="middle">5</text><text x="96.21" y="429.2" text-anchor="middle">10</text><text x="165.43" y="429.2" text-anchor="middle">15</text><text x="234.64" y="429.2" text-anchor="middle">20</text><text x="303.86" y="429.2" text-anchor="middle">25</text><text x="373.07" y="429.2" text-anchor="middle">30</text><text x="442.29" y="429.2" text-anchor="middle">35</text><text x="511.50" y="429.2" text-anchor="middle">40</text>
</g>
<g font-family="'Liberation Sans', sans-serif" font-size="18" fill="#000" stroke="#000" stroke-width="0.22">
<text x="213.6" y="456.3">2<tspan font-style="italic" font-size="19.5" x="224.9">&#952;</tspan><tspan x="240.9" font-size="18.2">(degrees)</tspan></text>
<text transform="translate(17.8,272.7) rotate(-90) scale(1.045,1)">Intensity (a.u.)</text>
</g>
<g stroke-width="2">
<line x1="96.3" y1="28.7" x2="123.9" y2="28.7" stroke="#000"/>
<line x1="95" y1="57.3" x2="123" y2="57.3" stroke="#e00000"/>
<line x1="262" y1="29.1" x2="290" y2="29.1" stroke="#1a1aa8"/>
</g>
<g font-family="'Liberation Sans', sans-serif" font-size="17.3" stroke-width="0.22">
<text x="128.8" y="34.4" fill="#000" stroke="#000">MetaMax</text>
<text x="130.2" y="61.0" fill="#000" stroke="#000">DGP-A</text>
<text x="294.9" y="33.3" fill="#000" stroke="#000">DGP-W</text>
<text x="295.0" y="61.0" fill="#808080" stroke="#808080">Anatase</text>
</g>
<g stroke="#8a8a8a" stroke-width="1.0">
<path d="M283.6 54.1V60.9M280.6 55.8L286.6 59.2M280.6 59.2L286.6 55.8"/>
<path d="M309.3 82.9V89.7M306.3 84.6L312.3 88M306.3 88L312.3 84.6"/>
</g>
</svg>
</body></html>
